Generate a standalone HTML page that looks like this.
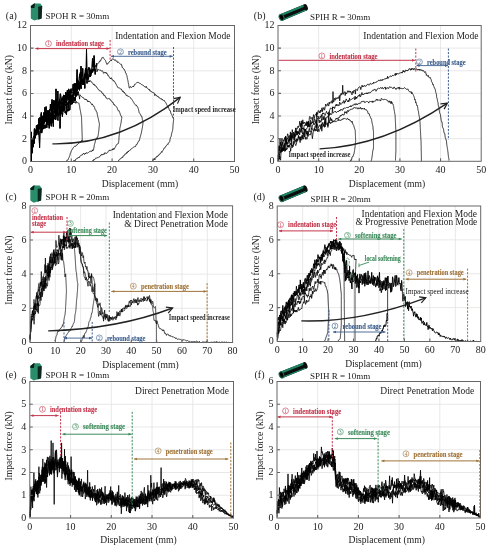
<!DOCTYPE html><html><head><meta charset="utf-8"><style>html,body{margin:0;padding:0;background:#fff;width:489px;height:550px;overflow:hidden}svg{display:block;filter:blur(0.3px)}</style></head><body><svg width="489" height="550" viewBox="0 0 489 550" font-family='"Liberation Serif", serif'>
<rect width="489" height="550" fill="#fff"/>
<path d="M71.3 25.5V161.5M112.1 25.5V161.5M152.9 25.5V161.5M193.7 25.5V161.5M30.5 138.83H234.5M30.5 116.17H234.5M30.5 93.5H234.5M30.5 70.83H234.5M30.5 48.17H234.5" stroke="#e2e2e2" stroke-width="0.8" fill="none"/>
<path d="M30.5 161.5 30.6 161.5 30.6 161.5 30.7 161.5 30.7 161.5 30.8 161.5 30.8 161.5 30.9 161.5 31.0 161.4 31.0 160.8 31.1 160.3 31.1 159.8 31.2 159.2 31.2 158.4 31.3 157.3 31.3 156.2 31.4 155.1 31.5 154.0 31.5 152.9 31.6 151.8 31.6 151.4 31.7 151.6 31.7 151.7 31.8 151.8 31.9 152.0 31.9 152.1 32.0 152.3 32.0 152.1 32.1 151.6 32.1 151.1 32.2 150.7 32.3 150.2 32.3 149.7 32.4 149.2 32.4 148.7 32.5 147.9 32.5 147.2 32.7 146.3 32.8 145.3 32.9 144.8 33.0 144.7 33.1 144.5 33.2 144.2 33.3 143.7 33.5 143.1 33.6 142.6 33.7 142.7 33.8 142.9 33.9 143.1 34.0 142.6 34.2 141.0 34.3 138.9 34.5 137.9 34.6 138.0 34.8 138.1 34.9 136.3 35.1 134.2 35.3 133.1 35.4 133.7 35.6 134.3 35.7 134.5 35.9 134.6 36.0 134.4 36.2 133.0 36.3 131.6 36.5 131.9 36.7 135.0 36.8 133.8 37.0 131.8 37.1 126.7 37.3 129.3 37.5 130.2 37.9 130.1 38.3 134.3 38.7 130.6 39.2 137.7 39.6 147.6 40.0 131.6 40.4 132.5 40.8 128.1 41.3 124.6 41.7 133.1 42.1 131.0 42.5 128.6 43.0 117.0 43.4 129.1 43.8 127.3 44.2 125.4 44.5 126.3 44.9 128.5 45.2 125.1 45.5 125.1 45.9 127.8 46.2 126.2 46.5 125.4 46.9 127.6 47.2 120.6 47.6 122.8 47.9 122.9 48.2 124.5 48.6 124.8 48.9 124.5 49.2 128.3 49.6 124.9 49.9 119.8 50.2 123.4 50.6 122.2 50.9 119.6 51.3 126.3 51.6 109.3 51.9 123.3 52.3 120.8 52.6 120.3 52.9 112.5 53.3 126.6 53.6 116.6 53.9 114.6 54.3 118.2 54.6 119.2 55.0 118.2 55.3 118.1 55.6 119.9 56.0 111.9 56.3 116.0 56.6 116.4 57.0 117.2 57.3 119.5 57.6 119.3 58.0 120.5 58.3 112.9 58.7 114.2 59.0 113.6 59.3 112.9 59.7 98.9 60.0 128.4 60.4 116.2 60.7 114.7 61.0 105.8 61.4 112.7 61.7 113.5 62.1 113.3 62.4 116.7 62.7 113.8 63.1 105.7 63.4 107.0 63.8 111.4 64.1 111.1 64.4 107.3 64.8 103.8 65.1 113.0 65.5 111.9 65.8 111.3 66.1 113.9 66.5 114.7 66.8 107.3 67.2 109.6 67.5 109.4 67.8 111.3 68.2 110.2 68.5 108.6 68.9 110.4 69.2 108.4 69.5 110.1 69.9 110.0 70.2 103.8 70.6 101.8 70.9 104.8 71.2 102.9 71.6 102.5 71.9 103.4 72.3 104.1 72.6 101.5 73.0 100.6 73.3 102.1 73.7 101.9 74.0 102.9 74.4 99.2 74.8 100.2 75.2 101.7 75.6 103.1 76.0 103.4 76.4 101.4 76.8 102.4 77.3 102.9 77.7 102.7 78.1 102.8 78.5 102.9 78.9 103.3 79.1 104.0 79.2 104.6 79.3 104.9 79.3 105.1 79.4 105.4 79.5 105.6 79.6 105.9 79.7 106.5 79.7 107.2 79.8 107.9 79.9 108.6 80.0 109.4 80.1 109.7 80.1 110.0 80.2 110.2 80.3 110.5 80.4 110.7 80.5 111.2 80.5 111.6 80.6 112.1 80.7 112.6 80.8 113.1 80.9 113.5 80.9 114.0 81.0 114.4 81.1 114.9 81.2 115.3 81.3 115.7 81.3 116.0 81.4 116.4 81.5 116.7 81.5 117.2 81.5 117.6 81.5 118.0 81.6 118.5 81.6 118.9 81.6 119.3 81.6 119.8 81.6 120.2 81.6 120.7 81.7 121.2 81.7 121.6 81.7 122.1 81.7 122.5 81.7 123.0 81.7 123.5 81.8 123.9 81.8 124.4 81.8 124.8 81.8 125.3 81.8 125.8 81.8 126.2 81.9 126.7 81.9 127.1 81.9 127.6 81.9 128.1 81.9 128.5 81.9 129.0 81.9 129.4 82.0 129.9 82.0 130.4 82.0 130.8 82.0 131.3 82.0 131.8 82.0 132.3 82.1 132.8 82.1 133.3 82.1 133.8 82.1 134.3 82.1 134.8 82.1 135.3 82.2 135.8 82.2 136.3 82.2 136.8 82.2 137.3 82.2 137.8 82.2 138.3 82.2 138.8 82.3 139.3 82.3 139.8 82.3 140.3 82.3 140.8 82.1 140.4 81.7 140.3 81.4 140.8 81.1 141.4 80.7 141.6 80.4 141.8 80.1 142.9 79.7 142.4 79.4 142.8 79.1 143.3 78.7 143.2 78.4 143.5 78.0 143.8 77.7 144.2 77.3 144.8 76.9 144.9 76.6 144.9 76.2 145.7 75.8 146.3 75.4 146.3 75.1 146.1 74.7 146.2 74.3 146.4 73.9 147.0 73.6 147.4 73.4 147.8 73.1 148.0 72.9 148.1 72.6 148.8 72.3 149.4 72.1 149.7 71.8 150.0 71.6 150.3 71.5 150.7 71.3 151.1 71.1 151.6 71.0 152.1 70.8 152.6 70.6 152.7 70.5 152.8 70.3 153.4 70.1 154.4 70.0 155.2 69.8 155.6 69.6 156.0 69.5 156.4 69.3 156.7 69.1 157.1 69.0 157.6 68.8 158.1 68.6 158.3 68.5 158.6 68.3 159.1 68.1 159.7 67.9 160.1 67.5 160.1 67.2 160.4 66.8 160.3 66.5 161.5 66.1 161.5 65.7 161.5 65.4 161.5" stroke="#000" stroke-width="0.8" fill="none" stroke-linejoin="round" opacity="1"/>
<path d="M30.5 161.5 30.6 161.5 30.6 161.5 30.7 161.5 30.7 161.5 30.8 161.5 30.8 161.5 30.9 161.5 31.0 161.4 31.0 160.8 31.1 160.3 31.1 159.8 31.2 159.2 31.2 158.4 31.3 157.3 31.3 156.2 31.4 155.1 31.5 154.0 31.5 152.9 31.6 151.8 31.6 151.4 31.7 151.6 31.7 151.7 31.8 151.8 31.9 152.0 31.9 152.1 32.0 152.3 32.0 152.1 32.1 151.6 32.1 151.1 32.2 150.7 32.3 150.2 32.3 149.7 32.4 149.2 32.4 148.7 32.5 147.9 32.5 147.2 32.7 146.3 32.8 145.3 32.9 144.8 33.0 144.7 33.1 144.5 33.2 144.2 33.3 143.7 33.5 143.1 33.6 142.6 33.7 142.7 33.8 142.9 33.9 143.1 34.0 142.6 34.2 141.0 34.3 138.9 34.5 137.9 34.6 138.0 34.8 138.1 34.9 136.3 35.1 134.2 35.3 133.1 35.4 133.7 35.6 134.3 35.7 134.5 35.9 134.6 36.0 134.4 36.2 133.0 36.3 131.6 36.5 131.9 36.7 135.0 36.8 133.8 37.0 131.8 37.1 126.7 37.3 129.3 37.5 130.2 37.9 130.1 38.3 134.3 38.7 130.6 39.2 137.7 39.6 147.6 40.0 131.6 40.4 132.5 40.8 128.1 41.3 124.6 41.7 133.1 42.1 131.0 42.5 128.6 43.0 117.0 43.4 129.1 43.8 127.3 44.2 125.4 44.5 126.3 44.9 128.5 45.2 125.1 45.5 125.1 45.9 127.8 46.2 126.2 46.5 125.4 46.9 127.6 47.2 120.6 47.6 122.8 47.9 122.9 48.2 124.5 48.6 124.8 48.9 124.5 49.2 128.3 49.6 124.9 49.9 119.8 50.2 123.4 50.6 122.2 50.9 119.6 51.3 126.3 51.6 109.3 51.9 123.3 52.3 120.8 52.6 120.3 52.9 112.5 53.3 126.6 53.6 116.6 53.9 114.6 54.3 118.2 54.6 119.2 55.0 118.2 55.3 118.1 55.6 119.9 56.0 111.9 56.3 116.0 56.6 116.4 57.0 117.2 57.3 119.5 57.6 119.3 58.0 120.5 58.3 112.9 58.7 114.2 59.0 113.6 59.3 112.9 59.7 98.9 60.0 128.4 60.4 116.2 60.7 114.7 61.0 105.8 61.4 112.7 61.7 113.5 62.1 113.3 62.4 116.7 62.7 113.8 63.1 105.7 63.4 107.0 63.8 111.4 64.1 111.1 64.4 107.3 64.8 103.8 65.1 113.0 65.5 111.9 65.8 111.3 66.1 113.9 66.5 114.7 66.8 107.3 67.2 109.6 67.5 109.4 67.8 111.3 68.2 110.2 68.5 108.6 68.9 110.4 69.2 108.4 69.5 110.1 69.9 110.0 70.2 103.8 70.6 101.8 70.9 104.8 71.2 102.9 71.6 102.5 71.9 103.4 72.3 104.1 72.6 101.5 73.0 100.6 73.3 102.1 73.7 101.9 74.0 102.9" stroke="#000" stroke-width="1.0" fill="none" stroke-linejoin="round"/>
<path d="M30.5 160.8 30.6 160.7 30.6 160.7 30.7 160.7 30.7 160.6 30.8 160.6 30.8 160.1 30.9 159.2 30.9 158.3 31.0 157.3 31.1 161.5 31.1 155.5 31.2 154.6 31.2 153.9 31.3 153.8 31.3 153.7 31.4 153.6 31.4 152.9 31.5 153.4 31.5 153.3 31.6 153.2 31.7 152.3 31.7 151.4 31.8 150.5 31.8 149.6 31.9 148.7 31.9 147.8 32.0 146.9 32.0 146.7 32.1 146.7 32.2 146.8 32.2 146.8 32.3 146.9 32.3 146.9 32.4 147.0 32.4 146.8 32.5 146.4 32.5 146.0 32.7 145.8 32.8 145.5 32.9 145.7 33.0 146.2 33.1 146.7 33.2 147.2 33.3 146.1 33.4 145.0 33.5 144.0 33.6 142.5 33.8 140.6 33.9 138.6 34.0 136.6 34.1 134.3 34.2 131.8 34.4 128.8 34.5 130.4 34.6 128.7 34.8 138.4 34.9 137.9 35.1 137.2 35.2 136.1 35.4 133.9 35.5 132.9 35.7 130.3 35.8 130.0 36.0 129.7 36.1 130.3 36.3 131.3 36.4 132.2 36.5 130.9 36.7 129.6 36.8 129.2 37.0 130.9 37.1 132.6 37.3 132.6 37.4 131.1 37.8 127.5 38.2 124.2 38.6 125.8 39.0 129.2 39.4 128.1 39.8 125.5 40.2 124.7 40.5 127.1 40.9 128.6 41.3 112.5 41.7 124.5 42.1 128.9 42.5 128.4 42.9 124.1 43.3 123.7 43.7 122.9 44.1 125.6 44.4 127.5 44.7 126.3 45.0 127.0 45.4 127.3 45.7 126.3 46.0 124.7 46.4 123.5 46.7 125.4 47.0 121.2 47.3 123.2 47.7 120.9 48.0 121.8 48.3 111.5 48.7 117.7 49.0 120.4 49.3 120.6 49.7 118.6 50.0 120.6 50.3 122.6 50.6 118.4 51.0 116.0 51.3 116.2 51.6 113.6 52.0 99.5 52.3 115.2 52.6 116.3 52.9 118.7 53.3 120.1 53.6 114.9 53.9 116.9 54.3 114.9 54.6 114.8 54.9 116.7 55.2 116.1 55.6 119.7 55.9 114.4 56.2 110.7 56.6 111.8 56.9 114.5 57.2 111.7 57.6 108.4 57.9 116.4 58.2 115.3 58.6 114.8 58.9 113.1 59.2 106.3 59.6 109.5 59.9 107.8 60.3 115.4 60.6 113.6 60.9 108.6 61.3 105.7 61.6 109.7 62.0 110.0 62.3 107.7 62.6 110.9 63.0 110.5 63.3 106.2 63.7 105.2 64.0 96.3 64.3 108.2 64.7 105.1 65.0 104.7 65.4 105.4 65.7 105.1 66.0 103.3 66.4 103.4 66.7 107.6 67.1 107.8 67.4 105.4 67.7 103.0 68.1 101.7 68.4 101.3 68.8 108.1 69.1 102.4 69.4 101.2 69.8 102.8 70.1 103.3 70.5 101.0 70.8 99.6 71.1 95.7 71.5 102.2 71.8 100.8 72.2 98.9 72.5 100.7 72.9 99.5 73.2 94.4 73.6 95.0 73.9 100.7 74.2 100.2 74.6 97.3 74.9 98.3 75.3 100.6 75.6 93.3 76.0 95.6 76.3 95.3 76.7 94.1 77.0 91.5 77.4 92.1 77.7 95.2 78.1 95.0 78.4 91.5 78.8 95.6 79.2 96.0 79.6 99.1 79.9 94.7 80.3 95.5 80.7 95.7 81.1 96.0 81.5 96.4 81.8 97.0 82.2 97.4 82.6 97.4 83.0 97.5 83.4 97.6 83.7 97.9 84.1 99.0 84.5 99.3 84.9 99.4 85.3 99.1 85.7 100.0 86.1 99.4 86.5 99.5 86.9 100.3 87.2 100.2 87.6 101.6 88.0 101.0 88.4 101.7 88.8 101.0 89.2 101.3 89.5 101.9 89.8 101.9 90.1 101.9 90.5 102.4 90.8 103.1 91.1 103.5 91.4 104.1 91.7 104.6 92.0 104.4 92.4 103.9 92.7 105.0 93.0 105.5 93.3 105.7 93.6 106.3 93.9 106.2 94.1 106.4 94.3 106.9 94.5 107.3 94.7 107.9 94.8 108.5 95.0 109.2 95.2 109.8 95.4 109.9 95.6 110.0 95.8 110.1 96.0 110.3 96.2 111.0 96.4 111.7 96.6 111.8 96.8 112.0 97.0 112.6 97.1 113.1 97.2 113.7 97.3 114.3 97.4 114.9 97.5 115.5 97.6 116.2 97.7 116.5 97.8 116.7 97.9 116.9 98.0 117.1 98.0 117.4 98.1 117.9 98.2 118.3 98.3 118.7 98.4 119.2 98.5 119.7 98.6 120.3 98.7 120.8 98.8 121.3 98.9 121.7 99.0 122.1 99.1 122.6 99.2 123.0 99.3 123.4 99.4 123.7 99.4 124.1 99.4 124.6 99.3 125.1 99.3 125.6 99.2 126.1 99.2 126.6 99.1 127.0 99.1 127.5 99.1 127.9 99.0 128.4 99.0 128.8 98.9 129.3 98.9 129.8 98.8 130.2 98.8 130.6 98.7 131.0 98.7 131.4 98.6 131.9 98.6 132.3 98.5 132.7 98.5 133.1 98.4 133.5 98.4 133.9 98.3 134.4 98.3 134.8 98.2 135.3 98.0 135.7 97.8 136.6 97.6 137.4 97.3 137.3 97.1 137.3 96.9 137.5 96.7 138.0 96.4 138.7 96.2 138.8 96.0 138.9 95.8 139.7 95.5 140.4 95.3 141.1 95.3 141.7 95.2 142.2 95.1 142.5 95.0 142.7 94.9 143.0 94.8 143.3 94.7 143.7 94.6 144.1 94.5 144.4 94.4 144.8 94.3 145.2 94.2 145.7 94.1 146.1 94.1 146.5 94.0 147.0 93.9 147.6 93.8 148.2 93.7 148.9 93.6 149.4 93.5 149.8 93.4 150.1 93.2 150.2 92.8 150.9 92.4 149.8 92.0 151.1 91.6 151.6 91.1 151.3 90.7 151.3 90.3 151.1 89.9 151.3 89.5 151.9 89.1 151.8 88.6 152.3 88.2 152.8 87.8 153.1 87.4 153.1 87.0 152.9 86.5 152.7 86.1 152.8 85.7 153.9 85.2 153.2 84.8 154.3 84.4 154.2 84.0 154.2 83.5 153.3 83.1 153.9 82.8 154.1 82.4 154.9 82.0 155.1 81.7 155.1 81.3 155.1 81.0 155.2 80.6 155.6 80.3 155.9 79.9 156.2 79.6 157.4 79.2 157.3 78.8 157.6 78.5 157.1 78.1 157.8 77.8 158.3 77.4 158.1 77.1 158.1 76.7 158.8 76.4 159.2 76.0 159.5 75.6 159.4 75.2 160.7 74.8 160.2 74.5 160.6 74.1 161.2 73.7 160.8 73.3 160.8 72.9 161.4" stroke="#000" stroke-width="0.8" fill="none" stroke-linejoin="round" opacity="1"/>
<path d="M30.5 160.8 30.6 160.7 30.6 160.7 30.7 160.7 30.7 160.6 30.8 160.6 30.8 160.1 30.9 159.2 30.9 158.3 31.0 157.3 31.1 161.5 31.1 155.5 31.2 154.6 31.2 153.9 31.3 153.8 31.3 153.7 31.4 153.6 31.4 152.9 31.5 153.4 31.5 153.3 31.6 153.2 31.7 152.3 31.7 151.4 31.8 150.5 31.8 149.6 31.9 148.7 31.9 147.8 32.0 146.9 32.0 146.7 32.1 146.7 32.2 146.8 32.2 146.8 32.3 146.9 32.3 146.9 32.4 147.0 32.4 146.8 32.5 146.4 32.5 146.0 32.7 145.8 32.8 145.5 32.9 145.7 33.0 146.2 33.1 146.7 33.2 147.2 33.3 146.1 33.4 145.0 33.5 144.0 33.6 142.5 33.8 140.6 33.9 138.6 34.0 136.6 34.1 134.3 34.2 131.8 34.4 128.8 34.5 130.4 34.6 128.7 34.8 138.4 34.9 137.9 35.1 137.2 35.2 136.1 35.4 133.9 35.5 132.9 35.7 130.3 35.8 130.0 36.0 129.7 36.1 130.3 36.3 131.3 36.4 132.2 36.5 130.9 36.7 129.6 36.8 129.2 37.0 130.9 37.1 132.6 37.3 132.6 37.4 131.1 37.8 127.5 38.2 124.2 38.6 125.8 39.0 129.2 39.4 128.1 39.8 125.5 40.2 124.7 40.5 127.1 40.9 128.6 41.3 112.5 41.7 124.5 42.1 128.9 42.5 128.4 42.9 124.1 43.3 123.7 43.7 122.9 44.1 125.6 44.4 127.5 44.7 126.3 45.0 127.0 45.4 127.3 45.7 126.3 46.0 124.7 46.4 123.5 46.7 125.4 47.0 121.2 47.3 123.2 47.7 120.9 48.0 121.8 48.3 111.5 48.7 117.7 49.0 120.4 49.3 120.6 49.7 118.6 50.0 120.6 50.3 122.6 50.6 118.4 51.0 116.0 51.3 116.2 51.6 113.6 52.0 99.5 52.3 115.2 52.6 116.3 52.9 118.7 53.3 120.1 53.6 114.9 53.9 116.9 54.3 114.9 54.6 114.8 54.9 116.7 55.2 116.1 55.6 119.7 55.9 114.4 56.2 110.7 56.6 111.8 56.9 114.5 57.2 111.7 57.6 108.4 57.9 116.4 58.2 115.3 58.6 114.8 58.9 113.1 59.2 106.3 59.6 109.5 59.9 107.8 60.3 115.4 60.6 113.6 60.9 108.6 61.3 105.7 61.6 109.7 62.0 110.0 62.3 107.7 62.6 110.9 63.0 110.5 63.3 106.2 63.7 105.2 64.0 96.3 64.3 108.2 64.7 105.1 65.0 104.7 65.4 105.4 65.7 105.1 66.0 103.3 66.4 103.4 66.7 107.6 67.1 107.8 67.4 105.4 67.7 103.0 68.1 101.7 68.4 101.3 68.8 108.1 69.1 102.4 69.4 101.2 69.8 102.8 70.1 103.3 70.5 101.0 70.8 99.6 71.1 95.7 71.5 102.2 71.8 100.8 72.2 98.9 72.5 100.7 72.9 99.5 73.2 94.4 73.6 95.0 73.9 100.7 74.2 100.2 74.6 97.3 74.9 98.3 75.3 100.6 75.6 93.3 76.0 95.6 76.3 95.3 76.7 94.1 77.0 91.5 77.4 92.1 77.7 95.2 78.1 95.0" stroke="#000" stroke-width="1.0" fill="none" stroke-linejoin="round"/>
<path d="M30.5 160.9 30.6 160.7 30.6 160.6 30.7 160.4 30.7 160.2 30.8 160.1 30.8 159.5 30.9 158.4 30.9 157.4 31.0 156.3 31.0 155.2 31.1 154.1 31.1 153.0 31.2 151.9 31.3 151.6 31.3 151.3 31.4 151.1 31.4 150.8 31.5 150.6 31.5 150.3 31.6 150.1 31.6 150.2 31.7 150.6 31.7 151.1 31.8 151.5 31.8 152.0 31.9 152.4 32.0 152.9 32.0 153.3 32.1 152.6 32.1 151.9 32.2 151.3 32.2 150.6 32.3 149.9 32.3 149.2 32.4 148.6 32.4 147.9 32.5 147.3 32.5 146.6 32.6 145.8 32.8 145.0 32.9 144.2 33.0 143.5 33.1 142.7 33.2 141.9 33.3 141.9 33.4 142.1 33.5 142.3 33.6 142.4 33.7 142.9 33.8 143.3 33.9 143.8 34.0 143.9 34.1 142.0 34.2 139.9 34.4 137.6 34.5 137.6 34.7 137.9 34.8 138.2 34.9 136.7 35.1 135.0 35.2 133.4 35.3 133.8 35.5 134.3 35.6 134.5 35.8 133.2 35.9 133.6 36.0 130.9 36.2 130.6 36.3 130.2 36.4 129.7 36.6 128.9 36.7 128.1 36.9 128.1 37.0 129.2 37.1 130.3 37.3 130.1 37.4 128.3 37.7 126.6 38.1 128.4 38.4 131.7 38.8 129.1 39.1 128.2 39.5 125.5 39.8 124.6 40.2 127.2 40.6 127.2 40.9 123.3 41.3 124.4 41.6 125.9 42.0 116.0 42.3 124.0 42.7 126.0 43.0 122.6 43.4 119.1 43.8 120.3 44.1 122.3 44.4 117.6 44.7 118.2 45.1 121.9 45.4 119.2 45.7 115.7 46.0 120.7 46.4 119.2 46.7 124.8 47.0 121.7 47.3 117.0 47.6 120.2 48.0 117.0 48.3 121.7 48.6 118.1 48.9 112.5 49.2 111.1 49.6 109.0 49.9 121.1 50.2 118.5 50.5 112.7 50.9 115.1 51.2 124.5 51.5 117.4 51.8 102.0 52.1 109.8 52.5 107.3 52.8 114.7 53.1 111.8 53.4 112.0 53.8 111.8 54.1 111.0 54.4 113.5 54.7 109.4 55.0 107.9 55.4 111.3 55.7 114.1 56.0 88.9 56.3 112.0 56.7 112.4 57.0 109.3 57.3 106.9 57.6 109.5 57.9 105.1 58.3 105.3 58.6 104.8 59.0 106.5 59.3 109.0 59.6 109.2 60.0 102.9 60.3 101.7 60.7 101.9 61.0 103.1 61.3 102.7 61.7 102.2 62.0 104.0 62.4 108.6 62.7 104.1 63.0 102.2 63.4 101.1 63.7 101.8 64.1 105.7 64.4 95.4 64.7 101.4 65.1 102.8 65.4 103.1 65.8 100.7 66.1 98.5 66.4 108.7 66.8 93.2 67.1 99.1 67.5 96.8 67.8 96.0 68.1 94.9 68.5 92.4 68.8 99.3 69.2 98.6 69.5 94.6 69.8 97.4 70.2 100.4 70.5 99.5 70.9 96.5 71.2 95.9 71.5 102.0 71.9 97.9 72.2 97.1 72.5 98.2 72.8 98.0 73.0 95.7 73.3 95.1 73.6 95.2 73.9 90.5 74.2 89.7 74.4 92.0 74.7 93.5 75.0 93.0 75.3 91.1 75.6 88.5 75.8 87.9 76.1 87.2 76.4 85.6 76.7 89.5 77.0 91.2 77.2 78.7 77.5 85.0 77.8 86.6 78.1 88.9 78.3 83.1 78.6 83.0 78.9 85.0 79.2 88.1 79.5 90.3 79.7 88.4 80.0 83.6 80.3 86.4 80.6 86.6 80.9 86.3 81.1 88.8 81.4 82.4 81.7 78.0 82.0 81.3 82.3 81.8 82.5 81.2 82.8 79.8 83.1 79.5 83.4 79.7 83.7 79.7 83.9 78.5 84.2 79.2 84.5 82.2 84.8 88.4 85.1 80.6 85.3 75.7 85.6 75.5 85.9 69.7 86.2 73.4 86.6 77.2 87.0 83.4 87.3 81.3 87.7 76.4 88.1 80.1 88.5 82.1 88.9 80.5 89.3 80.6 89.7 81.9 90.1 80.9 90.5 80.7 90.9 81.2 91.3 81.9 91.7 82.1 92.0 82.8 92.3 82.8 92.6 83.1 92.9 83.7 93.2 84.2 93.5 84.7 93.8 84.1 94.1 84.0 94.4 85.0 94.8 85.7 95.1 86.0 95.4 85.8 95.7 85.6 96.0 85.9 96.3 87.0 96.6 87.4 96.9 87.4 97.2 87.6 97.6 88.4 97.9 89.1 98.2 89.5 98.5 89.6 98.8 89.6 99.2 90.2 99.5 90.8 99.8 90.9 100.1 90.9 100.5 90.8 100.8 91.2 101.1 91.9 101.4 91.8 101.7 91.9 102.0 93.1 102.3 93.2 102.6 93.7 102.9 94.1 103.2 93.6 103.5 94.3 103.8 95.2 104.1 95.9 104.4 95.9 104.7 95.4 105.0 95.6 105.3 96.3 105.6 97.1 106.0 97.1 106.3 98.3 106.7 98.4 107.1 98.8 107.5 98.9 107.9 98.8 108.2 98.6 108.6 98.5 109.0 98.6 109.4 98.6 109.8 98.9 110.1 100.0 110.5 100.0 110.9 100.1 111.2 100.9 111.5 101.2 111.7 101.4 112.0 101.5 112.3 102.4 112.6 102.5 112.9 102.3 113.1 102.4 113.4 103.3 113.7 104.3 114.0 105.0 114.3 104.6 114.6 104.8 114.8 105.4 115.1 105.4 115.4 105.8 115.7 106.2 116.0 106.2 116.2 106.4 116.5 106.7 116.8 107.2 117.1 107.9 117.4 108.6 117.7 109.4 117.9 110.2 118.2 110.7 118.5 110.8 118.8 110.7 119.1 110.7 119.2 111.0 119.4 111.6 119.6 112.1 119.7 112.5 119.9 112.9 120.1 113.4 120.3 114.1 120.4 114.7 120.6 115.1 120.8 115.6 121.0 116.0 121.1 116.4 121.3 116.5 121.5 116.4 121.7 116.7 121.8 117.6 121.8 118.0 121.7 118.2 121.7 118.4 121.6 118.8 121.5 119.5 121.4 120.1 121.3 120.8 121.2 121.5 121.2 122.1 121.1 122.5 121.0 122.9 120.9 123.4 120.8 123.8 120.7 124.3 120.7 124.7 120.6 125.1 120.5 125.5 120.4 125.9 120.3 126.3 120.2 126.6 120.2 127.0 120.1 127.3 120.0 127.7 119.9 128.1 119.8 128.6 119.8 129.0 119.8 129.5 119.7 130.0 119.7 130.4 119.6 130.9 119.6 131.3 119.6 131.7 119.5 132.2 119.5 132.6 119.4 133.0 119.4 133.4 119.4 133.8 119.3 134.2 119.3 134.7 119.2 135.1 119.2 135.5 119.2 136.0 119.1 136.5 119.1 137.0 119.0 137.5 119.0 138.0 119.0 138.4 118.9 138.9 118.9 139.4 118.8 139.9 118.8 140.4 118.8 140.9 118.7 141.5 118.7 142.0 118.6 142.5 118.4 143.3 118.2 143.7 118.0 144.0 117.7 144.0 117.5 144.0 117.3 144.1 117.0 144.2 116.8 144.3 116.6 144.6 116.3 145.0 116.1 145.5 115.9 146.1 115.6 146.7 115.4 147.0 115.2 147.3 114.9 148.0 114.7 148.4 114.4 148.4 114.0 149.6 113.6 149.4 113.2 148.4 112.8 149.0 112.4 150.1 112.0 149.6 111.6 150.1 111.2 150.4 110.8 150.1 110.3 150.6 109.9 150.8 109.5 149.9 109.1 150.7 108.7 150.9 108.3 151.4 107.9 152.1 107.5 152.7 107.1 153.1 106.7 153.1 106.3 153.5 105.9 152.8 105.5 153.1 105.1 152.8 104.7 152.8 104.3 154.1 103.9 154.5 103.5 153.9 103.1 153.9 102.7 154.9 102.3 154.7 101.9 155.0 101.5 154.4 101.1 155.4 100.8 155.3 100.4 155.5 100.0 156.2 99.6 156.9 99.2 156.9 98.9 156.8 98.5 157.4 98.1 157.8 97.7 157.8 97.3 157.5 96.9 157.7 96.6 158.2 96.2 158.1 95.8 157.9 95.4 158.6 95.0 159.4 94.7 159.6 94.3 159.3 93.9 159.2 93.5 160.7 93.1 160.8 92.8 160.7 92.4 160.8 92.0 161.5 91.7 161.5" stroke="#000" stroke-width="0.8" fill="none" stroke-linejoin="round" opacity="1"/>
<path d="M30.5 160.9 30.6 160.7 30.6 160.6 30.7 160.4 30.7 160.2 30.8 160.1 30.8 159.5 30.9 158.4 30.9 157.4 31.0 156.3 31.0 155.2 31.1 154.1 31.1 153.0 31.2 151.9 31.3 151.6 31.3 151.3 31.4 151.1 31.4 150.8 31.5 150.6 31.5 150.3 31.6 150.1 31.6 150.2 31.7 150.6 31.7 151.1 31.8 151.5 31.8 152.0 31.9 152.4 32.0 152.9 32.0 153.3 32.1 152.6 32.1 151.9 32.2 151.3 32.2 150.6 32.3 149.9 32.3 149.2 32.4 148.6 32.4 147.9 32.5 147.3 32.5 146.6 32.6 145.8 32.8 145.0 32.9 144.2 33.0 143.5 33.1 142.7 33.2 141.9 33.3 141.9 33.4 142.1 33.5 142.3 33.6 142.4 33.7 142.9 33.8 143.3 33.9 143.8 34.0 143.9 34.1 142.0 34.2 139.9 34.4 137.6 34.5 137.6 34.7 137.9 34.8 138.2 34.9 136.7 35.1 135.0 35.2 133.4 35.3 133.8 35.5 134.3 35.6 134.5 35.8 133.2 35.9 133.6 36.0 130.9 36.2 130.6 36.3 130.2 36.4 129.7 36.6 128.9 36.7 128.1 36.9 128.1 37.0 129.2 37.1 130.3 37.3 130.1 37.4 128.3 37.7 126.6 38.1 128.4 38.4 131.7 38.8 129.1 39.1 128.2 39.5 125.5 39.8 124.6 40.2 127.2 40.6 127.2 40.9 123.3 41.3 124.4 41.6 125.9 42.0 116.0 42.3 124.0 42.7 126.0 43.0 122.6 43.4 119.1 43.8 120.3 44.1 122.3 44.4 117.6 44.7 118.2 45.1 121.9 45.4 119.2 45.7 115.7 46.0 120.7 46.4 119.2 46.7 124.8 47.0 121.7 47.3 117.0 47.6 120.2 48.0 117.0 48.3 121.7 48.6 118.1 48.9 112.5 49.2 111.1 49.6 109.0 49.9 121.1 50.2 118.5 50.5 112.7 50.9 115.1 51.2 124.5 51.5 117.4 51.8 102.0 52.1 109.8 52.5 107.3 52.8 114.7 53.1 111.8 53.4 112.0 53.8 111.8 54.1 111.0 54.4 113.5 54.7 109.4 55.0 107.9 55.4 111.3 55.7 114.1 56.0 88.9 56.3 112.0 56.7 112.4 57.0 109.3 57.3 106.9 57.6 109.5 57.9 105.1 58.3 105.3 58.6 104.8 59.0 106.5 59.3 109.0 59.6 109.2 60.0 102.9 60.3 101.7 60.7 101.9 61.0 103.1 61.3 102.7 61.7 102.2 62.0 104.0 62.4 108.6 62.7 104.1 63.0 102.2 63.4 101.1 63.7 101.8 64.1 105.7 64.4 95.4 64.7 101.4 65.1 102.8 65.4 103.1 65.8 100.7 66.1 98.5 66.4 108.7 66.8 93.2 67.1 99.1 67.5 96.8 67.8 96.0 68.1 94.9 68.5 92.4 68.8 99.3 69.2 98.6 69.5 94.6 69.8 97.4 70.2 100.4 70.5 99.5 70.9 96.5 71.2 95.9 71.5 102.0 71.9 97.9 72.2 97.1 72.5 98.2 72.8 98.0 73.0 95.7 73.3 95.1 73.6 95.2 73.9 90.5 74.2 89.7 74.4 92.0 74.7 93.5 75.0 93.0 75.3 91.1 75.6 88.5 75.8 87.9 76.1 87.2 76.4 85.6 76.7 89.5 77.0 91.2 77.2 78.7 77.5 85.0 77.8 86.6 78.1 88.9 78.3 83.1 78.6 83.0 78.9 85.0 79.2 88.1 79.5 90.3 79.7 88.4 80.0 83.6 80.3 86.4 80.6 86.6 80.9 86.3 81.1 88.8 81.4 82.4 81.7 78.0 82.0 81.3 82.3 81.8 82.5 81.2 82.8 79.8 83.1 79.5 83.4 79.7 83.7 79.7 83.9 78.5 84.2 79.2 84.5 82.2 84.8 88.4 85.1 80.6 85.3 75.7 85.6 75.5 85.9 69.7 86.2 73.4 86.6 77.2 87.0 83.4 87.3 81.3" stroke="#000" stroke-width="1.0" fill="none" stroke-linejoin="round"/>
<path d="M30.5 161.5 30.6 161.5 30.6 161.5 30.7 161.4 30.7 161.0 30.8 160.6 30.8 159.9 30.9 158.7 30.9 157.5 31.0 156.3 31.0 145.4 31.1 153.8 31.1 152.6 31.2 151.4 31.2 150.7 31.3 150.4 31.3 150.0 31.4 149.6 31.4 131.9 31.5 148.9 31.6 148.5 31.6 148.2 31.7 148.4 31.7 148.7 31.8 148.9 31.8 149.2 31.9 149.4 31.9 149.6 32.0 149.9 32.0 149.8 32.1 149.2 32.1 148.7 32.2 148.1 32.2 147.6 32.3 147.0 32.3 146.5 32.4 145.9 32.4 144.9 32.5 143.7 32.6 142.4 32.7 140.6 32.8 138.8 32.9 138.6 33.0 139.8 33.1 137.8 33.2 142.1 33.3 142.0 33.4 141.0 33.5 142.5 33.6 138.9 33.7 138.1 33.8 137.5 33.9 136.8 34.0 136.2 34.1 136.0 34.2 136.1 34.3 136.4 34.4 136.5 34.6 136.0 34.7 135.5 34.8 135.0 34.9 135.0 35.1 135.0 35.2 134.9 35.3 134.1 35.5 133.2 35.6 132.3 35.7 133.2 35.9 134.3 36.0 135.3 36.1 133.8 36.2 131.8 36.4 129.9 36.5 129.0 36.6 128.5 36.8 128.0 36.9 128.4 37.0 129.4 37.1 130.3 37.3 129.4 37.4 127.1 37.7 125.1 38.0 128.7 38.3 133.2 38.6 132.4 39.0 128.0 39.3 123.2 39.6 121.8 39.9 124.1 40.3 126.5 40.6 125.9 40.9 122.5 41.2 119.2 41.5 121.0 41.9 124.1 42.2 122.2 42.5 118.4 42.8 119.6 43.1 119.3 43.5 118.4 43.8 117.1 44.1 116.4 44.4 117.8 44.7 120.2 45.1 118.7 45.4 117.1 45.7 115.8 46.0 112.8 46.3 119.3 46.6 119.0 46.9 118.3 47.3 119.4 47.6 115.9 47.9 117.8 48.2 123.2 48.5 122.8 48.8 112.9 49.2 125.5 49.5 118.1 49.8 118.7 50.1 118.8 50.4 117.5 50.7 122.5 51.0 114.1 51.4 111.7 51.7 111.0 52.0 111.3 52.3 110.0 52.6 111.9 52.9 111.8 53.3 105.1 53.6 110.3 53.9 103.6 54.2 107.6 54.5 108.5 54.8 110.1 55.2 104.1 55.5 104.8 55.8 107.1 56.1 106.7 56.4 99.9 56.7 99.5 57.0 107.3 57.4 112.9 57.7 112.7 58.0 107.3 58.3 103.3 58.7 101.6 59.0 101.7 59.4 103.3 59.7 103.7 60.0 100.7 60.4 101.5 60.7 104.7 61.1 104.3 61.4 101.4 61.7 101.6 62.1 105.5 62.4 104.6 62.8 103.5 63.1 96.4 63.4 96.1 63.8 97.1 64.1 98.5 64.5 101.5 64.8 99.6 65.1 95.2 65.5 98.0 65.8 92.1 66.2 95.5 66.5 97.8 66.8 97.3 67.2 95.1 67.5 93.7 67.9 90.4 68.2 93.0 68.5 93.9 68.9 91.4 69.2 99.0 69.6 102.0 69.9 103.3 70.3 97.1 70.6 91.1 70.9 92.9 71.3 101.4 71.6 95.5 72.0 94.9 72.3 98.1 72.5 97.6 72.8 97.0 73.1 92.1 73.4 93.0 73.7 94.8 73.9 95.7 74.2 93.4 74.5 90.7 74.8 88.8 75.1 93.3 75.3 94.0 75.6 90.2 75.9 86.9 76.2 91.3 76.5 96.3 76.7 87.9 77.0 82.7 77.3 82.6 77.6 90.1 77.9 83.4 78.1 80.9 78.4 83.8 78.7 81.3 79.0 81.5 79.3 83.4 79.5 86.0 79.8 87.4 80.1 84.0 80.4 72.1 80.7 80.3 80.9 83.7 81.2 80.2 81.5 76.4 81.8 77.1 82.1 79.6 82.3 79.3 82.6 82.9 82.9 84.7 83.2 81.1 83.5 82.0 83.7 83.1 84.0 83.7 84.3 77.5 84.6 74.2 84.9 73.8 85.1 77.4 85.4 78.1 85.7 77.1 86.0 74.5 86.3 73.6 86.7 79.2 87.1 75.3 87.5 73.6 87.8 76.0 88.2 79.5 88.6 78.4 88.9 73.9 89.3 72.1 89.7 70.7 90.1 77.0 90.4 69.8 90.8 75.8 91.2 72.8 91.5 72.8 91.9 69.3 92.3 69.4 92.6 72.4 93.0 71.3 93.4 69.3 93.8 70.3 94.1 55.6 94.5 70.4 94.9 70.1 95.2 74.4 95.6 69.2 96.0 66.4 96.5 63.2 96.9 71.8 97.3 71.0 97.8 69.4 98.2 69.3 98.6 69.8 99.1 69.9 99.5 69.9 99.9 70.4 100.3 70.3 100.6 70.2 101.0 70.3 101.3 70.6 101.7 71.3 102.0 70.9 102.3 70.7 102.7 71.3 103.0 71.8 103.4 72.8 103.7 73.4 104.1 72.5 104.6 72.5 105.0 72.9 105.5 72.9 105.9 72.1 106.4 73.6 106.8 73.5 107.1 73.4 107.3 73.6 107.5 74.1 107.8 75.0 108.0 75.9 108.3 75.7 108.5 75.7 108.7 76.1 109.0 76.7 109.2 77.3 109.5 77.3 109.7 77.5 110.1 78.0 110.4 79.0 110.8 78.3 111.1 77.8 111.5 77.9 111.8 78.9 112.2 79.8 112.5 80.0 112.9 79.8 113.2 80.1 113.5 81.0 113.9 81.2 114.1 81.2 114.4 80.9 114.6 81.6 114.9 82.2 115.2 82.4 115.4 83.1 115.7 83.6 116.0 83.7 116.2 84.4 116.5 85.1 116.8 85.5 117.0 86.0 117.3 86.5 117.5 87.2 117.8 87.3 118.2 87.5 118.5 88.0 118.9 87.9 119.2 87.9 119.5 88.0 119.9 88.2 120.2 88.7 120.6 89.0 120.9 89.0 121.3 89.0 121.6 89.8 122.0 90.0 122.3 91.0 122.6 91.5 122.9 91.4 123.2 90.9 123.5 91.8 123.8 92.5 124.1 92.7 124.4 92.3 124.7 93.3 125.0 93.5 125.3 93.5 125.6 94.2 125.9 94.7 126.3 95.5 126.7 94.9 127.1 95.6 127.4 96.2 127.8 95.8 128.2 96.3 128.6 96.4 129.0 96.4 129.4 96.7 129.8 97.1 130.1 97.5 130.4 97.7 130.6 97.8 130.8 98.1 131.1 98.7 131.3 99.0 131.5 99.0 131.8 99.4 132.0 99.9 132.2 100.2 132.5 100.5 132.7 100.9 132.9 101.2 133.2 101.5 133.4 102.0 133.6 102.4 133.9 102.7 134.1 103.1 134.4 103.6 134.8 104.0 135.2 104.7 135.6 105.3 135.9 105.1 136.3 105.0 136.7 105.7 137.0 106.5 137.4 106.6 137.5 106.9 137.7 107.1 137.8 107.4 137.9 107.8 138.1 108.1 138.2 108.4 138.3 108.8 138.4 109.2 138.6 109.8 138.7 110.5 138.8 111.1 139.0 111.7 139.1 112.2 139.2 112.7 139.3 112.9 139.5 113.1 139.7 113.2 139.9 113.5 140.1 113.9 140.4 114.5 140.6 114.7 140.8 114.8 141.0 115.6 141.2 116.3 141.4 116.3 141.7 116.3 141.9 116.6 142.0 116.9 142.1 117.7 142.2 118.5 142.3 119.3 142.5 119.8 142.6 120.2 142.7 120.6 142.8 121.0 142.9 121.2 143.1 121.4 143.1 121.8 143.0 122.4 143.0 123.0 142.9 123.5 142.8 124.1 142.8 124.6 142.7 125.1 142.7 125.5 142.6 126.0 142.5 126.5 142.5 126.9 142.4 127.4 142.4 127.7 142.3 128.0 142.2 128.2 142.2 128.5 142.1 128.8 142.0 129.0 142.0 129.3 141.9 129.8 141.9 130.3 141.7 130.8 141.6 131.4 141.5 132.0 141.4 132.7 141.3 133.4 141.1 133.8 141.0 134.0 140.9 134.3 140.8 134.5 140.7 135.1 140.6 135.7 140.4 136.3 140.3 136.7 140.2 137.0 140.1 137.4 140.0 137.7 139.9 138.3 139.7 138.8 139.6 139.3 139.5 139.9 139.3 140.6 139.1 141.1 138.8 141.2 138.6 141.2 138.3 141.4 138.1 141.9 137.8 142.5 137.6 143.1 137.3 143.9 137.1 144.4 136.8 144.5 136.6 144.4 136.3 144.4 136.1 145.0 135.8 145.7 135.6 146.5 135.3 146.6 135.1 146.7 134.8 146.6 134.4 146.8 134.0 146.8 133.7 147.1 133.3 147.3 132.9 147.6 132.5 147.9 132.1 148.3 131.8 148.4 131.4 149.0 131.0 149.4 130.6 149.6 130.3 150.2 129.9 150.5 129.5 150.5 129.1 150.7 128.7 150.9 128.4 151.8 128.0 151.2 127.7 152.1 127.4 152.8 127.1 152.6 126.7 152.2 126.4 153.7 126.1 153.7 125.8 153.7 125.5 153.8 125.2 153.8 124.9 154.8 124.5 154.7 124.2 155.0 123.9 155.9 123.6 156.2 123.3 155.8 123.0 156.4 122.7 157.4 122.4 158.0 122.0 157.4 121.7 157.7 121.4 157.8 121.0 158.0 120.7 158.7 120.3 159.0 119.9 159.0 119.6 159.3 119.2 159.7 118.8 160.3 118.4 161.0 118.1 160.9 117.7 161.5 117.3 161.5 117.0 161.5 116.6 161.5" stroke="#000" stroke-width="0.8" fill="none" stroke-linejoin="round" opacity="1"/>
<path d="M30.5 161.5 30.6 161.5 30.6 161.5 30.7 161.4 30.7 161.0 30.8 160.6 30.8 159.9 30.9 158.7 30.9 157.5 31.0 156.3 31.0 145.4 31.1 153.8 31.1 152.6 31.2 151.4 31.2 150.7 31.3 150.4 31.3 150.0 31.4 149.6 31.4 131.9 31.5 148.9 31.6 148.5 31.6 148.2 31.7 148.4 31.7 148.7 31.8 148.9 31.8 149.2 31.9 149.4 31.9 149.6 32.0 149.9 32.0 149.8 32.1 149.2 32.1 148.7 32.2 148.1 32.2 147.6 32.3 147.0 32.3 146.5 32.4 145.9 32.4 144.9 32.5 143.7 32.6 142.4 32.7 140.6 32.8 138.8 32.9 138.6 33.0 139.8 33.1 137.8 33.2 142.1 33.3 142.0 33.4 141.0 33.5 142.5 33.6 138.9 33.7 138.1 33.8 137.5 33.9 136.8 34.0 136.2 34.1 136.0 34.2 136.1 34.3 136.4 34.4 136.5 34.6 136.0 34.7 135.5 34.8 135.0 34.9 135.0 35.1 135.0 35.2 134.9 35.3 134.1 35.5 133.2 35.6 132.3 35.7 133.2 35.9 134.3 36.0 135.3 36.1 133.8 36.2 131.8 36.4 129.9 36.5 129.0 36.6 128.5 36.8 128.0 36.9 128.4 37.0 129.4 37.1 130.3 37.3 129.4 37.4 127.1 37.7 125.1 38.0 128.7 38.3 133.2 38.6 132.4 39.0 128.0 39.3 123.2 39.6 121.8 39.9 124.1 40.3 126.5 40.6 125.9 40.9 122.5 41.2 119.2 41.5 121.0 41.9 124.1 42.2 122.2 42.5 118.4 42.8 119.6 43.1 119.3 43.5 118.4 43.8 117.1 44.1 116.4 44.4 117.8 44.7 120.2 45.1 118.7 45.4 117.1 45.7 115.8 46.0 112.8 46.3 119.3 46.6 119.0 46.9 118.3 47.3 119.4 47.6 115.9 47.9 117.8 48.2 123.2 48.5 122.8 48.8 112.9 49.2 125.5 49.5 118.1 49.8 118.7 50.1 118.8 50.4 117.5 50.7 122.5 51.0 114.1 51.4 111.7 51.7 111.0 52.0 111.3 52.3 110.0 52.6 111.9 52.9 111.8 53.3 105.1 53.6 110.3 53.9 103.6 54.2 107.6 54.5 108.5 54.8 110.1 55.2 104.1 55.5 104.8 55.8 107.1 56.1 106.7 56.4 99.9 56.7 99.5 57.0 107.3 57.4 112.9 57.7 112.7 58.0 107.3 58.3 103.3 58.7 101.6 59.0 101.7 59.4 103.3 59.7 103.7 60.0 100.7 60.4 101.5 60.7 104.7 61.1 104.3 61.4 101.4 61.7 101.6 62.1 105.5 62.4 104.6 62.8 103.5 63.1 96.4 63.4 96.1 63.8 97.1 64.1 98.5 64.5 101.5 64.8 99.6 65.1 95.2 65.5 98.0 65.8 92.1 66.2 95.5 66.5 97.8 66.8 97.3 67.2 95.1 67.5 93.7 67.9 90.4 68.2 93.0 68.5 93.9 68.9 91.4 69.2 99.0 69.6 102.0 69.9 103.3 70.3 97.1 70.6 91.1 70.9 92.9 71.3 101.4 71.6 95.5 72.0 94.9 72.3 98.1 72.5 97.6 72.8 97.0 73.1 92.1 73.4 93.0 73.7 94.8 73.9 95.7 74.2 93.4 74.5 90.7 74.8 88.8 75.1 93.3 75.3 94.0 75.6 90.2 75.9 86.9 76.2 91.3 76.5 96.3 76.7 87.9 77.0 82.7 77.3 82.6 77.6 90.1 77.9 83.4 78.1 80.9 78.4 83.8 78.7 81.3 79.0 81.5 79.3 83.4 79.5 86.0 79.8 87.4 80.1 84.0 80.4 72.1 80.7 80.3 80.9 83.7 81.2 80.2 81.5 76.4 81.8 77.1 82.1 79.6 82.3 79.3 82.6 82.9 82.9 84.7 83.2 81.1 83.5 82.0 83.7 83.1 84.0 83.7 84.3 77.5 84.6 74.2 84.9 73.8 85.1 77.4 85.4 78.1 85.7 77.1 86.0 74.5 86.3 73.6 86.7 79.2 87.1 75.3 87.5 73.6 87.8 76.0 88.2 79.5 88.6 78.4 88.9 73.9 89.3 72.1 89.7 70.7 90.1 77.0 90.4 69.8 90.8 75.8 91.2 72.8 91.5 72.8 91.9 69.3 92.3 69.4 92.6 72.4 93.0 71.3 93.4 69.3 93.8 70.3 94.1 55.6 94.5 70.4 94.9 70.1 95.2 74.4 95.6 69.2" stroke="#000" stroke-width="1.0" fill="none" stroke-linejoin="round"/>
<path d="M30.5 158.6 30.6 158.7 30.6 148.9 30.7 158.8 30.7 158.8 30.8 158.9 30.8 158.8 30.9 157.8 30.9 156.8 31.0 155.8 31.0 154.8 31.1 153.8 31.1 152.8 31.2 151.8 31.2 151.0 31.3 150.5 31.3 150.1 31.4 149.7 31.4 149.3 31.5 148.9 31.5 148.4 31.6 148.0 31.6 147.8 31.7 147.7 31.7 147.6 31.8 147.5 31.8 147.4 31.9 147.3 31.9 147.2 32.0 147.1 32.0 146.4 32.1 145.3 32.1 144.2 32.2 143.1 32.2 142.0 32.3 140.9 32.3 139.8 32.4 138.7 32.4 138.8 32.5 139.1 32.6 139.6 32.7 140.6 32.7 141.6 32.8 142.1 32.9 141.9 33.0 141.6 33.1 141.4 33.2 141.0 33.3 140.2 33.4 139.4 33.5 138.6 33.6 137.9 33.7 137.6 33.8 137.4 33.9 137.2 34.0 137.0 34.1 136.7 34.2 136.5 34.3 136.3 34.4 136.0 34.6 135.7 34.7 135.4 34.8 135.2 34.9 135.6 35.0 136.0 35.2 136.5 35.3 134.9 35.4 132.8 35.5 130.6 35.7 130.2 35.8 131.6 35.9 133.0 36.0 133.4 36.2 130.7 36.3 128.1 36.4 125.3 36.5 125.4 36.6 125.5 36.8 125.6 36.9 126.0 37.0 126.6 37.1 127.2 37.3 127.4 37.4 126.9 37.6 126.3 37.9 126.7 38.2 126.0 38.5 123.7 38.7 118.5 39.0 119.9 39.3 122.1 39.6 122.8 39.9 117.3 40.2 118.1 40.5 121.3 40.8 121.0 41.1 115.7 41.3 114.2 41.6 116.9 41.9 115.6 42.2 116.4 42.5 117.4 42.8 117.4 43.1 117.4 43.4 117.1 43.7 116.0 43.9 112.4 44.2 117.8 44.6 123.3 44.9 107.3 45.2 118.9 45.5 120.5 45.8 118.5 46.1 106.6 46.4 119.1 46.7 121.0 47.0 111.8 47.3 111.4 47.6 110.5 47.9 115.5 48.3 111.3 48.6 110.7 48.9 112.9 49.2 110.4 49.5 109.9 49.8 111.7 50.1 111.0 50.4 104.1 50.7 110.1 51.0 107.2 51.3 104.7 51.6 106.7 52.0 110.7 52.3 109.3 52.6 106.5 52.9 104.7 53.2 107.7 53.5 100.3 53.8 103.7 54.1 106.6 54.4 100.7 54.7 107.9 55.0 105.6 55.3 100.9 55.7 99.3 56.0 101.4 56.3 103.3 56.6 102.5 56.9 105.1 57.2 105.7 57.5 104.8 57.8 91.0 58.2 103.3 58.5 103.4 58.8 104.0 59.2 104.9 59.5 109.6 59.9 101.0 60.2 93.8 60.5 93.8 60.9 97.2 61.2 98.8 61.6 101.2 61.9 98.7 62.2 97.7 62.6 99.4 62.9 101.0 63.2 98.6 63.6 94.9 63.9 96.5 64.3 98.3 64.6 98.1 64.9 98.5 65.3 99.8 65.6 96.6 66.0 95.2 66.3 97.0 66.6 95.5 67.0 92.6 67.3 90.3 67.7 91.2 68.0 100.7 68.3 99.3 68.7 88.9 69.0 89.8 69.4 90.7 69.7 92.3 70.0 96.7 70.4 91.7 70.7 89.2 71.1 88.7 71.4 91.2 71.7 93.2 72.1 91.4 72.4 88.8 72.6 88.7 72.9 87.3 73.2 84.1 73.5 93.1 73.8 94.2 74.0 89.3 74.3 83.4 74.6 86.2 74.9 90.4 75.2 87.1 75.4 83.4 75.7 83.8 76.0 90.4 76.3 85.9 76.6 81.1 76.8 77.8 77.1 69.6 77.4 90.7 77.7 89.7 78.0 82.1 78.2 82.8 78.5 83.3 78.8 80.9 79.1 79.9 79.3 77.2 79.6 73.9 79.9 78.0 80.2 77.0 80.5 74.2 80.7 74.4 81.0 66.1 81.3 75.5 81.6 72.1 81.9 74.7 82.1 76.6 82.4 76.6 82.7 68.4 83.0 74.4 83.3 84.9 83.5 82.3 83.8 81.1 84.1 79.6 84.4 77.1 84.7 75.2 84.9 75.0 85.2 71.7 85.5 68.5 85.8 70.3 86.1 76.5 86.5 49.3 86.9 72.5 87.3 73.8 87.7 72.6 88.1 68.9 88.5 69.5 88.9 67.3 89.3 72.4 89.7 68.4 90.1 76.3 90.5 71.7 90.9 73.9 91.3 70.0 91.7 72.4 92.1 66.3 92.5 58.5 92.9 66.6 93.3 61.1 93.7 66.2 94.0 65.4 94.4 58.5 94.8 67.0 95.1 66.5 95.4 66.8 95.7 66.6 96.0 65.1 96.3 66.7 96.6 66.1 96.9 65.2 97.2 64.0 97.5 63.8 97.8 63.3 98.1 63.0 98.4 63.2 98.7 63.0 99.0 62.4 99.2 61.6 99.5 61.4 99.7 61.5 100.0 61.7 100.3 60.5 100.5 60.1 100.8 60.4 101.1 59.5 101.3 58.9 101.6 58.8 101.8 58.3 102.1 57.7 102.4 57.2 102.6 57.3 102.9 57.6 103.2 57.4 103.5 58.0 103.8 58.5 104.1 58.9 104.4 59.2 104.7 59.7 105.0 60.0 105.2 60.2 105.5 60.6 105.7 61.1 105.9 61.8 106.0 62.3 106.2 62.5 106.3 62.6 106.5 63.0 106.6 63.6 106.8 64.2 107.1 64.5 107.4 63.8 107.8 63.2 108.2 63.2 108.5 63.2 108.9 62.3 109.2 62.1 109.6 61.5 109.9 61.3 110.2 60.9 110.6 60.5 110.9 60.5 111.2 61.0 111.6 59.8 111.9 59.3 112.3 59.1 112.7 59.0 113.1 59.4 113.6 59.1 114.0 59.4 114.4 60.1 114.9 60.3 115.3 59.7 115.7 60.5 116.2 61.3 116.5 61.2 116.9 60.8 117.2 61.6 117.6 62.6 117.9 62.2 118.2 62.0 118.6 62.2 118.9 62.6 119.3 63.0 119.6 63.4 120.0 63.8 120.3 64.1 120.6 64.3 120.8 64.4 121.1 64.1 121.4 64.2 121.6 64.8 121.9 66.0 122.2 67.0 122.4 67.8 122.7 67.7 122.9 67.8 123.2 68.2 123.5 68.5 123.7 69.0 124.0 69.7 124.3 69.6 124.5 69.7 124.6 70.2 124.8 70.7 125.0 71.0 125.2 71.3 125.4 72.0 125.5 72.7 125.7 73.0 125.9 73.0 126.1 73.3 126.3 74.1 126.4 74.7 126.6 75.1 126.8 75.4 126.9 75.8 127.0 76.2 127.1 76.6 127.2 77.0 127.2 77.5 127.3 77.9 127.4 78.4 127.5 78.8 127.6 79.3 127.7 79.7 127.8 80.2 127.9 80.6 128.0 81.1 128.1 81.5 128.2 82.0 128.2 82.5 128.3 82.9 128.4 83.4 128.5 83.8 128.6 84.3 128.7 84.8 128.7 85.2 128.8 85.7 128.9 86.1 129.0 86.6 129.1 87.0 129.1 87.5 129.2 87.9 129.6 87.9 130.0 87.6 130.4 86.5 130.9 87.0 131.3 87.6 131.7 87.2 132.2 86.5 132.6 86.6 133.0 86.1 133.3 86.1 133.6 86.7 134.0 86.0 134.3 85.3 134.6 84.6 134.9 84.1 135.2 84.3 135.5 83.9 135.9 83.6 136.2 83.2 136.5 82.9 136.8 82.5 137.1 82.5 137.5 82.4 137.9 82.6 138.3 82.5 138.7 82.4 139.1 82.9 139.5 83.4 139.9 83.3 140.3 83.5 140.7 83.7 141.1 84.2 141.5 84.6 141.9 84.5 142.2 84.7 142.6 84.8 143.0 85.3 143.4 85.8 143.7 85.7 144.1 86.2 144.5 86.7 144.8 86.6 145.2 87.2 145.6 87.1 146.0 87.2 146.3 86.4 146.7 87.8 147.1 88.0 147.4 88.3 147.8 88.5 148.2 88.8 148.5 89.4 148.9 89.6 149.2 89.1 149.6 89.6 149.9 91.0 150.3 90.9 150.6 90.9 151.0 91.5 151.3 92.0 151.7 91.8 152.0 91.8 152.4 92.3 152.7 92.4 153.1 92.2 153.4 92.8 153.8 93.2 154.1 92.9 154.5 93.4 154.8 95.6 155.2 94.7 155.5 94.5 155.9 95.0 156.3 95.7 156.6 95.6 157.0 95.6 157.3 96.4 157.7 97.0 158.1 96.5 158.4 97.1 158.8 97.3 159.2 98.1 159.5 97.7 159.9 98.0 160.3 98.6 160.6 98.9 161.0 98.7 161.4 98.6 161.7 99.2 162.1 100.1 162.5 99.5 162.8 100.1 163.2 100.4 163.6 100.3 163.9 100.0 164.3 100.5 164.7 101.3 164.9 101.8 165.1 101.9 165.4 102.2 165.6 102.5 165.8 102.7 166.0 103.0 166.3 103.8 166.5 104.3 166.7 104.6 167.0 105.0 167.2 105.4 167.4 105.8 167.6 106.2 167.9 107.3 168.1 107.7 168.3 107.3 168.6 107.6 168.8 108.4 169.0 108.9 169.2 109.4 169.5 110.2 169.7 110.6 169.9 110.7 170.1 110.7 170.3 110.7 170.5 111.0 170.6 111.9 170.8 112.8 171.0 113.4 171.1 113.9 171.3 114.1 171.5 114.1 171.6 114.2 171.8 114.7 172.0 115.2 172.1 115.6 172.3 116.0 172.5 116.5 172.7 117.3 172.8 117.9 173.0 117.8 173.2 117.8 173.3 118.0 173.5 118.4 173.7 119.1 173.7 119.6 173.6 119.7 173.6 120.1 173.5 120.5 173.5 121.0 173.4 121.5 173.4 122.0 173.3 122.4 173.3 122.9 173.2 123.4 173.2 123.9 173.1 124.5 173.1 125.0 173.0 125.6 173.0 126.2 172.9 126.8 172.9 127.4 172.8 127.9 172.8 128.5 172.8 128.9 172.7 129.3 172.7 129.6 172.6 130.0 172.6 130.3 172.5 130.7 172.4 131.0 172.3 131.4 172.2 131.9 172.0 132.3 171.9 132.7 171.8 133.1 171.7 133.5 171.5 134.0 171.4 134.8 171.3 135.5 171.2 136.2 171.1 136.5 170.9 136.8 170.8 137.2 170.7 137.3 170.6 137.4 170.4 137.5 170.3 138.0 170.2 138.8 170.1 139.5 169.9 140.1 169.8 140.8 169.7 141.4 169.6 141.9 169.4 142.1 169.3 142.3 169.1 142.5 168.9 142.8 168.6 142.8 168.3 143.2 168.0 144.5 167.8 144.3 167.5 144.2 167.2 144.6 166.9 145.0 166.7 145.4 166.4 145.8 166.1 145.8 165.8 146.0 165.6 146.6 165.3 147.0 165.0 147.6 164.7 148.2 164.5 148.0 164.2 148.1 163.9 148.3 163.7 149.1 163.4 149.8 163.1 150.3 162.8 150.6 162.6 150.8 162.3 151.3 162.0 152.3 161.6 151.6 161.3 151.8 161.0 152.6 160.7 153.3 160.4 153.7 160.0 153.7 159.7 153.8 159.4 154.5 159.1 155.0 158.7 154.9 158.4 155.4 158.1 155.3 157.8 156.2 157.5 156.7 157.1 156.2 156.8 156.3 156.5 157.3 156.2 157.6 155.8 157.5 155.5 157.6 155.2 158.4 154.9 159.8 154.6 159.1 154.3 158.4 154.0 159.0 153.6 160.0 153.3 159.7 153.0 160.0 152.7 160.8 152.4 161.3 152.1 161.4" stroke="#000" stroke-width="0.8" fill="none" stroke-linejoin="round" opacity="1"/>
<path d="M30.5 158.6 30.6 158.7 30.6 148.9 30.7 158.8 30.7 158.8 30.8 158.9 30.8 158.8 30.9 157.8 30.9 156.8 31.0 155.8 31.0 154.8 31.1 153.8 31.1 152.8 31.2 151.8 31.2 151.0 31.3 150.5 31.3 150.1 31.4 149.7 31.4 149.3 31.5 148.9 31.5 148.4 31.6 148.0 31.6 147.8 31.7 147.7 31.7 147.6 31.8 147.5 31.8 147.4 31.9 147.3 31.9 147.2 32.0 147.1 32.0 146.4 32.1 145.3 32.1 144.2 32.2 143.1 32.2 142.0 32.3 140.9 32.3 139.8 32.4 138.7 32.4 138.8 32.5 139.1 32.6 139.6 32.7 140.6 32.7 141.6 32.8 142.1 32.9 141.9 33.0 141.6 33.1 141.4 33.2 141.0 33.3 140.2 33.4 139.4 33.5 138.6 33.6 137.9 33.7 137.6 33.8 137.4 33.9 137.2 34.0 137.0 34.1 136.7 34.2 136.5 34.3 136.3 34.4 136.0 34.6 135.7 34.7 135.4 34.8 135.2 34.9 135.6 35.0 136.0 35.2 136.5 35.3 134.9 35.4 132.8 35.5 130.6 35.7 130.2 35.8 131.6 35.9 133.0 36.0 133.4 36.2 130.7 36.3 128.1 36.4 125.3 36.5 125.4 36.6 125.5 36.8 125.6 36.9 126.0 37.0 126.6 37.1 127.2 37.3 127.4 37.4 126.9 37.6 126.3 37.9 126.7 38.2 126.0 38.5 123.7 38.7 118.5 39.0 119.9 39.3 122.1 39.6 122.8 39.9 117.3 40.2 118.1 40.5 121.3 40.8 121.0 41.1 115.7 41.3 114.2 41.6 116.9 41.9 115.6 42.2 116.4 42.5 117.4 42.8 117.4 43.1 117.4 43.4 117.1 43.7 116.0 43.9 112.4 44.2 117.8 44.6 123.3 44.9 107.3 45.2 118.9 45.5 120.5 45.8 118.5 46.1 106.6 46.4 119.1 46.7 121.0 47.0 111.8 47.3 111.4 47.6 110.5 47.9 115.5 48.3 111.3 48.6 110.7 48.9 112.9 49.2 110.4 49.5 109.9 49.8 111.7 50.1 111.0 50.4 104.1 50.7 110.1 51.0 107.2 51.3 104.7 51.6 106.7 52.0 110.7 52.3 109.3 52.6 106.5 52.9 104.7 53.2 107.7 53.5 100.3 53.8 103.7 54.1 106.6 54.4 100.7 54.7 107.9 55.0 105.6 55.3 100.9 55.7 99.3 56.0 101.4 56.3 103.3 56.6 102.5 56.9 105.1 57.2 105.7 57.5 104.8 57.8 91.0 58.2 103.3 58.5 103.4 58.8 104.0 59.2 104.9 59.5 109.6 59.9 101.0 60.2 93.8 60.5 93.8 60.9 97.2 61.2 98.8 61.6 101.2 61.9 98.7 62.2 97.7 62.6 99.4 62.9 101.0 63.2 98.6 63.6 94.9 63.9 96.5 64.3 98.3 64.6 98.1 64.9 98.5 65.3 99.8 65.6 96.6 66.0 95.2 66.3 97.0 66.6 95.5 67.0 92.6 67.3 90.3 67.7 91.2 68.0 100.7 68.3 99.3 68.7 88.9 69.0 89.8 69.4 90.7 69.7 92.3 70.0 96.7 70.4 91.7 70.7 89.2 71.1 88.7 71.4 91.2 71.7 93.2 72.1 91.4 72.4 88.8 72.6 88.7 72.9 87.3 73.2 84.1 73.5 93.1 73.8 94.2 74.0 89.3 74.3 83.4 74.6 86.2 74.9 90.4 75.2 87.1 75.4 83.4 75.7 83.8 76.0 90.4 76.3 85.9 76.6 81.1 76.8 77.8 77.1 69.6 77.4 90.7 77.7 89.7 78.0 82.1 78.2 82.8 78.5 83.3 78.8 80.9 79.1 79.9 79.3 77.2 79.6 73.9 79.9 78.0 80.2 77.0 80.5 74.2 80.7 74.4 81.0 66.1 81.3 75.5 81.6 72.1 81.9 74.7 82.1 76.6 82.4 76.6 82.7 68.4 83.0 74.4 83.3 84.9 83.5 82.3 83.8 81.1 84.1 79.6 84.4 77.1 84.7 75.2 84.9 75.0 85.2 71.7 85.5 68.5 85.8 70.3 86.1 76.5 86.5 49.3 86.9 72.5 87.3 73.8 87.7 72.6 88.1 68.9 88.5 69.5 88.9 67.3 89.3 72.4 89.7 68.4 90.1 76.3 90.5 71.7 90.9 73.9 91.3 70.0 91.7 72.4 92.1 66.3 92.5 58.5 92.9 66.6 93.3 61.1 93.7 66.2 94.0 65.4 94.4 58.5" stroke="#000" stroke-width="1.0" fill="none" stroke-linejoin="round"/>
<path d="M30.5 138.83h3M30.5 116.17h3M30.5 93.5h3M30.5 70.83h3M30.5 48.17h3M71.3 161.5v-3M112.1 161.5v-3M152.9 161.5v-3M193.7 161.5v-3" stroke="#666666" stroke-width="1.1" fill="none"/>
<rect x="30.5" y="25.5" width="204" height="136" stroke="#666666" stroke-width="1.0" fill="none"/>
<text x="27" y="164.4" font-size="10" fill="#222" text-anchor="end" font-weight="normal" >0</text>
<text x="27" y="141.73" font-size="10" fill="#222" text-anchor="end" font-weight="normal" >2</text>
<text x="27" y="119.07" font-size="10" fill="#222" text-anchor="end" font-weight="normal" >4</text>
<text x="27" y="96.4" font-size="10" fill="#222" text-anchor="end" font-weight="normal" >6</text>
<text x="27" y="73.73" font-size="10" fill="#222" text-anchor="end" font-weight="normal" >8</text>
<text x="27" y="51.07" font-size="10" fill="#222" text-anchor="end" font-weight="normal" >10</text>
<text x="27" y="28.4" font-size="10" fill="#222" text-anchor="end" font-weight="normal" >12</text>
<text x="30.5" y="173.1" font-size="10" fill="#222" text-anchor="middle" font-weight="normal" >0</text>
<text x="71.3" y="173.1" font-size="10" fill="#222" text-anchor="middle" font-weight="normal" >10</text>
<text x="112.1" y="173.1" font-size="10" fill="#222" text-anchor="middle" font-weight="normal" >20</text>
<text x="152.9" y="173.1" font-size="10" fill="#222" text-anchor="middle" font-weight="normal" >30</text>
<text x="193.7" y="173.1" font-size="10" fill="#222" text-anchor="middle" font-weight="normal" >40</text>
<text x="234.5" y="173.1" font-size="10" fill="#222" text-anchor="middle" font-weight="normal" >50</text>
<text x="11.9" y="89.8" font-size="9.6" fill="#222" text-anchor="middle" font-weight="normal" transform="rotate(-90 11.9 89.8)">Impact force (kN)</text>
<text x="140" y="186.7" font-size="9.6" fill="#222" text-anchor="middle" font-weight="normal" >Displacement (mm)</text>
<text x="5.8" y="19.3" font-size="10" fill="#222" text-anchor="start" font-weight="normal" >(a)</text>
<g transform="translate(30.8 3.4) scale(1.0)"><path d="M0 2.7L3.4 0H9.5L11.4 2.7L10.8 15L3.4 17.2L0 15Z" fill="#2a8c6b"/><path d="M0 2.7L3.4 0H4.3L3.6 4.6H0.2Z" fill="#0b2118"/><path d="M7.4 3.2L11.4 2.7L10.8 15L7.4 16.3Z" fill="#0c271d"/></g>
<text x="45.5" y="18.7" font-size="9" fill="#222" text-anchor="start" font-weight="normal" >SPOH R = 30mm</text>
<text x="230.5" y="38.7" font-size="9.5" fill="#222" text-anchor="end" font-weight="normal" >Indentation and Flexion Mode</text>
<path d="M35.4 48.6H109.5" stroke="#c4364c" stroke-width="1.0"/>
<path d="M35.4 48.6l3 -1.35v2.7z" fill="#c4364c"/>
<path d="M109.5 48.6l-3 -1.35v2.7z" fill="#c4364c"/>
<path d="M110.1 40V61" stroke="#c4364c" stroke-width="1.0" stroke-dasharray="2.1 1.4"/>
<circle cx="48.45" cy="43.6" r="2.95" fill="none" stroke="#c4364c" stroke-width="0.6"/>
<text x="48.45" y="45.45" font-size="5.2" fill="#c4364c" text-anchor="middle">1</text>
<text x="56" y="46.3" font-size="7.3" fill="#c4364c" stroke="#c4364c" stroke-width="0.12" font-weight="bold" textLength="48" lengthAdjust="spacingAndGlyphs">indentation stage</text>
<path d="M111 56.3H172.7" stroke="#3d5f8e" stroke-width="0.9"/>
<path d="M111 56.3l3 -1.35v2.7z" fill="#3d5f8e"/>
<path d="M172.7 56.3l-3 -1.35v2.7z" fill="#3d5f8e"/>
<path d="M173.5 47V119" stroke="#3d5f8e" stroke-width="1.0" stroke-dasharray="2.1 1.4"/>
<circle cx="120.45" cy="51.8" r="2.95" fill="none" stroke="#3d5f8e" stroke-width="0.6"/>
<text x="120.45" y="53.65" font-size="5.2" fill="#3d5f8e" text-anchor="middle">2</text>
<text x="128" y="54.5" font-size="7.3" fill="#3d5f8e" stroke="#3d5f8e" stroke-width="0.12" font-weight="bold" textLength="38.5" lengthAdjust="spacingAndGlyphs">rebound stage</text>
<path d="M52.4 143.8Q120 145 180.2 97.4" stroke="#222" stroke-width="1.35" fill="none"/>
<path d="M177.48 103.63L180.2 97.4L173.51 98.61" stroke="#222" stroke-width="1.2" fill="none"/>
<text x="172.7" y="111.6" font-size="7.4" fill="#2a2a2a" text-anchor="start" font-weight="bold" textLength="63" lengthAdjust="spacingAndGlyphs">Impact speed increase</text>
<path d="M318.64 25.5V161.3M359.28 25.5V161.3M399.92 25.5V161.3M440.56 25.5V161.3M278 138.67H481.2M278 116.03H481.2M278 93.4H481.2M278 70.77H481.2M278 48.13H481.2" stroke="#e2e2e2" stroke-width="0.8" fill="none"/>
<path d="M278.0 161.3 278.2 160.9 278.4 157.2 278.5 154.6 278.7 152.3 278.9 153.4 279.1 157.2 279.3 159.2 279.4 157.4 279.6 155.7 279.8 156.1 280.0 156.5 280.2 158.3 280.3 160.3 280.6 160.0 281.0 152.8 281.3 150.0 281.7 151.6 282.1 148.8 282.4 150.6 282.8 148.9 283.2 148.0 283.6 150.1 283.9 148.3 284.3 147.3 284.7 149.4 285.0 149.5 285.4 150.3 285.8 148.5 286.2 147.5 286.5 149.9 286.9 148.5 287.3 148.8 287.7 147.6 288.0 145.2 288.4 147.3 288.8 145.0 289.1 146.7 289.5 144.8 289.9 147.5 290.3 148.2 290.6 151.1 291.0 148.6 291.4 143.3 291.7 135.7 292.1 147.8 292.5 146.9 292.9 145.6 293.2 146.6 293.6 141.8 294.0 140.9 294.3 143.1 294.7 143.3 295.1 143.8 295.5 145.1 295.8 145.6 296.2 144.5 296.6 142.7 297.0 140.0 297.4 139.2 297.8 140.4 298.1 137.5 298.5 135.3 298.9 136.1 299.3 137.5 299.7 139.3 300.1 142.6 300.5 139.5 300.9 138.4 301.3 138.2 301.7 136.4 302.1 135.8 302.5 137.2 302.9 139.2 303.3 138.9 303.7 139.0 304.1 135.9 304.5 136.7 304.9 135.3 305.3 137.6 305.6 139.3 306.0 137.1 306.4 138.9 306.8 139.3 307.2 138.7 307.6 133.2 308.0 135.1 308.4 136.3 308.8 135.2 309.2 134.3 309.6 134.5 310.0 134.6 310.4 134.9 310.8 132.7 311.2 131.4 311.6 130.9 312.0 135.4 312.4 138.7 312.8 135.2 313.2 132.1 313.5 131.8 313.9 130.8 314.3 130.1 314.7 128.2 315.1 131.2 315.5 129.3 315.9 130.2 316.3 131.0 316.7 120.1 317.1 127.7 317.5 131.7 317.9 130.0 318.3 128.9 318.7 131.3 319.0 131.7 319.4 130.4 319.8 129.7 320.2 128.4 320.6 127.2 321.0 128.9 321.4 124.5 321.8 131.2 322.1 128.1 322.5 126.5 322.9 125.9 323.3 124.6 323.7 124.6 324.1 125.5 324.5 127.3 324.9 119.0 325.2 126.8 325.6 123.1 326.0 124.1 326.4 124.5 326.8 124.1 327.2 124.2 327.6 124.9 327.9 125.9 328.3 122.9 328.7 122.7 329.1 122.6 329.5 123.2 329.9 122.3 330.3 123.0 330.7 123.7 331.1 122.1 331.5 122.1 331.9 122.9 332.4 122.4 332.8 120.7 333.2 121.4 333.7 121.8 334.1 121.9 334.5 121.6 335.0 121.6 335.4 121.7 335.8 121.1 336.3 121.5 336.7 121.1 337.1 121.1 337.6 120.5 338.0 119.3 338.4 119.2 338.9 120.9 339.3 120.1 339.7 119.7 340.1 120.3 340.6 120.4 341.0 120.0 341.5 120.1 341.9 119.2 342.4 119.2 342.8 119.6 343.3 118.2 343.7 118.7 344.2 118.3 344.6 118.6 345.1 118.7 345.5 118.7 346.0 119.2 346.4 119.4 346.9 118.9 347.3 118.1 347.7 118.4 348.1 119.4 348.5 119.9 348.9 119.0 349.4 120.1 349.8 120.6 350.2 120.4 350.6 120.6 351.0 121.5 351.4 122.3 351.8 121.6 352.1 121.1 352.2 121.7 352.4 122.2 352.6 123.0 352.7 123.9 352.9 124.3 353.1 124.4 353.2 124.6 353.4 124.8 353.6 125.0 353.7 125.6 353.9 126.2 354.1 126.8 354.2 127.3 354.4 127.7 354.6 128.5 354.8 129.2 354.9 129.5 355.1 129.7 355.2 129.9 355.2 130.3 355.2 130.7 355.3 131.1 355.3 131.6 355.3 132.0 355.3 132.4 355.3 132.8 355.3 133.2 355.4 133.6 355.4 134.0 355.4 134.5 355.4 134.9 355.4 135.3 355.4 135.7 355.4 136.1 355.5 136.5 355.5 136.9 355.5 137.4 355.5 137.8 355.5 138.2 355.5 138.6 355.5 139.0 355.6 139.4 355.6 139.8 355.6 140.3 355.6 140.7 355.6 141.2 355.6 141.7 355.5 142.3 355.4 142.9 355.4 143.5 355.3 144.1 355.3 144.7 355.2 145.3 355.1 145.8 355.1 146.4 355.0 146.9 355.0 147.5 354.9 148.0 354.8 148.6 354.8 149.1 354.7 149.4 354.7 149.7 354.6 150.1 354.5 150.4 354.5 150.7 354.4 151.1 354.4 151.5 354.3 151.9 354.2 152.3 354.2 152.8 354.1 153.2 354.1 153.7 354.0 154.1 353.8 154.3 353.6 154.3 353.4 155.0 353.2 155.7 353.0 156.4 352.7 157.0 352.5 156.8 352.3 156.8 352.1 157.1 351.9 157.9 351.7 159.2 351.4 160.0 351.2 160.5 351.0 160.2 350.8 159.8 350.6 160.2 350.4 160.7 350.1 161.1 349.9 161.3" stroke="#000" stroke-width="0.8" fill="none" stroke-linejoin="round" opacity="1"/>
<path d="M278.0 157.6 278.2 157.6 278.3 157.7 278.5 157.6 278.6 157.3 278.8 156.9 278.9 156.1 279.1 155.0 279.2 154.2 279.4 154.6 279.5 155.0 279.7 154.6 279.8 153.5 280.0 152.5 280.1 151.5 280.3 150.4 280.5 150.2 280.8 152.9 281.2 148.0 281.5 145.6 281.9 150.1 282.3 149.2 282.6 150.5 283.0 150.3 283.3 148.9 283.7 151.0 284.1 145.4 284.4 146.0 284.8 151.5 285.1 149.4 285.5 150.8 285.8 145.7 286.2 142.4 286.6 143.4 286.9 145.5 287.3 146.9 287.6 144.6 288.0 143.9 288.4 142.2 288.7 140.0 289.1 141.2 289.4 142.1 289.8 143.6 290.2 144.9 290.5 144.2 290.9 142.7 291.2 144.4 291.6 145.4 292.0 146.3 292.3 146.1 292.7 145.3 293.0 145.1 293.4 144.9 293.7 144.0 294.1 143.0 294.5 133.7 294.8 140.4 295.2 140.5 295.5 139.9 295.9 142.4 296.3 138.6 296.6 140.3 297.0 141.4 297.4 139.8 297.8 139.9 298.2 138.3 298.6 136.1 299.0 138.2 299.3 137.1 299.7 137.6 300.1 140.2 300.5 136.7 300.9 139.3 301.3 139.6 301.7 140.2 302.1 134.8 302.5 136.5 302.9 138.6 303.2 135.6 303.6 132.6 304.0 136.2 304.4 129.0 304.8 135.5 305.2 133.4 305.6 129.0 306.0 132.3 306.4 134.1 306.8 130.7 307.1 135.4 307.5 133.2 307.9 131.0 308.3 134.6 308.7 132.0 309.1 128.5 309.5 128.3 309.9 131.8 310.3 131.0 310.7 131.2 311.0 131.5 311.4 128.7 311.8 128.3 312.2 129.5 312.6 129.3 313.0 129.9 313.4 131.0 313.8 130.0 314.2 128.3 314.5 127.8 314.9 127.0 315.3 125.4 315.7 126.8 316.1 128.0 316.5 126.7 316.9 123.6 317.3 124.1 317.7 126.0 318.1 128.4 318.5 127.5 318.9 126.3 319.4 125.2 319.8 124.9 320.2 126.9 320.6 126.8 321.1 124.2 321.5 124.1 321.9 124.7 322.3 122.4 322.8 125.5 323.2 126.5 323.6 125.1 324.0 122.6 324.5 123.4 324.9 121.7 325.3 123.6 325.7 118.6 326.2 122.3 326.6 123.4 327.0 123.4 327.5 122.8 327.9 127.4 328.3 123.3 328.7 113.5 329.2 122.8 329.6 120.7 330.0 119.8 330.4 117.5 330.9 120.9 331.3 120.6 331.7 118.8 332.1 121.3 332.6 121.3 333.0 120.9 333.4 121.2 333.8 121.2 334.2 121.0 334.6 120.7 335.0 119.9 335.4 119.8 335.7 119.7 336.1 118.0 336.5 118.5 336.9 119.1 337.3 117.9 337.6 118.1 338.0 118.8 338.4 118.3 338.8 117.3 339.2 117.7 339.5 116.9 339.9 116.9 340.3 115.5 340.7 116.2 341.1 115.2 341.4 115.3 341.8 115.5 342.2 114.2 342.6 114.2 343.0 115.1 343.3 114.9 343.7 114.9 344.1 114.9 344.5 113.3 344.9 111.6 345.2 113.1 345.6 112.6 346.0 111.8 346.4 111.8 346.8 113.5 347.1 111.8 347.5 110.6 347.9 110.3 348.3 111.8 348.7 111.3 349.1 110.2 349.4 109.8 349.8 110.3 350.2 110.0 350.6 109.4 351.0 109.6 351.4 109.4 351.8 109.0 352.3 109.1 352.7 108.9 353.1 108.9 353.5 107.8 353.9 107.8 354.3 107.5 354.8 107.8 355.2 107.4 355.7 108.4 356.1 108.0 356.6 108.2 357.0 107.6 357.5 108.5 357.9 109.2 358.4 108.6 358.8 107.7 359.3 108.6 359.7 109.0 360.2 108.1 360.6 107.4 361.1 108.9 361.5 109.3 361.9 108.0 362.3 108.5 362.7 108.7 363.1 108.6 363.5 109.1 363.9 108.8 364.3 108.0 364.7 109.5 365.1 109.8 365.5 109.6 365.9 109.9 366.3 109.6 366.7 110.4 367.1 111.2 367.5 111.1 367.7 111.5 367.9 112.8 368.1 113.5 368.3 113.3 368.5 113.3 368.7 113.6 368.9 113.7 369.1 113.6 369.3 114.0 369.5 115.2 369.7 115.9 369.9 116.1 370.1 116.4 370.3 116.8 370.5 117.4 370.7 118.2 370.9 118.5 371.1 118.4 371.3 118.6 371.5 119.1 371.6 119.6 371.6 120.1 371.7 120.6 371.8 121.1 371.9 121.6 371.9 122.1 372.0 122.6 372.1 122.9 372.2 123.3 372.2 123.6 372.3 124.0 372.4 124.3 372.5 124.6 372.5 124.8 372.6 125.1 372.7 125.3 372.7 125.5 372.8 125.9 372.9 126.7 373.0 127.5 373.0 128.2 373.1 129.0 373.2 129.8 373.3 130.1 373.3 130.4 373.4 130.7 373.5 131.0 373.5 131.4 373.5 131.8 373.5 132.3 373.5 132.8 373.5 133.2 373.5 133.7 373.5 134.1 373.5 134.6 373.5 135.0 373.5 135.5 373.5 135.9 373.5 136.4 373.5 136.8 373.5 137.3 373.5 137.7 373.5 138.2 373.5 138.6 373.5 139.1 373.5 139.5 373.5 140.0 373.5 140.4 373.5 140.9 373.5 141.3 373.5 141.8 373.5 142.3 373.5 142.7 373.5 143.2 373.5 143.6 373.5 144.1 373.5 144.5 373.5 145.0 373.5 145.4 373.5 145.9 373.5 146.3 373.5 146.8 373.5 147.2 373.5 147.8 373.4 148.4 373.3 149.0 373.2 149.6 373.2 150.0 373.1 150.1 373.0 150.3 373.0 150.4 372.9 150.5 372.8 150.6 372.7 151.2 372.7 151.9 372.6 152.5 372.5 153.2 372.4 153.9 372.4 154.5 372.3 155.0 372.2 155.5 372.2 156.1 372.1 156.6 372.0 157.1 371.9 157.6 371.9 158.0 371.8 158.4 371.7 158.8 371.6 159.2 371.6 159.6 371.5 160.0 371.4 160.3 371.2 160.7 371.1 161.3" stroke="#000" stroke-width="0.8" fill="none" stroke-linejoin="round" opacity="1"/>
<path d="M278.0 156.6 278.1 155.9 278.3 155.2 278.4 154.4 278.5 155.4 278.7 160.2 278.8 157.3 278.9 156.2 279.1 155.0 279.2 153.8 279.3 151.8 279.5 146.2 279.6 147.9 279.7 148.7 279.9 149.6 280.0 150.5 280.1 149.7 280.3 148.8 280.4 147.9 280.7 146.7 281.0 149.2 281.4 150.0 281.7 148.3 282.0 151.9 282.4 147.4 282.7 150.4 283.1 147.1 283.4 147.9 283.8 148.9 284.1 146.9 284.5 144.7 284.8 147.2 285.2 146.2 285.5 136.1 285.9 138.0 286.2 144.0 286.5 144.1 286.9 142.3 287.2 142.2 287.6 143.9 287.9 142.5 288.3 141.7 288.6 141.4 289.0 140.5 289.3 139.1 289.7 138.8 290.0 141.7 290.4 137.7 290.7 138.7 291.1 140.2 291.4 140.4 291.7 139.0 292.1 137.5 292.4 137.1 292.8 135.2 293.1 138.4 293.5 138.7 293.8 139.5 294.2 139.9 294.5 138.9 294.9 137.4 295.2 134.6 295.6 136.5 295.9 134.2 296.2 134.6 296.6 135.1 297.0 133.5 297.4 131.8 297.7 132.8 298.1 132.8 298.5 131.6 298.9 134.3 299.3 132.9 299.7 134.8 300.0 130.3 300.4 131.0 300.8 132.4 301.2 132.4 301.6 129.5 302.0 131.3 302.3 133.0 302.7 134.3 303.1 129.2 303.5 127.9 303.9 128.3 304.3 128.6 304.7 129.5 305.0 130.1 305.4 130.9 305.8 129.8 306.2 128.8 306.6 128.6 307.0 127.9 307.3 128.2 307.7 127.6 308.1 126.5 308.5 125.9 308.9 122.6 309.3 125.0 309.7 127.4 310.0 126.8 310.4 124.5 310.8 122.5 311.2 128.9 311.6 128.9 312.0 129.1 312.3 125.5 312.7 125.5 313.1 124.8 313.5 122.5 313.9 124.4 314.3 124.8 314.6 123.4 315.0 123.5 315.4 123.7 315.8 123.9 316.2 124.9 316.6 124.0 317.0 121.0 317.3 119.0 317.7 118.0 318.1 117.3 318.5 119.7 318.9 121.6 319.3 122.9 319.7 120.2 320.1 121.2 320.4 121.0 320.8 122.3 321.2 121.5 321.6 118.4 322.0 120.3 322.4 119.4 322.8 118.3 323.2 117.2 323.6 119.8 324.0 115.9 324.3 117.6 324.7 118.7 325.1 117.7 325.5 119.8 325.9 118.9 326.3 117.3 326.7 117.1 327.1 117.6 327.5 116.6 327.8 115.9 328.2 116.1 328.6 116.2 329.0 115.6 329.4 115.3 329.8 114.1 330.2 113.2 330.6 114.4 331.0 115.0 331.4 114.6 331.7 114.3 332.1 112.7 332.5 107.4 332.9 113.2 333.3 112.8 333.7 112.5 334.1 112.2 334.5 111.7 334.9 112.0 335.4 111.1 335.8 111.8 336.2 112.7 336.6 112.5 337.0 112.2 337.4 111.6 337.9 111.1 338.3 111.9 338.7 111.3 339.1 111.0 339.5 110.0 339.9 111.1 340.4 110.3 340.8 109.2 341.2 109.6 341.6 109.5 342.0 110.5 342.5 110.2 342.9 110.0 343.3 108.2 343.7 108.7 344.1 108.5 344.5 108.0 345.0 107.8 345.4 108.2 345.8 108.2 346.2 107.7 346.6 107.2 347.0 107.8 347.5 107.4 347.9 107.9 348.3 107.7 348.7 106.9 349.1 106.8 349.5 106.5 350.0 106.4 350.4 106.8 350.8 105.5 351.3 106.9 351.7 106.4 352.1 105.7 352.6 105.0 353.0 105.2 353.4 105.3 353.9 104.4 354.3 103.8 354.7 104.7 355.2 105.2 355.6 104.3 356.0 103.4 356.5 104.7 356.9 104.3 357.3 104.8 357.8 104.0 358.2 103.4 358.6 103.8 359.1 103.7 359.5 103.5 359.9 102.9 360.4 103.4 360.8 102.9 361.2 101.7 361.7 101.5 362.1 101.8 362.5 101.4 363.0 101.6 363.4 100.9 363.9 101.8 364.3 101.5 364.8 102.8 365.2 102.4 365.6 102.0 366.1 101.8 366.5 101.4 367.0 101.4 367.4 101.5 367.9 101.9 368.3 102.1 368.8 103.1 369.2 101.7 369.7 101.3 370.1 101.5 370.6 101.5 371.0 101.8 371.5 101.7 371.9 101.9 372.3 100.9 372.8 102.6 373.2 102.0 373.7 101.1 374.1 100.9 374.6 101.3 375.0 101.0 375.5 101.1 375.9 100.3 376.4 99.1 376.8 100.0 377.3 100.5 377.7 99.3 378.2 99.8 378.6 100.3 379.0 100.3 379.5 100.1 379.9 99.8 380.4 100.8 380.8 100.9 381.3 98.3 381.7 98.6 382.2 98.9 382.6 99.4 383.1 99.3 383.5 99.8 384.0 99.7 384.4 99.2 384.9 99.5 385.3 100.0 385.8 99.5 386.2 99.5 386.7 100.3 387.1 100.0 387.6 100.5 388.0 101.6 388.3 101.4 388.7 102.2 389.1 102.2 389.4 101.0 389.8 100.9 390.1 102.4 390.5 103.4 390.9 102.1 391.2 101.2 391.6 103.5 392.0 102.3 392.3 103.5 392.7 103.8 393.0 103.9 393.1 104.3 393.2 104.7 393.3 105.0 393.3 105.3 393.4 105.6 393.5 105.8 393.6 106.1 393.7 106.6 393.7 107.3 393.8 107.9 393.9 108.6 394.0 109.2 394.1 109.7 394.1 110.1 394.2 110.4 394.3 110.8 394.4 111.2 394.5 111.7 394.5 112.2 394.6 112.8 394.7 113.3 394.8 113.8 394.9 114.1 394.9 114.3 395.0 114.5 395.1 114.7 395.1 115.1 395.1 115.5 395.1 115.9 395.1 116.2 395.2 116.6 395.2 117.0 395.2 117.4 395.2 117.9 395.3 118.4 395.3 118.8 395.3 119.3 395.3 119.8 395.3 120.3 395.4 120.7 395.4 121.2 395.4 121.7 395.4 122.2 395.5 122.6 395.5 123.1 395.5 123.6 395.5 124.1 395.6 124.6 395.6 125.0 395.6 125.5 395.6 126.0 395.6 126.6 395.7 127.1 395.7 127.6 395.7 128.1 395.7 128.7 395.8 129.2 395.8 129.7 395.8 130.3 395.8 130.8 395.8 131.3 395.9 131.8 395.9 132.3 395.9 132.7 395.9 133.2 395.9 133.6 395.9 134.1 395.9 134.5 395.9 135.0 395.9 135.4 395.9 135.9 395.9 136.3 395.9 136.8 395.9 137.2 395.9 137.7 395.9 138.1 395.9 138.6 395.9 139.0 395.9 139.5 395.9 139.9 395.9 140.4 395.9 140.8 395.9 141.3 395.9 141.7 395.9 142.2 395.9 142.6 395.9 143.1 395.9 143.5 395.9 144.0 395.9 144.4 395.9 144.9 395.9 145.3 395.9 145.8 395.9 146.3 395.9 146.7 395.9 147.2 395.9 147.6 395.9 148.1 395.9 148.5 395.9 149.0 395.9 149.4 395.9 149.9 395.9 150.3 395.9 150.8 395.9 151.2 395.9 151.7 395.9 152.1 395.8 152.5 395.8 152.9 395.8 153.3 395.8 153.7 395.8 154.0 395.7 154.4 395.7 154.8 395.7 155.2 395.7 155.6 395.7 156.0 395.6 156.3 395.6 156.7 395.6 157.1 395.6 157.5 395.6 158.0 395.5 158.4 395.5 158.8 395.5 159.2 395.5 159.7 395.5 160.1 395.4 160.5" stroke="#000" stroke-width="0.8" fill="none" stroke-linejoin="round" opacity="1"/>
<path d="M278.0 161.2 278.1 159.7 278.2 158.3 278.4 156.9 278.5 154.3 278.6 151.1 278.7 147.9 278.8 145.7 278.9 147.5 279.1 149.3 279.2 151.0 279.3 150.8 279.4 150.1 279.5 149.3 279.6 147.7 279.8 144.7 279.9 141.7 280.0 138.7 280.1 140.1 280.2 141.5 280.3 142.9 280.5 144.2 280.9 145.8 281.2 144.6 281.5 146.2 281.9 142.9 282.2 142.2 282.5 144.6 282.9 147.0 283.2 147.0 283.5 145.1 283.9 145.0 284.2 143.4 284.5 143.7 284.9 145.6 285.2 138.8 285.5 138.8 285.9 143.7 286.2 144.2 286.5 141.4 286.9 139.1 287.2 138.5 287.6 137.9 287.9 139.0 288.2 139.2 288.6 140.0 288.9 140.9 289.2 138.3 289.6 140.5 289.9 139.7 290.2 139.6 290.6 138.5 290.9 135.7 291.2 133.1 291.6 134.7 291.9 137.7 292.2 135.3 292.6 133.3 292.9 134.9 293.2 138.4 293.6 136.7 293.9 133.8 294.3 135.3 294.6 136.0 294.9 134.3 295.3 131.8 295.6 127.9 295.9 130.7 296.3 133.1 296.6 131.4 297.0 132.1 297.3 135.2 297.7 131.1 298.1 131.8 298.5 133.5 298.9 133.7 299.2 130.1 299.6 128.4 300.0 131.4 300.4 128.9 300.8 128.5 301.1 123.1 301.5 129.9 301.9 126.7 302.3 129.0 302.7 128.0 303.0 129.1 303.4 129.4 303.8 127.9 304.2 125.7 304.6 125.0 304.9 125.7 305.3 124.7 305.7 125.4 306.1 123.2 306.5 125.6 306.8 122.0 307.2 122.4 307.6 127.0 308.0 122.4 308.4 126.5 308.7 121.1 309.1 126.6 309.5 126.1 309.9 124.8 310.3 122.7 310.6 120.2 311.0 121.1 311.4 123.9 311.8 122.9 312.2 122.1 312.5 122.9 312.9 120.8 313.3 122.2 313.7 122.2 314.1 122.3 314.4 118.7 314.8 119.4 315.2 120.0 315.6 123.2 316.0 121.1 316.3 121.1 316.7 112.6 317.1 116.6 317.5 117.1 317.9 116.1 318.2 116.1 318.6 117.7 319.0 118.0 319.4 118.8 319.8 118.8 320.1 116.1 320.5 116.7 320.9 117.7 321.3 114.5 321.6 115.9 322.0 117.6 322.4 114.6 322.8 112.8 323.1 114.1 323.5 113.6 323.9 112.9 324.3 113.9 324.7 114.5 325.0 115.5 325.4 114.7 325.8 113.3 326.2 112.2 326.5 111.3 326.9 112.5 327.3 113.1 327.7 114.0 328.0 114.1 328.4 112.2 328.8 111.8 329.2 114.9 329.6 110.1 329.9 109.7 330.3 108.1 330.7 108.2 331.1 108.3 331.4 108.5 331.8 108.2 332.2 108.0 332.6 107.3 332.9 106.7 333.3 107.9 333.7 107.3 334.1 107.1 334.5 108.6 334.8 108.1 335.2 106.3 335.6 105.2 336.0 104.5 336.3 105.9 336.7 104.3 337.1 105.3 337.5 105.6 337.8 104.7 338.2 104.7 338.6 105.7 339.0 105.9 339.4 103.9 339.7 102.1 340.1 103.7 340.5 103.6 340.9 104.6 341.2 103.6 341.6 103.1 342.0 102.6 342.4 102.4 342.9 103.3 343.3 101.3 343.7 100.5 344.1 102.0 344.6 103.3 345.0 100.9 345.4 101.8 345.8 100.3 346.2 98.9 346.7 100.3 347.1 100.7 347.5 100.8 347.9 101.9 348.4 100.3 348.8 101.8 349.2 99.8 349.6 98.0 350.0 100.5 350.5 100.0 350.9 99.5 351.3 99.5 351.7 99.3 352.2 98.6 352.6 98.7 353.0 98.7 353.4 98.2 353.9 97.5 354.3 98.5 354.7 99.8 355.1 96.1 355.5 99.0 356.0 98.9 356.4 97.0 356.8 98.4 357.2 97.5 357.7 96.2 358.1 96.1 358.5 95.4 358.9 96.4 359.4 96.2 359.8 94.3 360.2 96.1 360.6 96.8 361.0 95.7 361.5 93.7 361.9 92.5 362.3 94.7 362.7 93.8 363.2 94.3 363.6 94.9 364.0 93.9 364.5 93.6 364.9 93.4 365.3 93.8 365.7 93.1 366.2 93.2 366.6 93.9 367.0 92.7 367.5 93.8 367.9 93.0 368.3 93.3 368.7 92.5 369.2 92.3 369.6 93.2 370.0 92.7 370.5 92.6 370.9 92.1 371.3 91.4 371.7 91.2 372.2 91.0 372.6 90.7 373.0 89.9 373.5 90.4 373.9 89.4 374.3 89.2 374.7 89.8 375.2 89.5 375.6 89.7 376.0 91.3 376.5 90.3 376.9 90.1 377.3 88.8 377.7 88.5 378.2 88.1 378.6 88.3 379.0 88.2 379.5 88.6 379.9 88.6 380.3 88.1 380.7 87.4 381.2 88.2 381.6 88.6 382.0 87.5 382.5 87.6 382.9 88.7 383.4 88.8 383.9 87.9 384.3 87.7 384.8 87.9 385.2 86.9 385.7 89.5 386.1 88.7 386.6 87.8 387.0 88.5 387.5 87.6 387.9 87.7 388.4 88.4 388.8 88.5 389.3 87.1 389.7 86.6 390.2 87.3 390.6 87.4 391.1 87.6 391.5 87.2 392.0 87.6 392.4 88.4 392.9 88.0 393.3 88.5 393.8 87.2 394.2 87.0 394.7 88.0 395.1 88.6 395.6 88.5 396.0 89.5 396.5 88.2 396.9 88.4 397.4 88.0 397.8 88.3 398.3 87.2 398.7 87.8 399.2 89.3 399.6 87.2 400.1 88.2 400.5 88.7 401.0 88.1 401.4 88.2 401.9 88.9 402.3 88.9 402.8 88.4 403.2 88.8 403.6 88.3 404.1 87.9 404.5 87.7 405.0 87.9 405.4 88.5 405.9 89.0 406.3 89.3 406.7 89.4 407.1 88.8 407.4 89.2 407.8 89.4 408.1 89.2 408.5 90.6 408.8 91.0 409.2 91.1 409.5 91.6 409.9 92.1 410.3 92.3 410.6 91.8 411.0 91.4 411.3 92.4 411.7 93.8 412.0 92.4 412.4 93.4 412.6 93.7 412.8 94.1 413.0 94.3 413.1 94.5 413.3 94.9 413.5 95.3 413.6 95.7 413.8 96.1 414.0 96.5 414.1 97.0 414.3 97.5 414.5 98.2 414.6 99.1 414.8 100.0 415.0 99.8 415.1 99.5 415.3 100.3 415.5 101.6 415.6 102.6 415.8 102.2 416.0 101.9 416.1 102.6 416.3 103.4 416.5 104.2 416.6 104.9 416.8 105.4 417.0 105.2 417.1 105.0 417.3 105.3 417.4 105.8 417.5 106.3 417.6 106.9 417.7 107.4 417.7 108.0 417.8 108.6 417.9 109.2 418.0 109.8 418.0 110.2 418.1 110.4 418.2 110.6 418.3 110.8 418.3 111.0 418.4 111.2 418.5 111.8 418.6 112.4 418.6 113.0 418.7 113.6 418.8 114.2 418.8 114.6 418.9 114.9 419.0 115.2 419.1 115.5 419.1 115.8 419.2 116.2 419.3 116.8 419.4 117.5 419.4 118.1 419.5 118.8 419.6 119.4 419.7 119.7 419.7 119.9 419.8 120.1 419.9 120.5 419.9 120.8 419.9 121.2 419.9 121.6 420.0 122.0 420.0 122.3 420.0 122.7 420.0 123.2 420.1 123.6 420.1 124.1 420.1 124.5 420.1 125.0 420.2 125.5 420.2 125.9 420.2 126.4 420.2 126.8 420.3 127.3 420.3 127.7 420.3 128.2 420.3 128.6 420.4 129.1 420.4 129.5 420.4 130.0 420.4 130.5 420.5 131.1 420.5 131.6 420.5 132.1 420.5 132.7 420.6 133.2 420.6 133.7 420.6 134.2 420.6 134.8 420.7 135.3 420.7 135.8 420.7 136.4 420.7 136.9 420.8 137.4 420.8 138.0 420.8 138.4 420.8 138.7 420.9 139.1 420.9 139.4 420.9 139.7 420.9 140.1 421.0 140.4 421.0 140.7 421.0 141.1 421.0 141.4 421.1 141.8 421.1 142.2 421.1 142.6 421.1 143.0 421.1 143.4 421.1 143.8 421.1 144.2 421.1 144.6 421.1 145.0 421.1 145.4 421.2 145.8 421.2 146.2 421.2 146.6 421.2 147.0 421.2 147.4 421.2 147.8 421.2 148.4 421.2 148.9 421.2 149.4 421.2 149.9 421.2 150.4 421.3 150.9 421.3 151.4 421.3 151.9 421.3 152.4 421.3 152.9 421.3 153.4 421.3 153.9 421.3 154.4 421.3 154.9 421.3 155.4 421.4 155.9 421.4 156.4 421.4 156.9 421.4 157.4 421.4 157.9 421.4 158.4 421.4 159.0 421.4 159.5 421.4 160.0 421.4 160.5 421.4 161.0 421.5 161.3" stroke="#000" stroke-width="0.8" fill="none" stroke-linejoin="round" opacity="1"/>
<path d="M278.0 158.8 278.1 158.3 278.2 157.8 278.3 157.3 278.4 156.4 278.5 154.0 278.6 151.7 278.7 149.3 278.8 147.9 278.9 147.8 279.0 147.8 279.2 147.8 279.3 147.6 279.4 147.3 279.5 147.1 279.6 146.8 279.7 146.8 279.8 146.9 279.9 147.0 280.0 147.1 280.1 145.9 280.2 144.6 280.3 143.3 280.4 142.3 280.7 145.0 281.0 144.0 281.3 142.0 281.7 141.1 282.0 138.2 282.3 141.6 282.6 144.6 282.9 144.5 283.3 141.6 283.6 139.8 283.9 141.1 284.2 139.9 284.6 138.0 284.9 137.3 285.2 139.5 285.5 136.7 285.9 136.5 286.2 138.3 286.5 139.6 286.8 142.8 287.1 137.0 287.5 133.9 287.8 133.8 288.1 135.3 288.4 135.7 288.8 138.5 289.1 137.1 289.4 135.5 289.7 136.3 290.0 139.5 290.4 131.9 290.7 137.8 291.0 136.6 291.3 134.9 291.7 134.5 292.0 132.6 292.3 129.6 292.6 132.3 293.0 133.5 293.3 133.3 293.6 132.0 293.9 135.2 294.2 134.1 294.6 133.6 294.9 133.6 295.2 130.9 295.5 131.0 295.9 133.3 296.2 134.6 296.5 132.9 296.8 127.9 297.2 128.5 297.6 128.3 298.0 126.1 298.3 127.5 298.7 127.2 299.1 125.7 299.4 124.7 299.8 121.1 300.2 124.7 300.5 126.8 300.9 123.6 301.3 125.2 301.7 120.8 302.0 126.7 302.4 124.3 302.8 119.8 303.1 124.1 303.5 122.4 303.9 122.4 304.2 123.2 304.6 122.1 305.0 122.5 305.4 124.5 305.7 124.6 306.1 123.7 306.5 122.4 306.8 121.4 307.2 122.3 307.6 122.0 307.9 124.2 308.3 121.7 308.7 122.1 309.1 120.6 309.4 117.6 309.8 116.3 310.2 117.1 310.5 118.4 310.9 119.4 311.3 119.0 311.6 118.8 312.0 117.2 312.4 118.0 312.8 120.8 313.1 117.8 313.5 114.6 313.9 116.2 314.2 118.4 314.6 117.3 315.0 115.3 315.3 114.6 315.7 114.0 316.1 114.1 316.5 115.9 316.8 112.4 317.2 113.3 317.6 114.3 317.9 111.5 318.3 110.5 318.6 111.1 319.0 112.5 319.3 112.6 319.7 111.5 320.0 113.0 320.4 110.1 320.7 111.6 321.1 111.1 321.4 111.3 321.8 108.2 322.1 107.7 322.5 111.6 322.9 109.1 323.2 108.7 323.6 109.1 323.9 107.4 324.3 109.9 324.6 110.2 325.0 108.3 325.3 106.3 325.7 104.0 326.0 104.9 326.4 105.7 326.7 106.2 327.1 105.6 327.4 103.8 327.8 103.4 328.1 104.8 328.5 105.8 328.8 106.0 329.2 102.1 329.5 103.7 329.9 103.7 330.2 102.5 330.6 101.8 330.9 102.3 331.3 102.7 331.6 101.4 332.0 100.6 332.3 103.3 332.7 102.2 333.0 91.6 333.4 101.8 333.8 102.0 334.1 100.4 334.5 98.3 334.8 99.2 335.2 100.3 335.5 98.5 335.9 97.6 336.2 98.2 336.6 99.1 336.9 99.0 337.3 97.8 337.6 98.1 338.0 97.4 338.3 98.5 338.7 97.4 339.0 96.4 339.4 95.5 339.7 100.9 340.1 97.0 340.4 94.6 340.8 95.3 341.1 93.3 341.5 94.6 341.8 93.5 342.3 93.8 342.7 85.2 343.1 94.4 343.5 93.2 344.0 92.8 344.4 92.3 344.8 91.6 345.2 95.6 345.6 92.5 346.1 93.0 346.5 94.0 346.9 93.0 347.3 91.7 347.8 90.7 348.2 92.3 348.6 91.2 349.0 91.4 349.4 91.1 349.9 92.4 350.3 91.1 350.7 92.2 351.1 92.2 351.6 93.5 352.0 94.9 352.4 91.3 352.8 91.8 353.2 93.2 353.7 90.8 354.1 90.0 354.5 90.6 354.9 90.5 355.4 94.1 355.8 89.1 356.2 89.4 356.6 90.2 357.0 90.6 357.5 90.4 357.9 88.3 358.3 88.0 358.7 88.0 359.2 87.0 359.6 86.6 360.0 86.9 360.4 87.2 360.8 89.6 361.3 87.0 361.7 86.8 362.1 85.1 362.5 86.7 363.0 87.0 363.4 85.9 363.8 86.5 364.2 85.7 364.7 85.2 365.1 86.2 365.5 86.4 365.9 86.0 366.4 85.8 366.8 84.9 367.2 84.5 367.6 84.3 368.1 84.2 368.5 85.2 368.9 84.5 369.3 84.8 369.8 84.6 370.2 83.2 370.6 83.5 371.0 83.9 371.5 84.3 371.9 83.9 372.3 83.3 372.7 83.9 373.2 83.8 373.6 82.0 374.0 82.5 374.4 83.0 374.9 82.7 375.3 82.6 375.7 82.5 376.1 81.7 376.6 82.0 377.0 81.7 377.4 81.1 377.8 81.2 378.3 81.0 378.7 80.2 379.1 80.5 379.5 80.3 380.0 81.1 380.4 80.7 380.8 79.5 381.2 80.2 381.7 80.1 382.1 80.8 382.5 79.5 382.9 79.2 383.4 79.6 383.8 80.0 384.2 79.1 384.6 78.7 385.0 79.0 385.5 79.0 385.9 78.3 386.3 78.8 386.7 78.3 387.1 78.5 387.6 76.3 388.0 78.5 388.4 77.5 388.8 77.5 389.2 77.3 389.7 76.7 390.1 76.1 390.5 75.7 390.9 76.7 391.3 76.6 391.8 76.3 392.2 76.0 392.6 75.2 393.0 75.4 393.5 75.6 393.9 75.7 394.3 75.4 394.7 74.9 395.1 73.6 395.6 75.5 396.0 73.1 396.4 74.7 396.8 73.9 397.2 73.3 397.7 74.0 398.1 74.1 398.5 74.1 398.9 73.6 399.3 73.0 399.8 73.0 400.2 73.2 400.6 72.8 401.0 72.4 401.4 72.0 401.8 73.1 402.3 73.0 402.7 71.4 403.1 70.5 403.5 71.8 403.9 70.6 404.3 71.0 404.7 72.3 405.2 71.5 405.6 70.2 406.0 69.8 406.4 70.5 406.8 70.5 407.2 71.1 407.6 70.1 408.0 70.6 408.5 69.3 408.9 69.1 409.3 68.6 409.8 68.7 410.2 70.0 410.7 70.2 411.1 68.6 411.6 69.8 412.0 68.3 412.5 69.2 412.9 68.5 413.4 69.7 413.8 68.9 414.3 68.3 414.7 69.6 415.2 69.3 415.6 69.4 416.1 68.6 416.5 69.2 417.0 68.9 417.4 70.1 417.9 69.8 418.3 69.8 418.8 69.1 419.2 70.2 419.6 69.4 420.0 70.4 420.5 69.6 420.9 70.2 421.3 70.4 421.7 69.7 422.1 70.8 422.5 70.8 423.0 71.0 423.4 70.5 423.8 70.9 424.2 72.2 424.6 72.4 424.9 71.8 425.2 71.5 425.5 71.8 425.8 72.8 426.1 74.0 426.4 75.3 426.7 74.7 427.0 75.1 427.3 76.0 427.6 76.3 427.8 75.9 428.1 75.6 428.4 75.5 428.7 77.0 429.0 77.6 429.3 77.8 429.6 77.6 429.9 77.3 430.2 77.3 430.5 77.8 430.7 78.8 430.9 79.2 431.1 79.5 431.3 80.0 431.4 80.8 431.6 81.5 431.8 81.9 431.9 82.3 432.1 82.5 432.3 82.6 432.4 82.9 432.6 83.8 432.8 84.7 432.9 84.5 433.1 84.2 433.3 84.4 433.4 85.1 433.6 85.8 433.8 86.3 433.9 86.7 434.1 87.2 434.3 87.7 434.4 88.1 434.6 88.1 434.8 88.2 434.9 88.6 435.1 89.2 435.3 89.8 435.5 90.7 435.6 91.5 435.7 91.9 435.8 92.3 435.9 92.7 436.0 93.1 436.1 93.3 436.2 93.6 436.2 93.8 436.3 94.1 436.4 94.3 436.5 95.0 436.6 95.8 436.6 96.5 436.7 97.2 436.8 97.8 436.9 98.0 437.0 98.2 437.1 98.4 437.1 98.6 437.2 98.9 437.3 99.5 437.4 100.0 437.5 100.6 437.6 101.1 437.6 101.5 437.7 101.7 437.8 102.0 437.9 102.2 438.0 102.4 438.1 103.1 438.1 103.9 438.2 104.6 438.3 105.4 438.4 106.2 438.5 106.2 438.6 106.2 438.6 106.2 438.7 106.2 438.8 106.3 438.9 107.1 439.0 107.8 439.1 108.6 439.1 109.3 439.2 110.0 439.3 110.7 439.4 111.3 439.5 112.0 439.6 112.6 439.7 112.9 439.8 113.2 439.9 113.5 440.0 113.7 440.1 114.0 440.2 114.2 440.3 114.4 440.4 114.6 440.4 115.0 440.5 115.7 440.6 116.3 440.7 116.9 440.8 117.5 440.9 118.2 441.0 118.9 441.1 119.6 441.2 120.2 441.3 120.6 441.4 121.1 441.5 121.5 441.6 121.9 441.7 122.0 441.8 121.9 441.9 121.9 442.0 121.9 442.1 122.6 442.2 123.6 442.3 124.6 442.3 125.7 442.4 126.4 442.5 126.8 442.6 127.2 442.7 127.6 442.8 127.9 442.9 128.0 443.0 128.0 443.1 128.0 443.2 128.1 443.3 128.7 443.5 129.3 443.6 129.9 443.7 130.5 443.8 131.1 443.9 131.8 444.0 132.4 444.1 132.7 444.2 133.1 444.3 133.4 444.4 133.6 444.5 133.6 444.7 133.6 444.8 133.6 444.9 134.3 445.0 135.4 445.1 136.5 445.2 137.6 445.3 137.7 445.4 137.8 445.5 137.9 445.6 138.2 445.8 138.9 445.9 139.5 446.0 140.1 446.1 140.3 446.2 140.3 446.3 140.3 446.4 140.4 446.5 141.6 446.6 142.8 446.7 143.8 446.8 144.6 446.8 145.3 446.9 145.5 446.9 145.8 447.0 146.1 447.0 146.3 447.1 146.6 447.2 146.8 447.2 147.1 447.3 147.4 447.3 147.8 447.4 148.1 447.4 148.5 447.5 148.8 447.6 149.2 447.6 149.6 447.7 150.0 447.7 150.4 447.8 150.8 447.8 151.3 447.9 151.7 448.0 152.1 448.0 152.6 448.1 153.1 448.1 153.7 448.2 154.3 448.2 154.8 448.3 155.4 448.4 156.0 448.4 156.5 448.5 156.8 448.5 157.1 448.6 157.4 448.6 157.7 448.7 158.0 448.8 158.3 448.8 158.6 448.9 159.0 448.9 159.4 449.0 159.8 449.0 160.2 449.1 160.6" stroke="#000" stroke-width="0.8" fill="none" stroke-linejoin="round" opacity="1"/>
<path d="M278 138.67h3M278 116.03h3M278 93.4h3M278 70.77h3M278 48.13h3M318.64 161.3v-3M359.28 161.3v-3M399.92 161.3v-3M440.56 161.3v-3" stroke="#666666" stroke-width="1.1" fill="none"/>
<rect x="278" y="25.5" width="203.2" height="135.8" stroke="#666666" stroke-width="1.0" fill="none"/>
<text x="274.5" y="164.2" font-size="10" fill="#222" text-anchor="end" font-weight="normal" >0</text>
<text x="274.5" y="141.57" font-size="10" fill="#222" text-anchor="end" font-weight="normal" >2</text>
<text x="274.5" y="118.93" font-size="10" fill="#222" text-anchor="end" font-weight="normal" >4</text>
<text x="274.5" y="96.3" font-size="10" fill="#222" text-anchor="end" font-weight="normal" >6</text>
<text x="274.5" y="73.67" font-size="10" fill="#222" text-anchor="end" font-weight="normal" >8</text>
<text x="274.5" y="51.03" font-size="10" fill="#222" text-anchor="end" font-weight="normal" >10</text>
<text x="274.5" y="28.4" font-size="10" fill="#222" text-anchor="end" font-weight="normal" >12</text>
<text x="278" y="172.9" font-size="10" fill="#222" text-anchor="middle" font-weight="normal" >0</text>
<text x="318.64" y="172.9" font-size="10" fill="#222" text-anchor="middle" font-weight="normal" >10</text>
<text x="359.28" y="172.9" font-size="10" fill="#222" text-anchor="middle" font-weight="normal" >20</text>
<text x="399.92" y="172.9" font-size="10" fill="#222" text-anchor="middle" font-weight="normal" >30</text>
<text x="440.56" y="172.9" font-size="10" fill="#222" text-anchor="middle" font-weight="normal" >40</text>
<text x="481.2" y="172.9" font-size="10" fill="#222" text-anchor="middle" font-weight="normal" >50</text>
<text x="258.6" y="89.7" font-size="9.6" fill="#222" text-anchor="middle" font-weight="normal" transform="rotate(-90 258.6 89.7)">Impact force (kN)</text>
<text x="387" y="186.5" font-size="9.6" fill="#222" text-anchor="middle" font-weight="normal" >Displacement (mm)</text>
<text x="253.8" y="19.3" font-size="10" fill="#222" text-anchor="start" font-weight="normal" >(b)</text>
<path d="M280.22 14.36 L304.52 4.16 L307.08 10.24 L282.78 20.44Z" fill="#0a0f0d"/>
<path d="M280.22 14.36 L304.52 4.16 L305.35 6.14 L281.05 16.34Z" fill="#1f8566"/>
<path d="M282.27 19.23 L306.57 9.03 L307.08 10.24 L282.78 20.44Z" fill="#1f8566"/>
<ellipse cx="305.8" cy="7.2" rx="1.81" ry="3.3" transform="rotate(-22.77 305.8 7.2)" fill="#0a0f0d"/>
<ellipse cx="281.5" cy="17.4" rx="2.31" ry="3.3" transform="rotate(-22.77 281.5 17.4)" fill="#111" stroke="#1d7c60" stroke-width="0.9"/>
<ellipse cx="281.8" cy="17.4" rx="1.15" ry="1.98" transform="rotate(-22.77 281.5 17.4)" fill="#000"/>
<text x="310" y="20.4" font-size="9" fill="#222" text-anchor="start" font-weight="normal" >SPIH R = 30mm</text>
<text x="478.6" y="38.9" font-size="9.5" fill="#222" text-anchor="end" font-weight="normal" >Indentation and Flexion Mode</text>
<path d="M278.6 60.3H415" stroke="#c4364c" stroke-width="1.0"/>
<path d="M415 60.3l-3 -1.35v2.7z" fill="#c4364c"/>
<path d="M415.8 48.5V71.6" stroke="#c4364c" stroke-width="1.0" stroke-dasharray="2.1 1.4"/>
<circle cx="321.85" cy="55.9" r="2.95" fill="none" stroke="#c4364c" stroke-width="0.6"/>
<text x="321.85" y="57.75" font-size="5.2" fill="#c4364c" text-anchor="middle">1</text>
<text x="329.4" y="58.6" font-size="7.3" fill="#c4364c" stroke="#c4364c" stroke-width="0.12" font-weight="bold" textLength="48" lengthAdjust="spacingAndGlyphs">indentation stage</text>
<path d="M416.5 65.6H448" stroke="#3d5f8e" stroke-width="0.9"/>
<path d="M416.5 65.6l3 -1.35v2.7z" fill="#3d5f8e"/>
<path d="M448 65.6l-3 -1.35v2.7z" fill="#3d5f8e"/>
<path d="M448.4 48.5V139.8" stroke="#3d5f8e" stroke-width="1.0" stroke-dasharray="2.1 1.4"/>
<circle cx="419.45" cy="61.9" r="2.95" fill="none" stroke="#3d5f8e" stroke-width="0.6"/>
<text x="419.45" y="63.75" font-size="5.2" fill="#3d5f8e" text-anchor="middle">2</text>
<text x="427" y="64.6" font-size="7.3" fill="#3d5f8e" stroke="#3d5f8e" stroke-width="0.12" font-weight="bold" textLength="38.5" lengthAdjust="spacingAndGlyphs">rebound stage</text>
<path d="M319.6 148.9Q385 145.6 447.3 103.1" stroke="#222" stroke-width="1.35" fill="none"/>
<path d="M444.15 109.12L447.3 103.1L440.54 103.84" stroke="#222" stroke-width="1.2" fill="none"/>
<text x="288.5" y="156.6" font-size="7.4" fill="#2a2a2a" text-anchor="start" font-weight="bold" textLength="62" lengthAdjust="spacingAndGlyphs">Impact speed increase</text>
<path d="M55.33 205.8V342.5M80.65 205.8V342.5M105.97 205.8V342.5M131.3 205.8V342.5M156.62 205.8V342.5M181.95 205.8V342.5M207.28 205.8V342.5M30 308.32H232.6M30 274.15H232.6M30 239.98H232.6" stroke="#e2e2e2" stroke-width="0.8" fill="none"/>
<path d="M30.0 334.9 30.0 338.5 30.0 338.3 30.1 338.0 30.1 337.7 30.1 337.5 30.1 337.2 30.2 336.9 30.2 336.7 30.2 336.4 30.2 336.1 30.3 335.8 30.3 335.6 30.3 335.3 30.3 335.1 30.4 334.8 30.4 334.5 30.4 334.3 30.4 334.0 30.5 333.7 30.5 333.5 30.5 333.2 30.5 333.0 30.6 332.8 30.6 332.5 30.6 332.3 30.6 332.1 30.7 331.8 30.7 331.6 30.7 331.4 30.7 331.1 30.8 330.9 30.8 330.7 30.8 330.4 30.8 330.2 30.9 330.0 30.9 329.7 30.9 329.5 30.9 329.3 31.0 329.1 31.0 328.8 31.0 328.4 31.0 327.8 31.1 327.3 31.1 326.8 31.1 326.3 31.1 325.7 31.2 325.2 31.2 324.7 31.2 324.2 31.2 323.6 31.3 323.1 31.5 322.0 31.7 319.2 31.9 316.3 32.1 316.0 32.4 317.0 32.6 317.1 32.8 315.7 33.0 314.2 33.2 313.6 33.4 313.1 33.7 316.8 33.9 322.3 34.1 324.3 34.3 321.5 34.5 318.6 34.7 315.6 34.9 312.5 35.1 311.2 35.3 312.6 35.4 313.9 35.6 312.8 35.8 310.6 36.0 308.3 36.2 309.0 36.4 309.9 36.5 310.4 36.7 309.7 36.9 309.1 37.1 308.8 37.3 312.1 37.5 309.1 37.6 308.2 37.8 296.3 38.0 305.7 38.2 305.0 38.4 304.3 38.6 304.1 38.7 305.0 38.9 305.9 39.1 306.2 39.2 306.0 39.4 305.8 39.6 305.5 39.7 305.1 39.9 304.8 40.1 303.5 40.2 300.6 40.4 297.7 40.6 296.0 40.7 296.3 40.9 296.7 41.0 296.9 41.2 296.7 41.4 296.6 41.5 296.3 41.7 295.6 41.9 294.9 42.0 294.4 42.2 294.6 42.4 294.9 42.5 294.3 42.7 289.6 42.9 284.9 43.0 281.2 43.2 284.0 43.4 286.9 43.5 289.5 43.7 290.0 43.8 290.5 44.0 290.8 44.2 288.1 44.3 285.4 44.5 282.8 44.7 283.1 44.8 283.5 45.0 283.6 45.2 280.9 45.4 278.2 45.5 276.4 45.7 280.7 45.9 285.1 46.0 288.4 46.2 286.5 46.4 284.6 46.5 283.3 46.7 284.3 46.9 285.2 47.0 285.9 47.2 286.0 47.4 286.2 47.6 285.1 47.7 281.3 47.9 277.4 48.1 274.4 48.2 273.0 48.4 271.6 48.6 272.2 48.7 275.9 48.9 279.6 49.1 280.5 49.2 277.7 49.4 274.9 49.6 274.2 49.8 275.7 49.9 277.3 50.1 275.9 50.3 272.0 50.4 268.2 50.6 267.5 50.8 268.3 51.0 269.1 51.1 269.3 51.3 269.5 51.5 269.6 51.7 269.3 51.8 269.1 52.0 268.8 52.2 268.4 52.4 268.1 52.5 267.8 52.7 267.7 52.9 267.7 53.1 266.9 53.2 264.7 53.4 262.4 53.6 261.5 53.7 262.5 53.9 263.5 54.1 262.7 54.3 260.2 54.5 257.2 54.8 260.3 55.1 263.2 55.3 265.1 55.6 265.8 55.9 264.3 56.1 263.7 56.4 263.9 56.7 264.1 57.0 264.3 57.2 259.9 57.5 255.1 57.8 257.1 58.1 259.3 58.3 262.4 58.6 264.0 58.9 262.7 59.1 260.3 59.4 256.7 59.7 255.8 60.0 256.0 60.2 255.4 60.5 254.7 60.8 255.4 61.0 256.1 61.1 256.2 61.2 256.0 61.3 255.7 61.5 255.5 61.6 256.3 61.7 257.4 61.8 258.6 62.0 259.7 62.1 258.8 62.2 257.0 62.3 255.2 62.5 253.4 62.6 254.1 62.7 256.0 62.8 257.9 63.0 259.8 63.1 260.5 63.2 260.6 63.3 260.8 63.5 260.9 63.6 261.5 63.7 262.4 63.8 263.2 63.9 264.0 64.0 264.8 64.1 265.7 64.2 266.6 64.3 267.4 64.4 268.3 64.5 269.2 64.6 270.7 64.7 272.2 64.8 273.7 64.9 275.2 65.0 276.7 65.1 277.0 65.1 276.3 65.2 275.5 65.3 274.9 65.4 274.4 65.5 274.0 65.6 273.9 65.7 273.9 65.7 274.3 65.7 274.9 65.8 275.5 65.8 276.1 65.8 276.7 65.8 277.3 65.8 277.9 65.9 278.3 65.9 278.7 65.9 279.1 65.9 279.5 65.9 279.9 66.0 280.4 66.0 280.8 66.0 281.2 66.0 281.6 66.0 282.0 66.1 282.4 66.1 282.9 66.1 283.3 66.1 283.7 66.1 284.1 66.2 284.5 66.2 285.0 66.2 285.4 66.2 285.8 66.2 286.2 66.3 286.6 66.3 287.1 66.3 287.5 66.3 287.9 66.3 288.3 66.4 288.7 66.4 289.2 66.4 289.6 66.4 290.0 66.4 290.4 66.5 290.8 66.4 291.3 66.4 291.8 66.4 292.3 66.4 292.8 66.3 293.3 66.3 293.8 66.3 294.3 66.3 294.8 66.2 295.3 66.2 295.7 66.2 296.2 66.2 296.7 66.1 297.2 66.1 297.7 66.1 298.2 66.1 298.7 66.0 299.2 66.0 299.7 66.0 300.2 66.0 300.7 65.9 301.2 65.9 301.7 65.9 302.2 65.8 302.7 65.8 303.2 65.8 303.7 65.8 304.2 65.7 304.8 65.7 305.3 65.7 305.8 65.7 306.3 65.6 306.8 65.6 307.3 65.6 307.8 65.6 308.3 65.5 308.8 65.5 309.3 65.5 309.9 65.5 310.4 65.4 311.0 65.3 311.6 65.3 312.2 65.2 312.9 65.1 313.5 65.1 314.1 65.0 314.7 64.9 315.0 64.9 315.3 64.8 315.6 64.7 315.8 64.7 316.1 64.6 316.4 64.5 316.7 64.5 317.0 64.4 317.4 64.3 317.8 64.3 318.1 64.2 318.5 64.2 318.9 64.1 319.3 64.0 319.7 64.0 320.0 63.9 320.4 63.8 320.8 63.8 321.2 63.7 321.6 63.6 322.0 63.6 322.4 63.5 322.8 63.4 323.3 63.4 323.8 63.3 324.3 63.2 324.8 63.1 325.3 62.8 325.2 62.5 324.8 62.2 326.1 61.9 327.2 61.6 327.2 61.3 327.6 61.0 328.3 60.7 328.4 60.4 328.6 60.1 329.0 59.7 329.2 59.4 329.6 59.1 330.7 58.8 331.5 58.5 331.9 58.2 331.4 58.0 331.3 57.8 331.4 57.6 331.5 57.5 331.8 57.3 332.8 57.1 333.9 57.0 334.8 56.8 335.1 56.6 335.5 56.5 335.8 56.3 336.2 56.1 336.5 56.0 336.9 55.9 337.4 55.8 338.0 55.7 338.5 55.6 339.0 55.5 339.4 55.3 339.7 55.2 339.9 55.1 340.2 55.0 340.4 54.9 340.5 54.8 340.7 54.7 340.8 54.6 340.9" stroke="#000" stroke-width="0.72" fill="none" stroke-linejoin="round" opacity="1"/>
<path d="M30.0 339.6 30.0 339.3 30.0 339.0 30.1 338.7 30.1 338.3 30.1 338.0 30.1 337.7 30.2 337.4 30.2 337.0 30.2 336.7 30.2 336.4 30.3 336.1 30.3 335.7 30.3 335.4 30.3 335.1 30.4 334.8 30.4 334.5 30.4 334.1 30.4 333.8 30.5 333.5 30.5 333.2 30.5 332.9 30.5 332.7 30.6 332.5 30.6 332.3 30.6 332.1 30.6 331.9 30.7 331.7 30.7 331.4 30.7 331.2 30.7 331.0 30.8 330.8 30.8 330.6 30.8 330.4 30.8 330.2 30.8 330.0 30.9 329.8 30.9 329.6 30.9 329.4 30.9 329.2 31.0 329.0 31.0 328.8 31.0 328.4 31.0 327.8 31.1 327.3 31.1 326.8 31.1 326.3 31.1 325.8 31.2 325.3 31.2 324.8 31.2 324.3 31.2 323.8 31.3 323.2 31.4 322.4 31.6 321.2 31.8 319.8 32.0 318.3 32.1 318.5 32.3 319.0 32.5 319.4 32.7 318.7 32.9 318.0 33.1 317.1 33.2 315.7 33.4 314.4 33.6 313.7 33.8 313.6 34.0 313.5 34.2 314.2 34.3 315.0 34.5 315.3 34.7 312.2 34.8 309.1 35.0 306.1 35.2 306.9 35.3 307.8 35.5 308.7 35.6 308.1 35.8 309.8 35.9 306.1 36.1 305.8 36.3 305.7 36.4 305.6 36.6 305.2 36.7 304.4 36.9 303.6 37.1 303.4 37.2 304.2 37.4 305.0 37.5 305.6 37.7 305.0 37.8 304.5 38.0 304.0 38.2 303.5 38.3 313.5 38.5 302.6 38.6 302.2 38.8 301.9 38.9 301.5 39.1 301.3 39.3 301.1 39.4 300.9 39.6 300.3 39.7 299.4 39.9 298.4 40.1 297.2 40.2 295.7 40.4 294.3 40.5 293.7 40.7 296.2 40.9 298.7 41.0 300.6 41.2 296.6 41.3 292.6 41.5 288.5 41.6 290.7 41.8 293.3 42.0 296.0 42.1 296.6 42.3 296.8 42.4 296.9 42.6 294.3 42.8 290.1 42.9 286.0 43.1 284.6 43.2 286.0 43.4 287.4 43.6 288.6 43.7 289.7 43.9 290.7 44.0 291.0 44.2 288.7 44.4 286.4 44.5 284.4 44.7 286.0 44.9 287.7 45.0 288.6 45.2 285.3 45.4 282.0 45.5 279.3 45.7 279.4 45.9 279.4 46.0 279.5 46.2 279.6 46.4 279.8 46.5 280.0 46.7 280.1 46.9 280.3 47.1 279.5 47.2 276.4 47.4 273.2 47.6 271.9 47.7 273.9 47.9 275.8 48.1 276.1 48.2 273.8 48.4 271.5 48.6 270.9 48.7 272.5 48.9 274.1 49.1 274.2 49.3 272.7 49.4 271.2 49.6 270.9 49.8 271.7 49.9 272.6 50.1 272.9 50.3 272.7 50.5 272.6 50.6 271.4 50.8 269.7 51.0 268.0 51.1 267.7 51.3 267.6 51.5 267.5 51.7 267.3 51.8 267.1 52.0 266.7 52.2 264.3 52.4 269.8 52.5 260.3 52.7 262.0 52.9 263.6 53.1 264.8 53.2 265.1 53.4 265.4 53.6 264.6 53.7 262.2 53.9 259.9 54.1 259.1 54.3 259.7 54.5 260.5 54.8 260.6 55.1 261.0 55.3 262.8 55.6 261.7 55.9 256.1 56.1 254.5 56.4 256.1 56.7 254.9 57.0 252.5 57.2 253.5 57.5 254.9 57.8 255.0 58.1 255.1 58.3 255.6 58.6 255.8 58.9 255.4 59.1 254.5 59.4 253.0 59.7 253.7 60.0 255.5 60.2 254.4 60.5 252.8 60.8 257.7 61.1 259.8 61.4 249.3 61.7 251.4 62.0 260.5 62.3 251.7 62.6 247.0 63.0 247.8 63.3 247.7 63.6 248.0 63.9 232.0 64.2 249.9 64.5 249.6 64.8 245.4 65.2 244.3 65.5 246.2 65.8 245.5 66.1 245.4 66.4 248.5 66.7 247.4 67.0 246.8 67.4 248.2 67.9 248.3 68.3 247.1 68.7 245.2 69.2 244.6 69.6 246.7 70.0 248.5 70.5 246.1 70.8 244.0 71.2 243.5 71.5 244.9 71.8 243.0 72.2 244.1 72.5 248.7 72.8 246.0 73.2 245.0 73.5 245.5 73.8 246.1 74.2 246.5 74.3 246.9 74.4 247.6 74.4 248.2 74.4 248.8 74.5 249.4 74.5 250.0 74.6 250.6 74.6 250.9 74.6 251.3 74.7 251.6 74.7 252.0 74.7 252.4 74.8 252.7 74.8 253.1 74.8 253.4 74.9 253.8 74.9 254.1 74.9 254.5 75.0 254.9 75.0 255.4 75.1 256.0 75.1 256.6 75.1 257.2 75.2 257.9 75.2 258.5 75.2 259.1 75.3 259.8 75.3 260.4 75.3 261.0 75.4 261.6 75.4 262.3 75.5 262.9 75.5 263.5 75.5 264.1 75.6 264.6 75.6 265.1 75.6 265.5 75.7 266.0 75.7 266.5 75.7 267.0 75.8 267.5 75.8 268.0 75.8 268.5 75.9 269.0 75.9 269.5 76.0 270.0 76.0 270.4 76.0 270.8 76.1 271.2 76.1 271.5 76.2 271.7 76.2 272.0 76.3 272.3 76.3 272.5 76.4 272.8 76.4 273.0 76.5 273.3 76.6 274.0 76.6 274.6 76.7 275.3 76.7 275.9 76.8 276.6 76.9 277.2 76.9 277.9 77.0 278.5 77.0 279.1 77.1 279.5 77.1 280.0 77.2 280.4 77.3 280.8 77.3 281.3 77.4 281.7 77.4 282.2 77.5 282.6 77.6 282.8 77.6 282.9 77.7 283.1 77.7 283.2 77.8 283.4 77.8 283.5 77.8 284.0 77.8 284.6 77.8 285.2 77.7 285.9 77.7 286.5 77.7 287.1 77.6 287.8 77.6 288.4 77.6 289.0 77.5 289.6 77.5 290.2 77.5 290.7 77.4 291.1 77.4 291.6 77.3 292.0 77.3 292.5 77.3 293.0 77.2 293.4 77.2 293.9 77.2 294.3 77.1 294.8 77.1 295.2 77.1 295.7 77.0 296.1 77.0 296.6 77.0 296.9 76.9 297.2 76.9 297.5 76.9 297.9 76.8 298.2 76.8 298.5 76.7 298.9 76.7 299.2 76.7 299.5 76.6 299.8 76.6 300.2 76.6 300.5 76.5 300.8 76.5 301.1 76.5 301.7 76.4 302.3 76.4 302.8 76.4 303.4 76.3 304.0 76.3 304.5 76.3 305.1 76.2 305.6 76.2 306.2 76.1 306.8 76.1 307.3 76.1 307.9 76.0 308.5 76.0 309.0 75.9 309.4 75.9 309.8 75.8 310.2 75.8 310.6 75.7 311.0 75.7 311.4 75.6 311.8 75.6 312.1 75.5 312.5 75.5 312.8 75.4 313.0 75.4 313.2 75.3 313.4 75.3 313.6 75.2 313.8 75.2 314.0 75.1 314.2 75.1 314.4 75.0 314.6 75.0 315.1 74.9 315.6 74.9 316.2 74.8 316.8 74.8 317.4 74.7 318.0 74.7 318.5 74.6 319.1 74.6 319.7 74.5 320.3 74.5 320.7 74.4 321.2 74.4 321.7 74.2 322.1 74.0 322.6 73.8 323.0 73.6 323.3 73.4 323.7 73.2 324.1 73.0 324.5 72.8 325.4 72.6 326.3 72.4 326.5 72.2 326.3 72.0 326.2 71.8 327.0 71.5 327.7 71.3 328.1 71.1 328.3 70.9 328.7 70.7 329.5 70.4 330.3 70.1 331.0 69.7 331.1 69.4 331.0 69.1 331.0 68.8 331.4 68.5 332.0 68.2 332.6 67.9 333.1 67.6 333.5 67.3 333.7 67.1 333.9 66.9 334.2 66.8 334.7 66.6 335.1 66.4 335.3 66.2 335.4 66.0 335.6 65.8 336.1 65.6 336.6 65.4 336.8 65.2 336.9 65.0 337.0 64.9 337.8 64.8 338.5 64.7 339.3 64.6 340.0 64.5 340.6 64.4 341.0 64.2 341.4 64.1 341.8 64.0 342.2 63.9 342.5" stroke="#000" stroke-width="0.72" fill="none" stroke-linejoin="round" opacity="1"/>
<path d="M30.0 339.0 30.0 338.7 30.0 338.5 30.1 338.2 30.1 337.9 30.1 337.6 30.1 337.4 30.2 337.1 30.2 336.8 30.2 336.6 30.2 336.3 30.3 336.0 30.3 335.8 30.3 335.5 30.3 335.2 30.4 335.0 30.4 334.7 30.4 334.4 30.4 334.2 30.5 333.9 30.5 333.6 30.5 333.4 30.5 332.7 30.5 332.1 30.6 331.5 30.6 330.8 30.6 330.2 30.6 329.5 30.7 328.9 30.7 328.2 30.7 327.6 30.7 327.0 30.8 326.3 30.8 325.7 30.8 325.0 30.8 324.4 30.9 323.7 30.9 323.1 30.9 322.4 30.9 321.8 31.0 321.1 31.0 320.5 31.0 319.8 31.0 319.5 31.0 319.2 31.1 318.9 31.1 318.6 31.1 318.2 31.1 317.9 31.2 317.6 31.2 317.3 31.2 316.9 31.2 316.6 31.3 316.3 31.4 316.7 31.6 316.9 31.7 317.0 31.9 317.0 32.1 316.4 32.2 314.3 32.4 312.2 32.5 311.1 32.7 312.6 32.9 314.2 33.0 315.1 33.2 313.1 33.4 311.0 33.5 309.1 33.7 308.1 33.8 307.0 34.0 306.0 34.2 307.0 34.3 308.0 34.5 309.1 34.6 309.2 34.8 309.3 34.9 309.3 35.1 309.0 35.2 308.2 35.4 307.4 35.5 306.6 35.6 305.5 35.8 304.5 35.9 303.5 36.1 301.9 36.2 299.6 36.3 297.2 36.5 294.9 36.6 295.8 36.8 297.1 36.9 298.4 37.1 299.3 37.2 299.3 37.3 299.3 37.5 299.3 37.6 299.2 37.8 299.2 37.9 299.2 38.0 298.8 38.2 297.7 38.3 296.6 38.5 295.5 38.6 296.0 38.8 297.0 38.9 298.1 39.1 298.6 39.2 298.1 39.4 297.5 39.5 297.0 39.7 297.2 39.8 297.3 40.0 297.5 40.1 295.8 40.3 293.9 40.5 292.0 40.6 292.1 40.8 293.0 40.9 293.9 41.1 293.6 41.2 291.9 41.4 290.1 41.5 288.5 41.7 287.5 41.8 286.4 42.0 285.4 42.2 286.5 42.3 287.6 42.5 288.7 42.6 289.1 42.8 289.3 42.9 289.4 43.1 289.1 43.2 288.5 43.4 287.9 43.6 286.6 43.7 284.4 43.9 282.2 44.0 280.5 44.2 282.6 44.3 284.7 44.5 286.9 44.7 286.8 44.8 278.2 45.0 286.6 45.2 286.7 45.3 286.8 45.5 286.9 45.7 285.2 45.8 283.4 46.0 281.7 46.2 280.9 46.3 280.2 46.5 279.3 46.7 277.4 46.9 275.4 47.0 273.3 47.2 270.4 47.4 267.5 47.5 265.6 47.7 267.8 47.9 270.0 48.0 271.9 48.2 272.7 48.4 273.5 48.5 274.3 48.7 275.1 48.9 266.0 49.1 276.1 49.2 275.2 49.4 274.2 49.6 273.6 49.7 273.7 49.9 256.5 50.1 272.9 50.2 270.5 50.4 268.0 50.6 267.0 50.8 267.1 50.9 267.1 51.1 267.4 51.3 267.7 51.5 268.0 51.6 264.9 51.8 260.9 52.0 256.9 52.2 258.4 52.3 260.4 52.5 262.3 52.7 259.3 52.9 256.4 53.0 254.1 53.2 255.7 53.4 257.4 53.5 258.4 53.7 257.5 53.9 256.7 54.1 257.1 54.2 259.7 54.5 263.4 54.7 259.1 55.0 254.1 55.3 255.2 55.6 256.1 55.8 256.6 56.1 256.1 56.4 254.0 56.6 252.8 56.9 252.4 57.2 252.6 57.5 253.1 57.7 256.6 58.0 260.3 58.3 255.1 58.5 250.7 58.8 249.8 59.1 249.1 59.4 248.6 59.6 247.2 59.9 244.8 60.2 248.4 60.5 255.0 60.7 251.7 61.0 246.2 61.3 239.8 61.6 239.6 62.0 245.9 62.3 246.9 62.6 246.4 62.9 247.9 63.2 245.0 63.5 240.6 63.8 240.3 64.2 242.1 64.5 245.9 64.8 244.4 65.1 242.8 65.4 241.7 65.7 238.9 66.0 237.4 66.4 246.1 66.7 243.3 67.0 232.0 67.3 237.6 67.8 241.7 68.2 241.2 68.6 238.6 69.1 239.6 69.5 247.1 70.0 247.2 70.4 239.3 70.8 244.6 71.2 246.1 71.6 244.5 72.0 248.7 72.5 245.6 72.9 242.9 73.3 242.8 73.7 245.4 74.1 248.0 74.5 246.4 75.0 247.4 75.4 245.1 75.9 244.8 76.3 243.3 76.8 243.0 77.2 243.5 77.7 243.9 78.1 244.6 78.6 245.6 79.0 245.4 79.5 245.6 79.7 245.4 79.7 245.7 79.7 246.1 79.7 246.5 79.8 246.8 79.8 247.2 79.8 247.5 79.9 247.9 79.9 248.2 79.9 248.6 80.0 248.9 80.0 249.3 80.0 249.7 80.0 250.1 80.1 250.6 80.1 251.0 80.1 251.5 80.2 251.9 80.2 252.4 80.2 252.8 80.2 253.3 80.3 253.7 80.3 254.2 80.3 254.6 80.4 255.1 80.4 255.5 80.4 256.0 80.5 256.4 80.5 256.9 80.5 257.4 80.5 257.9 80.6 258.4 80.6 259.0 80.6 259.5 80.7 260.2 80.8 261.0 81.0 261.9 81.1 262.4 81.2 262.7 81.3 263.1 81.5 263.4 81.6 263.7 81.7 264.0 81.8 264.2 82.0 264.5 82.1 264.5 82.2 264.5 82.3 264.5 82.5 264.5 82.6 265.0 82.7 265.8 82.8 266.5 83.0 267.3 83.1 267.4 83.2 267.5 83.3 267.5 83.5 267.5 83.6 269.0 83.8 270.7 83.9 272.3 84.0 273.3 84.2 272.8 84.3 272.3 84.5 271.8 84.6 272.0 84.8 272.2 84.9 272.5 85.0 272.9 85.2 273.7 85.3 274.6 85.5 275.4 85.6 276.0 85.8 276.5 85.9 277.0 86.0 277.5 86.2 277.8 86.3 278.2 86.5 278.5 86.6 278.9 86.7 279.3 86.9 279.7 87.0 280.1 87.2 280.4 87.4 280.1 87.7 280.1 88.0 280.1 88.4 279.1 88.7 278.0 89.0 276.9 89.3 277.2 89.6 277.6 90.0 278.0 90.3 277.3 90.6 276.7 90.9 277.3 91.2 276.1 91.5 274.5 91.8 275.7 92.1 276.8 92.4 277.2 92.7 277.0 93.0 276.8 93.3 277.0 93.4 277.4 93.6 277.8 93.7 278.2 93.8 278.7 93.9 279.1 94.0 279.5 94.1 280.1 94.2 280.6 94.3 281.2 94.5 281.7 94.6 282.2 94.7 282.7 94.8 283.2 94.9 283.6 95.0 284.1 95.1 284.6 95.0 285.0 95.0 285.4 95.0 285.9 95.0 286.3 95.0 286.8 94.9 287.2 94.9 287.6 94.9 288.1 94.9 288.5 94.8 289.0 94.8 289.4 94.8 289.9 94.8 290.3 94.7 290.8 94.7 291.2 94.7 291.6 94.7 292.1 94.6 292.5 94.6 293.0 94.6 293.4 94.6 293.9 94.5 294.3 94.5 294.8 94.5 295.2 94.5 295.6 94.4 296.0 94.4 296.5 94.4 296.9 94.4 297.3 94.3 297.7 94.3 298.1 94.2 298.5 94.2 298.9 94.1 299.3 94.0 299.6 93.9 300.1 93.9 300.5 93.8 301.0 93.7 301.4 93.6 301.9 93.6 302.3 93.5 302.8 93.4 303.3 93.4 303.7 93.3 304.2 93.2 304.7 93.1 305.2 93.1 305.6 93.0 306.1 92.9 306.7 92.9 307.3 92.8 307.9 92.7 308.5 92.6 309.1 92.6 309.7 92.5 310.3 92.4 310.7 92.3 311.2 92.3 311.6 92.2 312.0 92.1 312.4 92.1 312.9 92.0 313.2 91.9 313.3 91.8 313.4 91.7 313.4 91.6 313.3 91.5 313.3 91.4 314.4 91.2 315.4 91.1 316.5 91.0 317.5 90.9 317.5 90.7 317.6 90.6 317.7 90.5 317.9 90.3 318.6 90.2 319.3 90.1 320.0 90.0 320.5 89.8 320.7 89.7 320.8 89.6 320.9 89.5 321.0 89.3 321.2 89.2 321.4 89.1 321.6 89.0 322.0 88.8 322.7 88.7 323.5 88.6 324.2 88.5 325.0 88.3 325.7 88.2 326.4 88.0 327.3 87.8 327.4 87.7 327.5 87.5 327.6 87.3 328.2 87.1 328.9 87.0 329.4 86.8 329.9 86.6 330.3 86.5 330.8 86.3 331.3 86.1 331.8 85.9 332.3 85.8 332.6 85.6 332.9 85.4 333.0 85.2 332.9 85.1 332.9 84.9 333.2 84.7 333.9 84.5 334.5 84.3 336.2 84.1 338.0 83.9 337.7 83.6 336.2 83.4 335.5 83.2 336.6 83.0 337.6 82.8 337.5 82.6 337.4 82.3 338.2 82.1 339.3 81.9 340.3 81.7 341.0 81.5 341.7 81.3 342.2 81.0 342.5 80.8 342.5 80.6 342.4 80.4 342.4" stroke="#000" stroke-width="0.72" fill="none" stroke-linejoin="round" opacity="1"/>
<path d="M30.0 340.2 30.0 339.9 30.0 339.5 30.1 339.2 30.1 338.8 30.1 338.5 30.1 338.1 30.2 337.8 30.2 337.4 30.2 337.1 30.2 336.7 30.3 336.4 30.3 336.1 30.3 335.7 30.3 335.4 30.4 335.0 30.4 334.7 30.4 334.3 30.4 334.0 30.4 333.7 30.5 333.3 30.5 333.0 30.5 332.6 30.5 332.2 30.6 331.8 30.6 331.3 30.6 330.9 30.6 330.5 30.7 330.1 30.7 329.7 30.7 329.3 30.7 328.8 30.7 328.4 30.8 328.0 30.8 327.6 30.8 327.2 30.8 326.8 30.9 326.4 30.9 325.9 30.9 325.5 30.9 325.1 31.0 324.7 31.0 324.3 31.0 323.9 31.0 323.6 31.1 323.4 31.1 323.1 31.1 322.8 31.1 322.6 31.1 322.3 31.2 322.0 31.2 321.8 31.2 321.5 31.2 321.3 31.3 321.0 31.4 321.7 31.5 321.9 31.7 321.0 31.8 320.1 32.0 319.2 32.1 319.3 32.3 319.6 32.4 319.9 32.6 320.1 32.7 320.1 32.9 320.1 33.0 320.1 33.1 318.6 33.3 317.0 33.4 315.3 33.6 314.4 33.7 313.9 33.9 313.4 34.0 312.7 34.2 310.4 34.3 308.0 34.5 305.7 34.6 305.4 34.7 306.0 34.9 306.7 35.0 307.3 35.1 306.7 35.2 305.8 35.4 304.9 35.5 303.9 35.6 303.8 35.8 303.6 35.9 303.5 36.0 303.5 36.1 304.8 36.3 306.1 36.4 307.4 36.5 308.3 36.7 307.6 36.8 306.8 36.9 306.1 37.0 305.0 37.2 303.5 37.3 301.9 37.4 300.3 37.6 298.8 37.7 297.5 37.8 296.2 37.9 295.0 38.1 293.7 38.2 292.3 38.3 291.0 38.5 289.7 38.6 289.5 38.7 289.8 38.8 290.1 39.0 290.6 39.1 289.5 39.3 288.4 39.4 287.3 39.6 287.1 39.8 287.4 39.9 287.8 40.1 287.6 40.2 286.5 40.4 285.5 40.5 284.5 40.7 285.1 40.8 285.7 41.0 286.4 41.1 285.3 41.3 283.6 41.4 281.9 41.6 281.6 41.7 283.2 41.9 284.9 42.0 286.3 42.2 285.9 42.3 285.6 42.5 285.3 42.6 282.8 42.8 279.8 42.9 276.9 43.1 276.5 43.2 278.6 43.4 280.7 43.5 282.2 43.7 281.5 43.8 280.8 44.0 280.2 44.1 279.2 44.3 278.3 44.4 277.3 44.6 277.4 44.8 278.0 44.9 278.6 45.1 279.4 45.3 280.3 45.5 281.2 45.6 279.9 45.8 277.8 46.0 275.8 46.1 274.0 46.3 272.4 46.5 270.8 46.6 270.6 46.8 270.8 47.0 270.9 47.1 270.9 47.3 270.8 47.5 270.8 47.7 269.9 47.8 268.8 48.0 267.8 48.2 267.7 48.3 277.9 48.5 267.6 48.7 266.3 48.8 265.1 49.0 263.9 49.2 268.2 49.3 272.6 49.5 276.4 49.7 270.8 49.9 265.1 50.0 260.1 50.2 260.1 50.4 260.1 50.5 260.3 50.7 260.9 50.9 261.6 51.1 262.3 51.2 262.8 51.4 263.4 51.6 262.8 51.8 261.0 51.9 259.1 52.1 258.7 52.3 259.2 52.5 259.7 52.6 260.2 52.8 260.8 53.0 261.3 53.1 258.1 53.3 254.2 53.5 250.2 53.7 251.9 53.8 253.8 54.0 255.5 54.2 254.5 54.4 253.5 54.7 252.7 54.9 252.3 55.2 254.1 55.5 256.5 55.7 260.4 56.0 263.7 56.3 256.9 56.6 251.2 56.8 249.6 57.1 249.3 57.4 251.3 57.6 251.5 57.9 250.1 58.2 251.8 58.5 254.9 58.7 252.4 59.0 249.1 59.3 245.6 59.5 243.0 59.8 243.8 60.1 245.5 60.4 248.7 60.6 247.5 60.9 241.8 61.2 240.0 61.5 240.4 61.9 243.9 62.2 244.7 62.5 243.2 62.8 241.9 63.1 240.6 63.4 235.6 63.7 240.6 64.1 241.5 64.4 237.9 64.7 237.4 65.0 239.1 65.3 239.1 65.6 238.9 65.9 238.6 66.3 234.8 66.6 232.0 66.9 235.1 67.2 237.5 67.6 240.5 68.1 242.1 68.5 236.5 68.9 238.1 69.4 241.9 69.8 238.9 70.2 231.4 70.7 228.5 71.0 233.3 71.4 238.0 71.8 241.7 72.2 243.1 72.5 244.1 72.9 245.6 73.3 247.5 73.7 247.6 74.0 245.9 74.4 244.4 74.8 237.5 75.1 236.7 75.5 247.0 75.9 236.7 76.3 237.0 76.6 242.0 77.0 247.4 77.4 244.2 77.8 241.3 78.1 240.1 78.3 241.0 78.4 241.8 78.6 242.4 78.7 242.8 78.9 243.1 79.0 243.4 79.2 244.0 79.3 244.5 79.5 245.1 79.6 246.1 79.7 247.3 79.9 248.6 80.0 249.4 80.0 250.0 80.1 250.3 80.2 250.6 80.2 250.9 80.3 251.2 80.4 251.5 80.4 251.8 80.5 252.1 80.6 252.8 80.6 253.6 80.7 254.4 80.8 255.2 80.8 256.0 80.9 256.8 80.9 257.6 81.0 258.3 81.1 258.9 81.1 259.5 81.2 260.0 81.3 260.6 81.3 261.2 81.4 261.8 81.5 262.4 81.6 262.5 81.7 262.6 81.8 262.6 81.8 262.7 81.9 262.8 82.0 262.9 82.1 263.5 82.2 264.0 82.3 264.6 82.3 265.2 82.4 265.7 82.5 266.2 82.6 266.1 82.7 266.1 82.8 266.1 82.9 266.1 82.9 266.1 83.0 266.3 83.1 267.0 83.2 267.7 83.3 268.4 83.4 269.1 83.5 269.7 83.5 270.6 83.6 271.6 83.7 272.6 83.8 273.6 83.9 274.6 84.0 275.6 84.1 276.1 84.1 276.3 84.2 276.6 84.3 276.8 84.4 277.0 84.5 277.3 84.6 277.5 84.7 277.8 84.8 278.0 85.0 278.1 85.3 279.1 85.5 280.1 85.7 278.7 85.9 277.2 86.2 277.4 86.4 278.0 86.6 279.0 86.9 280.3 87.1 281.3 87.3 282.0 87.6 283.0 87.8 284.8 88.0 286.3 88.2 283.7 88.5 281.0 88.7 280.9 88.9 281.1 89.2 281.4 89.4 281.6 89.6 282.9 89.9 285.1 90.1 286.1 90.3 285.0 90.5 284.3 90.8 284.8 90.9 285.3 91.1 285.9 91.2 286.4 91.3 286.9 91.5 287.4 91.6 288.4 91.7 289.5 91.9 290.7 92.0 291.7 92.1 290.6 92.3 289.5 92.4 288.3 92.6 288.2 92.7 289.7 92.8 291.3 93.0 292.8 93.1 293.3 93.2 293.4 93.4 293.6 93.5 293.7 93.6 293.5 93.8 293.3 93.9 293.1 94.1 293.3 94.2 294.3 94.3 295.2 94.5 296.1 94.6 296.3 94.8 296.3 94.9 296.2 95.1 296.6 95.3 297.2 95.4 297.8 95.6 298.1 95.8 298.2 95.9 298.3 96.1 299.3 96.3 301.0 96.4 302.7 96.6 303.5 96.8 303.6 96.9 303.6 97.1 304.1 97.3 305.1 97.4 306.1 97.6 306.5 97.8 306.4 97.9 306.2 98.1 307.8 98.2 311.2 98.4 314.6 98.6 316.4 98.8 316.3 99.1 315.2 99.4 312.5 99.6 311.1 99.9 311.2 100.2 312.8 100.5 315.1 100.7 312.7 101.0 309.2 101.3 312.4 101.5 315.3 101.8 315.6 102.1 316.0 102.4 316.7 102.6 317.0 102.9 317.0 103.2 317.8 103.4 318.9 103.7 318.5 104.0 317.6 104.3 313.1 104.6 310.1 105.0 316.8 105.4 315.1 105.8 313.9 106.1 315.0 106.5 318.0 106.9 314.2 107.3 314.8 107.7 317.4 108.1 320.0 108.5 319.7 109.0 321.5 109.4 316.3 109.9 318.4 110.3 318.1 110.8 317.0 111.2 318.0 111.7 318.9 112.1 317.9 112.6 319.7 113.0 320.3 113.5 319.8 113.9 318.7 114.2 317.4 114.6 316.8 115.0 317.6 115.4 318.9 115.8 319.8 116.2 319.3 116.5 316.9 116.9 311.6 117.3 312.9 117.7 315.1 118.0 315.8 118.3 315.5 118.6 314.7 118.9 313.4 119.3 314.3 119.6 315.7 119.9 316.1 120.2 314.8 120.5 312.7 120.8 312.5 121.2 311.4 121.5 309.1 121.8 311.0 122.1 312.1 122.4 310.8 122.7 310.8 123.1 311.2 123.4 311.0 123.8 310.7 124.1 310.4 124.5 310.5 124.8 309.7 125.2 308.1 125.5 306.0 125.9 307.0 126.2 308.0 126.6 308.6 126.9 308.3 127.3 307.0 127.6 306.3 128.0 306.8 128.3 306.4 128.7 305.9 129.0 305.3 129.4 306.3 129.7 306.7 130.1 306.8 130.4 306.2 130.8 303.8 131.1 302.6 131.5 304.8 131.9 302.2 132.3 302.0 132.7 301.9 133.1 301.0 133.5 299.1 133.9 298.6 134.4 301.3 134.8 300.6 135.2 300.1 135.6 302.7 136.0 301.9 136.4 299.9 136.8 300.4 137.2 302.9 137.6 305.2 138.0 303.1 138.4 304.5 138.8 303.6 139.2 302.5 139.6 301.5 140.1 299.9 140.5 301.4 141.0 300.8 141.4 301.7 141.8 299.6 142.3 298.9 142.7 299.8 143.1 299.9 143.6 298.4 144.0 296.4 144.4 301.0 144.9 299.8 145.3 298.3 145.8 299.4 146.2 300.9 146.6 300.8 147.1 301.1 147.5 299.1 147.9 299.0 148.4 298.9 148.8 298.2 149.2 299.2 149.5 301.5 149.9 298.8 150.2 300.8 150.6 302.8 151.0 299.7 151.3 301.4 151.7 303.1 152.0 303.8 152.2 302.5 152.4 301.3 152.6 301.1 152.8 301.7 153.0 302.4 153.1 303.9 153.3 305.6 153.5 307.2 153.7 307.4 153.9 307.6 154.1 307.7 154.3 307.8 154.4 307.8 154.6 307.7 154.8 307.4 155.0 307.2 155.2 306.8 155.4 306.4 155.4 306.7 155.4 307.0 155.5 307.3 155.5 307.6 155.5 308.4 155.6 309.2 155.6 310.0 155.6 310.8 155.7 311.5 155.7 312.3 155.7 313.1 155.8 313.9 155.8 314.7 155.9 315.5 155.9 316.3 155.9 317.1 156.0 317.9 156.0 318.7 156.0 319.1 156.1 319.6 156.1 320.0 156.1 320.5 156.2 320.9 156.2 321.4 156.2 321.8 156.3 322.3 156.3 322.7 156.4 323.2 156.4 323.6 156.4 324.0 156.4 324.5 156.4 324.9 156.4 325.3 156.4 325.7 156.4 326.1 156.4 326.6 156.4 327.0 156.4 327.4 156.4 327.8 156.4 328.2 156.4 328.7 156.4 329.1 156.4 329.5 156.4 329.9 156.4 330.3 156.4 330.8 156.4 331.2 156.4 331.6 156.4 332.0 156.4 332.4 156.4 332.8 156.4 333.3 156.4 333.7 156.4 334.1 156.4 334.5 156.4 334.9 156.4 335.4 156.4 335.8 156.4 336.2 156.4 336.6 156.4 337.0 156.4 337.5 156.4 337.9 156.4 338.3 156.4 338.8 156.4 339.2 156.4 339.7 156.4 340.1 156.4 340.6 156.4 341.1 156.4 341.5 156.4 342.0 156.4 342.4 156.4 342.5" stroke="#000" stroke-width="0.72" fill="none" stroke-linejoin="round" opacity="1"/>
<path d="M30.0 342.1 30.0 341.6 30.0 341.2 30.1 340.8 30.1 340.4 30.1 340.0 30.1 339.5 30.2 339.1 30.2 338.7 30.2 338.3 30.2 337.9 30.3 337.4 30.3 337.0 30.3 336.6 30.3 336.2 30.3 335.8 30.4 335.3 30.4 334.9 30.4 334.5 30.4 334.1 30.5 333.7 30.5 333.2 30.5 332.7 30.5 332.1 30.6 331.4 30.6 330.8 30.6 330.1 30.6 329.4 30.6 328.8 30.7 328.1 30.7 327.4 30.7 326.8 30.7 326.1 30.8 325.4 30.8 324.7 30.8 324.1 30.8 323.4 30.9 322.7 30.9 322.1 30.9 321.4 30.9 320.7 30.9 320.0 31.0 319.4 31.0 318.7 31.0 318.2 31.0 317.8 31.1 317.5 31.1 317.1 31.1 316.8 31.1 316.4 31.2 316.0 31.2 315.7 31.2 315.3 31.2 315.0 31.2 314.6 31.3 314.3 31.4 314.3 31.5 314.5 31.7 314.7 31.8 315.0 31.9 315.2 32.1 314.8 32.2 313.4 32.3 312.0 32.4 310.5 32.6 310.4 32.7 311.3 32.8 312.1 33.0 313.0 33.1 312.6 33.2 311.9 33.4 311.1 33.5 310.4 33.6 307.4 33.8 304.4 33.9 301.4 34.0 299.4 34.2 301.7 34.3 304.1 34.4 306.5 34.6 307.8 34.7 307.3 34.8 303.5 34.9 306.5 35.0 305.9 35.1 304.9 35.3 303.9 35.4 302.9 35.5 301.9 35.6 300.8 35.7 299.7 35.9 298.5 36.0 297.4 36.1 296.8 36.2 296.5 36.3 296.2 36.4 295.8 36.6 295.9 36.7 296.4 36.8 292.3 36.9 297.5 37.0 297.6 37.1 296.3 37.3 295.1 37.4 293.8 37.5 292.6 37.6 292.1 37.7 291.6 37.9 291.1 38.0 290.6 38.1 289.7 38.2 288.6 38.3 287.6 38.4 286.6 38.6 285.7 38.7 284.9 38.8 284.2 38.9 283.4 39.1 285.0 39.2 288.7 39.4 292.4 39.5 295.4 39.7 293.3 39.8 291.2 40.0 289.1 40.1 287.3 40.3 281.9 40.4 284.0 40.6 283.2 40.7 283.9 40.8 284.7 41.0 285.4 41.1 285.1 41.3 271.5 41.4 284.3 41.6 283.4 41.7 282.0 41.9 280.6 42.0 279.5 42.2 279.4 42.3 279.3 42.5 279.3 42.6 279.5 42.8 279.8 42.9 280.1 43.1 279.8 43.2 278.8 43.4 277.7 43.5 276.7 43.7 276.0 43.8 275.2 44.0 274.4 44.1 273.8 44.2 273.4 44.4 272.9 44.6 272.5 44.7 272.3 44.9 264.5 45.1 272.2 45.2 273.1 45.4 258.0 45.6 273.1 45.7 269.6 45.9 266.0 46.1 265.4 46.2 268.3 46.4 271.2 46.6 272.5 46.8 272.0 46.9 271.5 47.1 270.3 47.3 268.5 47.4 266.7 47.6 265.3 47.8 264.3 47.9 263.2 48.1 264.1 48.3 266.3 48.4 268.4 48.6 267.9 48.8 265.8 48.9 263.8 49.1 262.5 49.3 261.7 49.5 260.8 49.6 261.3 49.8 262.2 50.0 263.2 50.1 260.7 50.3 257.3 50.5 253.8 50.7 256.5 50.8 259.8 51.0 262.8 51.2 259.4 51.4 256.1 51.5 253.2 51.7 252.9 51.9 252.7 52.0 252.6 52.2 252.9 52.4 253.2 52.6 253.6 52.7 254.2 52.9 254.7 53.1 255.3 53.3 256.0 53.4 256.6 53.6 255.1 53.8 252.2 54.0 249.4 54.1 250.4 54.3 252.7 54.6 256.0 54.8 257.7 55.1 257.1 55.4 253.3 55.7 247.5 55.9 240.4 56.2 242.1 56.5 247.3 56.7 247.7 57.0 247.5 57.3 247.0 57.6 246.5 57.8 246.2 58.1 245.6 58.4 244.3 58.6 240.8 58.9 235.2 59.2 238.9 59.5 246.8 59.7 245.2 60.0 241.8 60.3 239.8 60.5 238.7 60.8 242.6 61.1 243.7 61.4 239.5 61.7 240.0 62.1 241.1 62.4 239.0 62.7 239.6 63.0 241.9 63.3 241.0 63.6 239.5 63.9 247.9 64.3 236.2 64.6 236.7 64.9 242.0 65.2 240.9 65.5 237.0 65.8 240.6 66.2 240.3 66.5 235.8 66.8 232.8 67.1 231.0 67.5 232.0 67.9 230.4 68.4 240.4 68.8 243.5 69.2 243.1 69.7 228.0 70.1 231.3 70.5 236.7 70.9 232.1 71.2 233.3 71.6 236.3 71.9 235.6 72.3 239.9 72.6 242.1 73.0 238.7 73.3 238.8 73.7 241.3 74.0 245.3 74.4 243.8 74.7 242.6 75.1 243.0 75.4 247.9 75.8 242.7 76.1 237.4 76.5 235.7 76.8 238.3 77.0 239.8 77.2 239.1 77.3 238.5 77.5 237.9 77.6 240.5 77.8 243.9 77.9 247.1 78.1 247.2 78.3 245.3 78.4 243.3 78.6 243.1 78.7 244.9 78.9 246.8 79.0 248.7 79.2 250.4 79.3 252.1 79.5 253.6 79.7 251.3 79.8 249.0 80.0 246.6 80.1 247.7 80.3 249.5 80.4 251.2 80.6 251.7 80.7 251.6 80.9 251.5 81.0 251.8 81.2 253.2 81.3 254.5 81.5 255.9 81.6 255.8 81.7 254.9 81.9 254.0 82.0 253.2 82.2 253.0 82.3 252.8 82.4 252.6 82.6 253.4 82.7 254.8 82.9 256.3 83.0 257.7 83.1 257.0 83.3 256.4 83.4 255.7 83.6 256.3 83.7 258.1 83.8 260.0 84.0 261.8 84.1 262.4 84.3 262.8 84.4 263.3 84.6 263.4 84.7 262.9 84.8 262.5 85.0 262.0 85.1 263.2 85.3 264.6 85.4 266.1 85.5 267.0 85.7 266.7 85.8 266.4 86.0 266.2 86.1 266.8 86.2 267.8 86.4 268.8 86.5 269.4 86.7 268.5 86.8 267.6 87.0 266.6 87.1 267.2 87.2 268.6 87.4 270.0 87.5 271.2 87.7 271.0 87.8 270.9 87.9 270.7 88.1 271.7 88.2 273.5 88.4 275.3 88.5 277.1 88.6 275.7 88.8 274.3 88.9 272.8 89.1 272.9 89.2 274.6 89.3 276.4 89.5 278.1 89.6 277.7 89.8 277.1 89.9 276.4 90.1 276.2 90.2 276.7 90.3 277.1 90.5 277.6 90.6 279.2 90.8 281.1 90.9 282.9 91.0 283.6 91.2 280.3 91.3 276.9 91.4 273.6 91.6 273.5 91.7 275.9 91.8 278.2 92.0 280.6 92.1 282.5 92.3 284.4 92.4 286.2 92.5 287.6 92.7 287.3 92.8 286.9 92.9 286.6 93.1 287.2 93.2 288.4 93.4 289.6 93.5 290.8 93.6 291.2 93.8 291.5 93.9 291.9 94.0 291.5 94.2 288.9 94.3 286.3 94.4 283.7 94.6 284.4 94.7 287.7 94.9 291.0 95.0 294.2 95.2 296.2 95.3 298.3 95.4 300.3 95.6 300.5 95.7 299.6 95.9 298.7 96.0 297.9 96.2 298.0 96.3 298.0 96.5 298.1 96.6 298.9 96.7 300.0 96.9 301.1 97.0 301.7 97.2 300.7 97.3 299.7 97.5 298.7 97.6 300.6 97.8 303.4 97.9 306.1 98.0 307.5 98.2 306.2 98.3 304.9 98.5 303.7 98.6 303.8 98.9 304.0 99.1 304.4 99.3 305.2 99.6 305.2 99.8 303.6 100.0 302.8 100.3 305.0 100.5 307.0 100.8 308.1 101.0 309.1 101.2 308.4 101.5 307.6 101.7 308.0 101.9 308.5 102.2 310.9 102.4 313.7 102.7 313.8 102.9 312.5 103.1 314.8 103.4 319.9 103.6 321.2 103.8 318.1 104.1 316.1 104.3 316.1 104.6 315.8 105.0 315.3 105.4 319.5 105.8 317.0 106.2 315.9 106.6 316.9 107.0 316.6 107.4 319.5 107.8 319.8 108.2 321.2 108.6 319.6 109.0 315.1 109.5 316.4 109.9 320.9 110.4 317.6 110.8 317.6 111.3 319.7 111.7 319.2 112.2 316.8 112.6 316.6 113.1 318.6 113.5 318.6 113.9 317.5 114.3 317.5 114.7 318.0 115.1 318.5 115.4 316.5 115.8 316.1 116.2 316.9 116.6 317.9 117.0 317.1 117.4 314.1 117.7 314.3 118.0 315.8 118.3 312.7 118.7 312.2 119.0 314.2 119.3 312.5 119.6 311.1 119.9 310.9 120.2 311.3 120.6 311.6 120.9 310.2 121.2 309.5 121.5 309.3 121.8 312.0 122.1 311.9 122.5 308.5 122.8 309.1 123.1 309.4 123.5 308.3 123.8 307.7 124.2 308.1 124.5 309.0 124.9 307.9 125.2 306.7 125.6 305.6 125.9 304.9 126.3 306.3 126.6 306.9 127.0 305.4 127.3 306.8 127.7 306.6 128.0 304.8 128.4 306.9 128.7 304.9 129.1 301.4 129.4 301.2 129.8 302.8 130.1 303.2 130.5 300.2 130.8 301.1 131.2 301.0 131.6 300.2 132.0 302.1 132.4 302.9 132.8 302.0 133.2 301.4 133.6 302.1 134.0 303.2 134.4 302.5 134.8 300.9 135.2 299.5 135.6 299.0 136.0 299.6 136.4 303.0 136.8 302.3 137.2 300.7 137.6 299.0 138.0 297.5 138.4 301.7 138.8 300.6 139.3 301.3 139.7 301.1 140.2 299.1 140.6 298.7 141.0 298.2 141.5 299.1 141.9 299.1 142.4 298.9 142.8 300.2 143.2 301.6 143.7 300.2 144.1 297.1 144.6 297.7 145.0 298.2 145.5 298.8 145.9 297.7 146.3 297.3 146.7 297.2 147.1 297.3 147.5 299.8 147.9 296.5 148.3 298.2 148.7 298.4 149.1 296.5 149.5 295.5 149.7 296.9 149.9 298.4 150.1 299.7 150.3 301.0 150.5 302.3 150.7 303.0 150.9 303.8 151.1 304.3 151.3 304.4 151.4 304.6 151.6 304.7 151.8 304.7 152.0 304.8 152.2 305.2 152.3 305.6 152.4 306.0 152.4 306.5 152.5 306.9 152.5 307.3 152.6 307.6 152.6 308.0 152.7 308.3 152.7 308.6 152.8 308.9 152.8 309.3 152.9 309.6 152.9 309.9 152.9 310.3 153.0 310.6 153.0 310.8 153.1 311.0 153.1 311.3 153.2 311.5 153.2 311.7 153.3 311.9 153.3 312.1 153.4 312.4 153.4 312.6 153.5 312.8 153.5 313.2 153.6 314.0 153.6 314.8 153.7 315.7 153.7 316.5 153.7 317.3 153.8 318.2 153.8 319.0 154.1 320.5 154.4 320.4 154.6 320.5 154.9 320.9 155.1 320.9 155.4 320.5 155.6 321.0 155.9 322.0 156.2 323.0 156.4 323.9 156.7 322.7 156.9 320.7 157.2 321.6 157.5 323.2 157.7 323.7 158.0 323.9 158.2 324.9 158.5 325.9 158.8 327.0 159.1 327.9 159.4 328.3 159.8 328.3 160.1 328.3 160.4 329.0 160.7 328.9 161.0 328.7 161.4 329.3 161.7 329.5 162.0 329.6 162.3 330.6 162.6 330.7 163.0 329.6 163.3 330.6 163.6 331.0 163.9 330.3 164.3 331.9 164.6 333.4 164.9 333.5 165.2 333.3 165.5 333.1 165.9 334.1 166.2 334.9 166.5 335.4 166.8 334.3 167.2 333.9 167.6 334.2 168.0 334.3 168.4 334.4 168.9 335.8 169.3 336.0 169.7 335.4 170.1 335.1 170.5 335.7 170.9 336.5 171.3 336.0 171.8 336.3 172.2 336.7 172.6 336.5 173.0 337.3 173.4 336.9 173.8 336.9 174.3 337.4 174.7 337.6 175.1 337.5 175.5 338.7 176.0 338.2 176.4 337.9 176.8 338.6 177.2 339.3 177.7 339.4 178.1 339.1 178.5 339.0 179.0 339.2 179.4 339.3 179.8 339.1 180.2 339.2 180.7 339.6 181.1 340.1 181.5 340.1 182.0 340.4 182.4 340.6 182.9 339.6 183.3 339.8 183.8 339.8 184.2 339.7 184.6 340.1 185.1 340.4 185.5 340.0 186.0 340.7 186.4 340.8 186.9 340.8 187.3 340.7 187.8 340.6 188.2 341.1 188.7 341.4 189.1 341.0 189.6 341.5 190.0 341.9 190.5 341.9 190.9 342.1 191.3 341.7 191.8 341.7 192.2 341.9 192.7 341.6 193.1 341.4 193.6 342.0 194.0 341.8 194.5 341.2 194.9 341.8 195.4 342.0 195.8 341.6 196.3 341.3 196.7 341.1 197.2 341.4 197.6 342.0 198.1 341.9 198.5 342.5 199.0 341.8 199.4 341.3 199.9 342.3 200.3 342.5 200.8 342.5 201.2 342.5 201.7 342.5 202.1 342.4 202.6 342.2 203.0 341.6 203.5 342.3 203.9 342.4 204.4 342.2 204.8 342.0 205.3 342.3 205.7 342.0 206.2 341.4 206.6 341.6 207.1 342.0 207.5 342.4 208.0 342.5 208.4 342.4 208.9 342.5 209.3 342.5 209.8 342.4 210.2 342.3 210.7 342.4 211.1 342.3 211.6 342.2 212.0 342.4 212.5 342.3 212.9 342.3 213.4 342.3 213.8 341.9 214.3 341.9 214.7 342.0 215.2 342.1 215.6 342.2 216.1 342.0 216.5 341.7 217.0 341.6 217.4 342.2 217.9 342.1 218.4 342.3 218.8 342.4 219.3 342.0 219.7 342.2 220.2 342.5 220.6 342.5 221.1 342.2 221.5 342.2 222.0 342.5 222.4 342.1 222.9 341.7 223.3 342.3 223.8 342.5 224.2 342.4 224.7 342.0 225.1 341.9 225.6 342.5 226.0 342.5 226.5 342.1 226.9 342.2 227.4 342.5 227.8 342.5 228.3 342.4 228.7 342.5 229.2 342.5 229.6 342.5 230.1 342.5" stroke="#000" stroke-width="0.72" fill="none" stroke-linejoin="round" opacity="1"/>
<path d="M30 308.32h3M30 274.15h3M30 239.98h3M55.33 342.5v-3M80.65 342.5v-3M105.97 342.5v-3M131.3 342.5v-3M156.62 342.5v-3M181.95 342.5v-3M207.28 342.5v-3" stroke="#666666" stroke-width="1.1" fill="none"/>
<rect x="30" y="205.8" width="202.6" height="136.7" stroke="#666666" stroke-width="1.0" fill="none"/>
<text x="26.5" y="345.4" font-size="10" fill="#222" text-anchor="end" font-weight="normal" >0</text>
<text x="26.5" y="311.22" font-size="10" fill="#222" text-anchor="end" font-weight="normal" >2</text>
<text x="26.5" y="277.05" font-size="10" fill="#222" text-anchor="end" font-weight="normal" >4</text>
<text x="26.5" y="242.88" font-size="10" fill="#222" text-anchor="end" font-weight="normal" >6</text>
<text x="26.5" y="208.7" font-size="10" fill="#222" text-anchor="end" font-weight="normal" >8</text>
<text x="30" y="354.1" font-size="10" fill="#222" text-anchor="middle" font-weight="normal" >0</text>
<text x="55.33" y="354.1" font-size="10" fill="#222" text-anchor="middle" font-weight="normal" >10</text>
<text x="80.65" y="354.1" font-size="10" fill="#222" text-anchor="middle" font-weight="normal" >20</text>
<text x="105.97" y="354.1" font-size="10" fill="#222" text-anchor="middle" font-weight="normal" >30</text>
<text x="131.3" y="354.1" font-size="10" fill="#222" text-anchor="middle" font-weight="normal" >40</text>
<text x="156.62" y="354.1" font-size="10" fill="#222" text-anchor="middle" font-weight="normal" >50</text>
<text x="181.95" y="354.1" font-size="10" fill="#222" text-anchor="middle" font-weight="normal" >60</text>
<text x="207.28" y="354.1" font-size="10" fill="#222" text-anchor="middle" font-weight="normal" >70</text>
<text x="232.6" y="354.1" font-size="10" fill="#222" text-anchor="middle" font-weight="normal" >80</text>
<text x="11.8" y="270.1" font-size="9.6" fill="#222" text-anchor="middle" font-weight="normal" transform="rotate(-90 11.8 270.1)">Impact force (kN)</text>
<text x="140.5" y="367.7" font-size="9.6" fill="#222" text-anchor="middle" font-weight="normal" >Displacement (mm)</text>
<text x="5.5" y="199.7" font-size="10" fill="#222" text-anchor="start" font-weight="normal" >(c)</text>
<g transform="translate(30.3 185.5) scale(1.0)"><path d="M0 2.7L3.4 0H9.5L11.4 2.7L10.8 15L3.4 17.2L0 15Z" fill="#2a8c6b"/><path d="M0 2.7L3.4 0H4.3L3.6 4.6H0.2Z" fill="#0b2118"/><path d="M7.4 3.2L11.4 2.7L10.8 15L7.4 16.3Z" fill="#0c271d"/></g>
<text x="45.5" y="199.8" font-size="9" fill="#222" text-anchor="start" font-weight="normal" >SPOH R = 20mm</text>
<text x="228" y="218" font-size="9.5" fill="#222" text-anchor="end" font-weight="normal" >Indentation and Flexion Mode</text>
<text x="228" y="227.2" font-size="9.5" fill="#222" text-anchor="end" font-weight="normal" >&amp; Direct Penetration Mode</text>
<circle cx="34.8" cy="210.6" r="2.9" fill="none" stroke="#c4364c" stroke-width="0.55"/>
<text x="34.8" y="212.6" font-size="5.3" fill="#c4364c" text-anchor="middle" font-weight="normal" >1</text>
<text x="32" y="220.3" font-size="7.3" fill="#c4364c" text-anchor="start" font-weight="bold" stroke="#c4364c" stroke-width="0.12" textLength="31" lengthAdjust="spacingAndGlyphs">indentation</text>
<text x="32" y="226.3" font-size="7.3" fill="#c4364c" text-anchor="start" font-weight="bold" stroke="#c4364c" stroke-width="0.12" textLength="14" lengthAdjust="spacingAndGlyphs">stage</text>
<path d="M30.6 232.2H66.3" stroke="#c4364c" stroke-width="1.0"/>
<path d="M30.6 232.2l3 -1.35v2.7z" fill="#c4364c"/>
<path d="M66.3 232.2l-3 -1.35v2.7z" fill="#c4364c"/>
<path d="M67 217V240" stroke="#c4364c" stroke-width="1.0" stroke-dasharray="2.1 1.4"/>
<circle cx="70.4" cy="223.4" r="2.9" fill="none" stroke="#3b8a5a" stroke-width="0.55"/>
<text x="70.4" y="225.4" font-size="5.3" fill="#3b8a5a" text-anchor="middle" font-weight="normal" >3</text>
<text x="67.8" y="232.8" font-size="7.3" fill="#3b8a5a" text-anchor="start" font-weight="bold" stroke="#3b8a5a" stroke-width="0.12" textLength="39" lengthAdjust="spacingAndGlyphs">softening stage</text>
<path d="M68.9 235.6H107.2" stroke="#3b8a5a" stroke-width="1.0"/>
<path d="M68.9 235.6l3 -1.35v2.7z" fill="#3b8a5a"/>
<path d="M107.2 235.6l-3 -1.35v2.7z" fill="#3b8a5a"/>
<path d="M109.3 222.4V313.5" stroke="#3b8a5a" stroke-width="1.0" stroke-dasharray="2.1 1.4"/>
<circle cx="133.35" cy="286.1" r="2.95" fill="none" stroke="#a0743a" stroke-width="0.6"/>
<text x="133.35" y="287.95" font-size="5.2" fill="#a0743a" text-anchor="middle">4</text>
<text x="140.9" y="288.8" font-size="7.3" fill="#a0743a" stroke="#a0743a" stroke-width="0.12" font-weight="bold" textLength="48" lengthAdjust="spacingAndGlyphs">penetration stage</text>
<path d="M111.3 291.4H206.6" stroke="#a0743a" stroke-width="1.0"/>
<path d="M111.3 291.4l3 -1.35v2.7z" fill="#a0743a"/>
<path d="M206.6 291.4l-3 -1.35v2.7z" fill="#a0743a"/>
<path d="M207.1 283.2V342" stroke="#a0743a" stroke-width="1.0" stroke-dasharray="2.1 1.4"/>
<path d="M64 321.9V342.5" stroke="#3d5f8e" stroke-width="1.0" stroke-dasharray="2.1 1.4"/>
<path d="M92.2 321.9V342.5" stroke="#3d5f8e" stroke-width="1.0" stroke-dasharray="2.1 1.4"/>
<path d="M64 338.1H92" stroke="#3d5f8e" stroke-width="0.9"/>
<path d="M64 338.1l3 -1.35v2.7z" fill="#3d5f8e"/>
<path d="M92 338.1l-3 -1.35v2.7z" fill="#3d5f8e"/>
<circle cx="99.35" cy="337.9" r="2.95" fill="none" stroke="#3d5f8e" stroke-width="0.6"/>
<text x="99.35" y="339.75" font-size="5.2" fill="#3d5f8e" text-anchor="middle">2</text>
<text x="106.9" y="340.6" font-size="7.3" fill="#3d5f8e" stroke="#3d5f8e" stroke-width="0.12" font-weight="bold" textLength="38.5" lengthAdjust="spacingAndGlyphs">rebound stage</text>
<path d="M48.2 330.9Q118 329 172.6 308" stroke="#222" stroke-width="1.35" fill="none"/>
<path d="M168.15 313.14L172.6 308L165.85 307.17" stroke="#222" stroke-width="1.2" fill="none"/>
<text x="168.8" y="319.5" font-size="7.4" fill="#2a2a2a" text-anchor="start" font-weight="bold" textLength="61" lengthAdjust="spacingAndGlyphs">Impact speed increase</text>
<path d="M302.64 206V341.5M328.07 206V341.5M353.51 206V341.5M378.95 206V341.5M404.39 206V341.5M429.82 206V341.5M455.26 206V341.5M277.2 307.62H480.7M277.2 273.75H480.7M277.2 239.88H480.7" stroke="#e2e2e2" stroke-width="0.8" fill="none"/>
<path d="M277.2 339.9 277.3 339.8 277.3 339.6 277.4 339.5 277.5 339.3 277.5 339.2 277.6 339.0 277.7 338.8 277.7 338.6 277.8 338.3 277.9 338.1 277.9 337.9 278.0 337.6 278.1 336.3 278.1 334.9 278.2 333.6 278.3 332.3 278.3 330.9 278.4 329.8 278.5 330.3 278.6 331.7 278.8 333.2 278.9 332.5 279.1 331.3 279.2 330.3 279.4 330.3 279.5 330.2 279.7 330.3 279.8 330.5 280.0 330.7 280.1 330.8 280.3 331.0 280.6 330.2 280.8 328.5 281.1 327.5 281.4 326.2 281.7 325.3 281.9 325.5 282.2 323.7 282.5 326.0 282.8 327.7 283.1 324.1 283.3 321.3 283.6 320.0 283.9 323.7 284.2 322.9 284.4 320.0 284.7 322.6 285.0 324.1 285.3 324.0 285.5 321.0 285.8 321.9 286.1 322.7 286.4 321.7 286.7 320.7 286.9 319.5 287.2 317.9 287.5 320.2 287.8 318.0 288.0 313.6 288.3 314.3 288.7 316.6 289.0 318.0 289.3 316.4 289.6 304.7 290.0 313.2 290.3 316.9 290.6 315.0 290.9 313.8 291.3 315.9 291.6 315.1 291.9 313.9 292.2 313.5 292.6 313.7 292.9 313.8 293.2 313.0 293.5 308.1 293.9 310.3 294.2 310.6 294.5 310.2 294.8 312.0 295.2 310.0 295.5 311.0 295.8 312.1 296.2 311.1 296.5 310.0 296.9 312.1 297.3 310.3 297.6 309.6 298.0 308.5 298.4 307.4 298.7 309.7 299.1 310.7 299.5 309.2 299.8 308.9 300.2 309.3 300.6 309.4 300.9 309.0 301.3 308.4 301.7 308.9 302.0 307.5 302.4 304.2 302.8 304.1 303.1 303.7 303.5 301.9 303.9 302.9 304.2 300.8 304.6 300.2 305.0 302.3 305.4 304.2 305.7 304.3 306.1 301.8 306.5 300.1 306.8 302.5 307.1 301.6 307.3 301.3 307.6 301.6 307.9 300.8 308.1 300.6 308.4 301.3 308.7 301.5 308.9 300.9 309.2 299.3 309.5 298.2 309.7 297.1 310.0 295.9 310.3 297.0 310.5 297.1 310.8 295.8 311.1 294.4 311.3 295.1 311.6 298.4 311.8 297.7 312.1 295.3 312.4 291.1 312.6 293.4 312.9 294.1 313.2 292.0 313.4 292.3 313.7 291.9 314.0 290.4 314.2 291.4 314.5 291.8 314.8 291.2 315.0 289.7 315.3 288.8 315.5 288.8 315.7 289.7 315.9 291.1 316.1 291.3 316.3 290.4 316.5 290.1 316.7 290.4 316.9 290.0 317.1 288.9 317.3 288.2 317.5 288.1 317.7 287.4 317.9 285.4 318.1 283.9 318.3 283.5 318.5 283.0 318.6 282.1 318.8 281.5 319.0 281.6 319.2 281.9 319.4 282.5 319.9 283.8 320.3 281.1 320.8 284.4 321.2 281.9 321.7 281.3 322.1 282.0 322.6 281.9 323.1 281.5 323.5 282.1 324.0 282.8 324.4 283.1 324.6 282.5 324.8 282.4 324.9 282.9 325.0 283.9 325.2 284.8 325.3 285.4 325.4 285.8 325.6 286.2 325.7 286.3 325.8 286.2 326.0 286.1 326.1 286.7 326.2 287.4 326.4 288.2 326.5 288.5 326.7 288.9 326.8 289.2 326.9 289.5 327.1 289.9 327.2 290.2 327.3 291.2 327.5 292.2 327.6 293.2 327.7 293.2 327.8 293.4 327.9 293.8 327.9 294.2 327.9 294.6 327.9 295.0 327.9 295.4 328.0 295.8 328.0 296.2 328.0 296.6 328.0 297.0 328.0 297.5 328.1 298.0 328.1 298.4 328.1 298.9 328.1 299.3 328.2 299.8 328.2 300.3 328.2 300.7 328.2 301.2 328.2 301.6 328.3 302.1 328.3 302.6 328.3 303.0 328.3 303.5 328.4 303.9 328.4 304.4 328.4 304.9 328.4 305.3 328.4 305.8 328.5 306.3 328.5 306.8 328.5 307.3 328.5 307.7 328.6 308.2 328.6 308.7 328.6 309.2 328.6 309.6 328.6 310.1 328.7 310.6 328.7 311.1 328.7 311.5 328.7 312.0 328.8 312.5 328.8 312.9 328.8 313.4 328.8 313.8 328.8 314.3 328.8 314.7 328.8 315.2 328.8 315.6 328.7 316.0 328.7 316.4 328.7 316.8 328.7 317.2 328.6 317.7 328.6 318.1 328.6 318.5 328.6 318.9 328.5 319.3 328.5 319.8 328.5 320.2 328.5 320.6 328.4 321.0 328.4 321.5 328.4 321.9 328.4 322.3 328.3 322.8 328.3 323.2 328.3 323.7 328.3 324.1 328.2 324.5 328.2 325.0 328.2 325.4 328.2 325.9 328.1 326.3 328.1 326.8 328.1 327.2 328.1 327.7 328.1 328.1 328.0 328.6 328.0 329.0 328.0 329.5 328.0 329.9 327.9 330.4 327.9 330.9 327.9 331.3 327.9 331.8 327.8 332.3 327.7 332.7 327.6 333.2 327.4 333.5 327.3 333.8 327.1 334.2 327.0 334.6 326.8 335.1 326.7 335.5 326.5 336.0 326.4 336.4 326.2 336.8 326.0 337.1 325.9 337.6 325.7 338.1 325.6 338.7 325.4 339.1 325.3 339.5 325.1 339.9 325.0 340.2 324.8 340.5 324.7 341.0 324.5 341.5" stroke="#000" stroke-width="0.8" fill="none" stroke-linejoin="round" opacity="1"/>
<path d="M277.2 340.4 277.3 339.9 277.3 339.5 277.4 339.0 277.4 338.5 277.5 338.1 277.5 337.6 277.6 337.1 277.6 336.5 277.7 335.9 277.8 335.3 277.8 334.6 277.9 334.0 277.9 333.3 278.0 332.7 278.0 332.7 278.1 332.9 278.2 333.1 278.2 333.3 278.3 333.5 278.3 333.7 278.4 333.9 278.4 333.6 278.5 332.9 278.7 332.1 278.8 331.4 279.0 331.5 279.1 331.6 279.3 330.1 279.4 327.0 279.6 324.0 279.7 323.8 279.9 324.2 280.0 324.5 280.2 323.5 280.4 322.2 280.6 321.9 280.9 322.6 281.2 324.9 281.4 324.7 281.7 323.8 282.0 322.4 282.2 323.0 282.5 323.3 282.7 321.8 283.0 319.2 283.3 320.5 283.5 321.4 283.8 321.5 284.1 321.0 284.3 318.9 284.6 319.7 284.8 320.6 285.1 317.0 285.4 316.2 285.6 317.0 285.9 318.8 286.2 316.2 286.4 312.3 286.7 318.2 287.0 319.9 287.2 318.8 287.5 319.3 287.7 317.1 288.0 312.8 288.3 311.6 288.6 311.6 288.9 312.2 289.2 311.6 289.5 311.4 289.7 311.8 290.0 312.3 290.3 311.5 290.6 311.3 290.9 310.5 291.2 308.5 291.5 309.2 291.8 310.2 292.1 310.7 292.4 309.1 292.7 305.9 293.0 305.4 293.3 307.8 293.5 312.8 293.8 309.5 294.1 305.6 294.4 303.6 294.7 305.9 295.0 306.9 295.3 306.0 295.6 302.4 295.9 304.4 296.2 304.5 296.5 303.9 296.9 304.4 297.2 302.7 297.5 301.2 297.8 302.6 298.2 302.6 298.5 300.9 298.8 302.0 299.1 301.7 299.5 304.0 299.8 302.6 300.1 301.1 300.5 303.3 300.8 302.2 301.1 298.6 301.4 299.8 301.8 299.8 302.1 297.5 302.4 297.0 302.7 296.7 303.1 296.8 303.4 296.0 303.7 295.8 304.1 297.6 304.4 300.2 304.7 294.6 305.0 292.7 305.4 293.2 305.7 294.1 306.0 293.8 306.4 295.7 306.7 295.1 307.0 295.3 307.2 296.3 307.5 297.3 307.8 296.1 308.1 294.8 308.3 295.9 308.6 294.7 308.9 292.2 309.2 288.4 309.4 290.3 309.7 290.9 310.0 288.6 310.3 287.8 310.5 288.6 310.8 290.5 311.1 290.5 311.4 290.5 311.7 290.0 311.9 287.2 312.2 287.0 312.5 287.1 312.8 286.0 313.0 286.7 313.3 287.9 313.6 289.4 313.9 288.9 314.1 287.8 314.4 286.1 314.7 284.3 315.0 282.6 315.2 281.4 315.5 283.5 315.8 283.5 316.1 282.6 316.3 282.1 316.6 282.0 316.9 281.9 317.2 281.8 317.5 279.1 317.7 279.6 318.0 282.9 318.3 281.3 318.6 280.2 318.9 278.3 319.2 275.0 319.5 275.2 319.8 274.6 320.0 274.1 320.3 277.1 320.6 276.3 320.9 276.1 321.2 278.5 321.5 276.0 321.8 274.5 322.1 273.6 322.4 272.3 322.6 273.4 322.9 274.8 323.2 275.4 323.5 270.1 323.8 271.4 324.1 273.6 324.4 270.1 324.7 271.8 324.9 273.4 325.2 273.8 325.5 270.5 325.8 270.7 326.2 270.1 326.5 268.9 326.8 270.0 327.2 268.7 327.5 268.9 327.8 268.1 328.1 266.6 328.5 265.9 328.8 267.5 329.1 266.9 329.5 267.9 329.8 267.2 330.1 265.6 330.4 266.1 330.8 265.6 331.1 263.8 331.6 265.9 332.0 264.6 332.4 267.1 332.8 268.7 333.2 264.4 333.6 264.9 334.0 267.0 334.5 269.1 334.9 267.3 335.3 269.9 335.7 267.4 336.1 268.5 336.3 269.3 336.5 269.4 336.6 269.2 336.8 269.1 337.0 270.0 337.1 270.7 337.3 271.3 337.4 271.8 337.6 272.3 337.7 272.4 337.9 272.6 338.0 272.8 338.2 273.2 338.4 273.7 338.5 274.1 338.7 274.4 338.8 274.9 339.0 275.7 339.1 276.5 339.3 276.9 339.3 277.1 339.4 277.4 339.4 277.7 339.5 278.0 339.6 278.2 339.6 278.5 339.7 279.0 339.7 279.4 339.8 279.8 339.8 280.2 339.9 280.6 339.9 281.0 340.0 281.5 340.0 281.9 340.1 282.4 340.1 282.8 340.2 283.3 340.3 283.7 340.3 284.1 340.4 284.6 340.4 285.1 340.5 285.7 340.5 286.3 340.6 286.9 340.6 287.5 340.7 288.1 340.7 288.6 340.8 289.2 340.9 289.8 340.9 290.3 341.0 290.8 341.0 291.3 341.1 291.8 341.1 292.3 341.2 292.9 341.2 293.2 341.3 293.5 341.3 294.0 341.3 294.4 341.3 294.9 341.3 295.3 341.3 295.8 341.3 296.2 341.3 296.7 341.3 297.1 341.3 297.6 341.3 298.0 341.3 298.5 341.3 298.9 341.3 299.4 341.3 299.9 341.3 300.3 341.3 300.7 341.3 301.2 341.3 301.6 341.3 302.1 341.3 302.5 341.3 303.0 341.3 303.4 341.3 303.8 341.3 304.3 341.3 304.7 341.3 305.2 341.3 305.6 341.3 306.1 341.3 306.5 341.3 306.9 341.3 307.4 341.3 307.8 341.3 308.3 341.3 308.7 341.3 309.2 341.3 309.6 341.3 310.0 341.3 310.5 341.3 310.9 341.3 311.4 341.3 311.8 341.3 312.3 341.3 312.7 341.3 313.1 341.3 313.6 341.3 314.0 341.3 314.5 341.3 314.9 341.3 315.4 341.3 315.8 341.3 316.2 341.3 316.7 341.3 317.1 341.3 317.6 341.3 318.0 341.3 318.5 341.3 318.9 341.3 319.3 341.3 319.8 341.3 320.2 341.3 320.7 341.3 321.1 341.3 321.6 341.3 322.0 341.3 322.4 341.3 322.9 341.3 323.3 341.3 323.8 341.3 324.2 341.3 324.7 341.3 325.2 341.2 325.6 341.2 326.1 341.2 326.5 341.1 326.9 341.1 327.4 341.1 327.8 341.0 328.2 341.0 328.6 341.0 329.1 340.9 329.5 340.9 329.9 340.9 330.4 340.8 330.8 340.8 331.2 340.8 331.7 340.7 332.1 340.7 332.5 340.7 332.9 340.7 333.4 340.6 333.8 340.6 334.2 340.6 334.7 340.5 335.1 340.5 335.6 340.5 336.0 340.4 336.4 340.4 336.9 340.4 337.3 340.3 337.8 340.3 338.2 340.2 338.6 339.9 338.9 339.5 339.3 339.2 339.8 338.9 340.0 338.5 340.3 338.2 340.6 337.9 340.9 337.6 341.4 337.2 341.5" stroke="#000" stroke-width="0.8" fill="none" stroke-linejoin="round" opacity="1"/>
<path d="M277.2 337.5 277.3 337.1 277.3 336.7 277.4 336.3 277.4 335.9 277.5 335.5 277.5 335.1 277.6 334.7 277.6 334.4 277.7 334.3 277.7 334.2 277.8 334.1 277.8 333.9 277.9 333.8 277.9 333.7 278.0 333.6 278.0 333.2 278.1 332.5 278.1 331.9 278.2 331.3 278.2 330.7 278.3 330.0 278.3 329.4 278.4 328.8 278.4 328.7 278.5 329.0 278.7 329.7 278.8 329.9 279.0 328.6 279.1 327.3 279.3 327.1 279.4 327.5 279.6 327.9 279.7 325.2 279.9 322.2 280.0 320.4 280.2 322.4 280.4 325.4 280.6 322.9 280.9 321.1 281.1 321.1 281.4 318.9 281.6 316.9 281.9 318.9 282.1 320.1 282.4 320.9 282.6 317.2 282.9 316.4 283.1 320.6 283.4 319.4 283.6 316.7 283.9 315.1 284.1 314.8 284.4 315.6 284.6 312.8 284.9 316.3 285.1 315.5 285.4 316.9 285.6 318.0 285.9 315.4 286.1 313.2 286.4 311.3 286.6 311.7 286.9 312.5 287.1 313.7 287.4 313.5 287.6 312.4 287.9 310.0 288.1 309.9 288.4 311.3 288.7 299.8 288.9 307.5 289.2 304.1 289.5 305.1 289.7 305.1 290.0 304.1 290.3 305.4 290.5 305.9 290.8 305.6 291.0 303.5 291.3 303.0 291.6 305.0 291.8 303.2 292.1 302.8 292.4 305.8 292.6 308.1 292.9 308.8 293.1 306.8 293.4 301.0 293.7 297.5 293.9 301.8 294.2 302.4 294.5 301.7 294.7 300.2 295.0 298.8 295.3 298.5 295.5 302.6 295.8 301.9 296.0 299.5 296.4 299.5 296.7 299.3 297.0 297.0 297.3 294.8 297.6 295.5 297.9 295.3 298.2 294.9 298.6 297.2 298.9 300.1 299.2 297.6 299.5 298.3 299.8 296.4 300.1 293.8 300.5 292.6 300.8 295.6 301.1 294.1 301.4 294.0 301.7 293.7 302.0 290.9 302.3 291.6 302.7 294.4 303.0 292.9 303.3 289.6 303.6 292.9 303.9 294.5 304.2 289.4 304.5 288.5 304.9 294.0 305.2 289.7 305.5 290.0 305.8 290.4 306.1 289.7 306.4 287.5 306.7 287.8 307.0 287.3 307.2 286.3 307.5 284.0 307.7 284.1 308.0 287.0 308.2 284.4 308.5 281.7 308.7 282.0 308.9 283.3 309.2 285.2 309.4 283.8 309.7 282.3 309.9 280.9 310.2 283.1 310.4 286.3 310.7 283.3 310.9 281.8 311.2 281.9 311.4 280.6 311.7 279.5 311.9 280.3 312.1 279.5 312.4 277.5 312.6 277.3 312.9 276.5 313.1 274.6 313.4 275.6 313.6 277.8 313.9 276.3 314.1 274.4 314.4 272.0 314.6 273.2 314.8 274.9 315.1 275.6 315.3 276.5 315.6 277.4 315.8 274.7 316.1 272.5 316.3 272.1 316.6 272.0 316.8 272.2 317.1 275.6 317.3 275.2 317.6 270.0 317.8 271.6 318.1 273.1 318.3 272.8 318.6 271.8 318.9 270.9 319.1 270.4 319.4 269.6 319.6 268.9 319.9 269.7 320.2 268.7 320.4 267.1 320.7 269.6 320.9 269.0 321.2 265.7 321.5 265.6 321.7 263.1 322.0 263.4 322.2 264.2 322.5 264.7 322.8 264.5 323.0 264.0 323.3 263.1 323.5 261.8 323.8 261.8 324.1 261.7 324.3 259.8 324.6 261.4 324.8 263.9 325.1 261.1 325.4 260.7 325.6 261.9 325.9 260.5 326.1 259.6 326.4 259.2 326.6 259.3 326.9 258.8 327.2 257.3 327.4 257.5 327.7 257.5 327.9 256.5 328.1 255.9 328.3 255.5 328.5 255.0 328.7 254.5 328.9 252.7 329.1 250.1 329.3 251.0 329.5 253.7 329.7 253.9 329.9 253.0 330.1 253.9 330.3 255.6 330.5 254.3 330.7 251.7 331.0 251.2 331.2 251.3 331.4 251.1 331.6 250.8 331.8 249.5 332.0 248.0 332.2 248.3 332.4 249.0 332.6 248.5 332.8 247.7 333.0 245.7 333.5 245.9 333.9 246.5 334.3 245.8 334.7 245.0 335.1 248.7 335.5 249.4 336.0 246.9 336.4 250.9 336.8 248.5 337.2 248.0 337.6 247.6 338.0 250.4 338.4 250.1 338.8 249.3 339.1 247.8 339.5 248.6 339.9 249.6 340.3 250.4 340.7 250.9 341.1 250.7 341.4 251.4 341.5 252.4 341.7 252.9 341.8 253.0 342.0 253.1 342.2 253.2 342.3 253.3 342.5 253.7 342.6 254.5 342.8 255.3 342.9 255.8 343.1 256.2 343.2 256.6 343.4 256.6 343.5 256.6 343.6 256.9 343.6 257.3 343.6 257.8 343.6 258.2 343.6 258.6 343.6 259.1 343.7 259.5 343.7 259.9 343.7 260.3 343.7 260.8 343.7 261.2 343.7 261.6 343.7 262.0 343.7 262.5 343.7 262.9 343.7 263.3 343.7 263.7 343.8 264.2 343.8 264.6 343.8 265.0 343.8 265.5 343.8 265.9 343.8 266.3 343.8 266.7 343.8 267.2 343.8 267.6 343.8 268.0 343.8 268.4 343.9 268.9 343.9 269.3 343.9 269.7 343.9 270.1 343.9 270.6 343.9 271.0 343.9 271.4 343.9 271.8 343.9 272.3 343.9 272.7 343.9 273.1 344.0 273.6 344.0 274.0 344.0 274.4 344.0 274.8 344.0 275.3 344.0 275.7 344.0 276.2 344.0 276.7 344.0 277.1 344.0 277.6 344.0 278.1 344.1 278.6 344.1 279.1 344.1 279.6 344.1 280.0 344.1 280.5 344.1 281.0 344.1 281.5 344.1 281.9 344.1 282.4 344.1 282.9 344.1 283.3 344.1 283.8 344.1 284.2 344.1 284.7 344.1 285.2 344.1 285.6 344.1 286.1 344.1 286.6 344.2 287.0 344.2 287.5 344.2 288.0 344.2 288.4 344.2 288.9 344.2 289.4 344.2 289.8 344.2 290.3 344.2 290.7 344.2 291.2 344.2 291.7 344.2 292.1 344.2 292.6 344.2 293.1 344.2 293.5 344.2 294.0 344.2 294.5 344.2 294.9 344.2 295.4 344.2 295.9 344.2 296.3 344.2 296.8 344.2 297.3 344.2 297.7 344.2 298.2 344.2 298.7 344.3 299.1 344.3 299.6 344.3 300.1 344.3 300.5 344.3 301.0 344.3 301.5 344.3 302.0 344.3 302.4 344.3 302.9 344.3 303.4 344.3 303.8 344.3 304.3 344.3 304.8 344.3 305.3 344.3 305.7 344.3 306.2 344.3 306.7 344.3 307.1 344.3 307.6 344.3 308.1 344.3 308.5 344.3 309.0 344.3 309.5 344.3 309.9 344.3 310.4 344.3 310.9 344.4 311.3 344.4 311.8 344.4 312.3 344.4 312.7 344.4 313.2 344.4 313.7 344.4 314.1 344.4 314.6 344.4 315.1 344.4 315.5 344.4 316.0 344.4 316.4 344.4 316.9 344.4 317.4 344.4 317.8 344.4 318.3 344.4 318.8 344.4 319.2 344.4 319.7 344.4 320.1 344.4 320.6 344.4 321.1 344.4 321.5 344.4 322.0 344.4 322.4 344.5 322.9 344.5 323.4 344.5 323.8 344.5 324.3 344.5 324.7 344.5 325.2 344.5 325.6 344.5 326.1 344.5 326.6 344.5 327.0 344.5 327.5 344.5 327.9 344.5 328.4 344.5 328.8 344.5 329.3 344.5 329.8 344.5 330.2 344.5 330.7 344.5 331.1 344.5 331.6 344.5 332.0 344.5 332.5 344.5 332.9 344.5 333.4 344.5 333.8 344.5 334.3 344.6 334.8 344.6 335.2 344.6 335.7 344.6 336.1 344.6 336.6 344.6 337.0 344.6 337.5 344.6 337.9 344.6 338.4 344.6 338.8 344.6 339.3 344.6 339.8 344.6 340.2 344.6 340.7 344.6 341.1 344.6 341.5" stroke="#000" stroke-width="0.8" fill="none" stroke-linejoin="round" opacity="1"/>
<path d="M277.2 334.4 277.2 333.6 277.3 332.9 277.3 332.1 277.4 331.4 277.4 330.6 277.5 329.9 277.5 329.2 277.6 328.4 277.6 328.2 277.7 328.3 277.7 328.4 277.8 328.5 277.8 328.6 277.9 328.7 277.9 328.8 278.0 328.9 278.0 328.9 278.1 328.7 278.1 328.4 278.2 328.2 278.2 328.0 278.3 327.7 278.3 327.5 278.4 327.3 278.4 327.0 278.5 326.3 278.6 325.2 278.7 323.9 278.9 323.2 279.0 323.3 279.2 323.5 279.3 323.0 279.5 322.2 279.6 321.4 279.8 321.7 279.9 321.9 280.1 321.8 280.2 321.0 280.4 320.0 280.6 319.4 280.9 317.9 281.1 314.7 281.4 314.5 281.6 315.9 281.8 318.1 282.1 319.1 282.3 317.2 282.5 316.8 282.8 317.2 283.0 316.4 283.3 315.3 283.5 314.1 283.7 312.9 284.0 311.7 284.2 312.3 284.5 312.8 284.7 312.5 284.9 312.0 285.2 311.1 285.4 312.2 285.6 312.9 285.9 309.8 286.1 309.4 286.4 311.7 286.6 310.3 286.8 308.1 287.1 306.4 287.3 306.4 287.5 308.5 287.8 306.3 288.0 303.5 288.3 304.8 288.5 305.3 288.8 304.8 289.0 303.6 289.3 303.1 289.5 304.9 289.8 304.7 290.0 303.5 290.3 302.5 290.5 302.2 290.8 303.0 291.0 300.6 291.3 297.8 291.5 294.7 291.8 296.5 292.0 300.6 292.3 303.0 292.5 303.3 292.8 301.2 293.0 300.3 293.3 299.3 293.5 297.3 293.8 296.7 294.0 296.7 294.3 295.5 294.5 295.1 294.8 295.7 295.0 292.3 295.3 295.6 295.5 295.2 295.8 294.3 296.0 293.4 296.3 295.1 296.7 292.4 297.0 291.1 297.3 292.5 297.6 294.7 298.0 291.7 298.3 291.0 298.6 289.2 299.0 288.5 299.3 290.6 299.6 295.1 299.9 289.0 300.3 287.4 300.6 288.6 300.9 289.1 301.2 287.0 301.6 290.3 301.9 291.9 302.2 288.8 302.6 287.0 302.9 288.6 303.2 288.8 303.5 289.0 303.9 291.0 304.2 289.7 304.5 287.0 304.8 287.4 305.2 290.5 305.5 288.6 305.8 287.6 306.1 286.8 306.5 287.0 306.8 291.0 307.0 287.0 307.2 281.9 307.4 283.6 307.6 285.3 307.8 284.9 308.0 283.7 308.3 279.5 308.5 277.5 308.7 279.6 308.9 280.2 309.1 279.1 309.3 278.8 309.5 279.1 309.8 280.0 310.0 281.1 310.2 279.7 310.4 277.7 310.6 279.0 310.8 280.3 311.0 280.3 311.2 279.8 311.5 277.9 311.7 276.7 311.9 277.0 312.1 275.3 312.3 270.9 312.5 270.7 312.7 273.6 312.9 274.6 313.2 274.7 313.4 274.4 313.6 273.9 313.8 272.1 314.0 270.3 314.2 270.5 314.4 270.8 314.7 271.3 314.9 271.1 315.1 269.1 315.3 268.0 315.5 268.0 315.7 267.3 315.9 266.2 316.1 266.9 316.4 268.6 316.6 267.7 316.8 266.0 317.0 265.1 317.2 264.4 317.5 265.2 317.7 264.8 318.0 263.4 318.3 265.1 318.5 265.0 318.8 262.6 319.0 263.7 319.3 264.5 319.6 264.3 319.8 266.5 320.1 266.7 320.3 260.5 320.6 257.7 320.8 257.3 321.1 261.5 321.4 260.6 321.6 257.2 321.9 257.9 322.1 259.0 322.4 260.6 322.7 257.4 322.9 256.1 323.2 257.0 323.4 255.5 323.7 255.2 324.0 257.0 324.2 256.4 324.5 255.6 324.7 255.5 325.0 254.8 325.3 254.0 325.5 253.6 325.8 253.5 326.0 253.2 326.3 250.3 326.5 250.5 326.8 253.0 327.1 254.7 327.3 255.6 327.6 255.7 327.8 251.5 328.1 250.0 328.4 252.8 328.7 252.0 329.0 250.8 329.2 249.5 329.5 250.3 329.8 250.4 330.1 249.9 330.3 248.9 330.6 249.2 330.9 249.1 331.2 247.6 331.5 248.9 331.7 248.3 332.0 245.6 332.3 245.7 332.6 245.3 332.8 245.3 333.1 249.0 333.4 245.1 333.7 241.4 334.0 246.5 334.2 249.8 334.5 245.1 334.9 244.7 335.2 247.6 335.6 246.0 336.0 244.5 336.3 244.7 336.7 242.2 337.0 245.4 337.4 244.8 337.8 244.3 338.1 243.2 338.5 246.4 338.8 242.3 339.2 242.4 339.5 243.7 339.9 242.0 340.3 241.8 340.6 245.1 341.0 245.3 341.3 243.3 341.5 247.2 341.8 249.8 342.1 250.1 342.4 246.8 342.7 247.9 342.9 249.5 343.2 250.9 343.5 248.7 343.8 248.5 344.0 250.2 344.3 254.3 344.6 253.2 344.9 250.7 345.2 249.6 345.4 251.6 345.7 252.7 346.0 251.6 346.3 253.7 346.5 254.5 346.8 252.2 347.1 252.7 347.4 253.2 347.7 254.4 348.1 254.9 348.5 254.2 349.0 254.9 349.4 255.2 349.9 255.1 350.3 255.2 350.8 255.4 351.2 256.2 351.7 257.3 352.1 255.8 352.6 255.3 353.0 255.4 353.4 255.5 353.8 255.0 354.0 255.3 354.2 257.2 354.4 259.1 354.5 259.5 354.7 259.3 354.9 259.3 355.1 259.2 355.3 259.3 355.4 259.7 355.6 260.0 355.8 259.5 356.0 259.0 356.0 259.6 356.0 259.9 356.0 260.3 356.0 260.8 356.0 261.4 355.9 261.9 355.9 262.5 355.9 263.0 355.9 263.6 355.8 264.2 355.8 264.7 355.8 265.3 355.8 265.8 355.8 266.4 355.7 267.0 355.7 267.5 355.7 268.1 355.7 268.6 355.6 269.2 355.6 269.8 355.6 270.3 355.6 270.8 355.6 271.2 355.5 271.7 355.5 272.2 355.5 272.6 355.5 273.1 355.4 273.5 355.4 274.0 355.4 274.4 355.4 274.9 355.4 275.3 355.3 275.8 355.3 276.3 355.3 276.7 355.3 277.2 355.3 277.6 355.2 278.1 355.2 278.5 355.2 279.0 355.2 279.5 355.1 280.0 355.1 280.6 355.1 281.1 355.1 281.6 355.1 282.1 355.0 282.6 355.0 283.0 355.0 283.5 355.0 283.9 355.0 284.4 355.0 284.8 355.0 285.3 355.0 285.7 355.0 286.2 355.0 286.6 355.0 287.1 355.0 287.5 355.0 288.0 355.0 288.4 355.0 288.9 355.0 289.3 355.0 289.8 355.0 290.2 355.0 290.7 355.0 291.1 355.0 291.6 355.0 292.0 355.0 292.5 355.0 292.9 355.0 293.4 355.0 293.8 355.0 294.3 355.0 294.7 355.0 295.2 355.0 295.6 355.0 296.1 355.0 296.5 355.0 297.0 355.0 297.4 355.0 297.9 355.0 298.4 355.0 298.8 355.0 299.3 355.0 299.7 355.0 300.2 355.0 300.6 355.0 301.1 355.0 301.5 355.0 302.0 355.0 302.4 355.0 302.8 355.0 303.3 355.0 303.7 355.0 304.2 355.0 304.6 355.0 305.1 355.0 305.5 355.0 306.0 355.0 306.4 355.0 306.9 355.0 307.3 355.0 307.8 355.0 308.2 355.0 308.7 355.0 309.1 355.0 309.6 355.0 310.0 355.0 310.5 355.0 310.9 355.0 311.4 355.0 311.8 355.0 312.3 355.0 312.7 355.0 313.2 355.0 313.6 355.0 314.1 355.0 314.5 355.0 315.0 355.0 315.4 355.0 315.9 355.0 316.3 355.0 316.8 355.0 317.2 355.0 317.7 355.0 318.1 355.0 318.6 355.0 319.0 355.0 319.5 355.0 319.9 355.0 320.4 355.0 320.8 355.0 321.3 355.0 321.7 355.0 322.2 355.0 322.6 355.0 323.1 355.0 323.5 355.0 324.0 355.0 324.4 355.0 324.9 355.0 325.3 355.0 325.8 355.0 326.2 355.0 326.7 355.0 327.1 355.0 327.6 355.0 328.0 355.0 328.5 355.0 328.9 355.0 329.4 355.0 329.8 355.0 330.3 355.0 330.7 355.0 331.2 355.0 331.6 355.0 332.1 355.0 332.5 355.0 333.0 355.0 333.4 355.0 333.9 355.0 334.3 355.0 334.8 355.0 335.2 355.0 335.7 355.0 336.1 355.0 336.6 355.0 337.0 355.0 337.5 355.0 337.9 355.0 338.4 355.0 338.8 355.0 339.3 355.0 339.7 355.0 340.2 355.0 340.6 355.0 341.1 355.0 341.5" stroke="#000" stroke-width="0.8" fill="none" stroke-linejoin="round" opacity="1"/>
<path d="M277.2 333.3 277.2 333.2 277.3 333.0 277.3 332.8 277.4 332.7 277.4 332.5 277.5 332.4 277.5 332.2 277.6 332.0 277.6 331.8 277.6 331.2 277.7 330.6 277.7 329.9 277.8 329.3 277.8 328.6 277.9 328.0 277.9 327.4 278.0 326.7 278.0 326.1 278.1 325.6 278.1 325.2 278.1 324.7 278.2 324.2 278.2 323.7 278.3 323.2 278.3 322.8 278.4 322.3 278.4 322.0 278.5 322.0 278.6 322.9 278.7 324.1 278.9 323.9 279.0 322.3 279.2 320.6 279.3 318.7 279.5 316.6 279.6 315.0 279.8 315.7 279.9 316.3 280.1 317.5 280.2 319.3 280.4 320.9 280.7 316.6 280.9 314.2 281.2 313.7 281.4 315.0 281.6 316.7 281.9 317.8 282.1 316.3 282.3 311.4 282.6 312.7 282.8 305.4 283.1 312.9 283.3 312.2 283.5 314.4 283.8 313.2 284.0 310.7 284.2 308.4 284.5 307.6 284.7 309.3 285.0 310.2 285.2 310.8 285.4 309.2 285.7 307.5 285.9 305.7 286.2 305.6 286.4 306.6 286.6 309.6 286.9 311.1 287.1 308.5 287.3 307.0 287.6 306.3 287.8 303.1 288.1 301.5 288.3 305.2 288.6 304.3 288.8 300.5 289.1 300.1 289.3 300.6 289.6 302.5 289.8 308.5 290.1 302.7 290.3 300.3 290.6 299.4 290.8 299.3 291.1 297.5 291.3 297.9 291.6 301.7 291.8 304.3 292.1 305.1 292.3 300.1 292.6 297.8 292.8 295.0 293.1 299.1 293.3 299.8 293.6 299.1 293.8 297.6 294.1 295.3 294.3 291.0 294.6 291.6 294.8 295.1 295.1 292.9 295.3 291.8 295.6 292.3 295.8 291.5 296.1 290.9 296.4 292.8 296.7 294.2 297.0 291.8 297.4 289.9 297.7 290.2 298.0 291.4 298.4 292.7 298.7 286.8 299.0 284.9 299.3 286.7 299.7 288.8 300.0 288.4 300.3 279.9 300.6 285.7 301.0 285.6 301.3 284.1 301.6 289.0 301.9 291.8 302.3 289.0 302.6 287.7 302.9 286.1 303.3 282.5 303.6 287.9 303.9 283.2 304.2 286.7 304.6 287.8 304.9 285.3 305.2 282.9 305.5 281.7 305.9 282.2 306.2 282.1 306.5 281.0 306.8 279.1 307.0 277.2 307.2 275.4 307.4 275.2 307.6 275.3 307.8 277.9 308.0 280.3 308.2 281.9 308.4 281.9 308.7 276.5 308.9 273.1 309.1 274.3 309.3 274.7 309.5 273.4 309.7 273.5 309.9 275.5 310.1 276.1 310.3 275.2 310.5 273.7 310.7 271.7 310.9 271.4 311.1 272.1 311.3 270.8 311.5 268.5 311.7 268.7 312.0 269.8 312.2 271.0 312.4 272.1 312.6 271.2 312.8 269.9 313.0 270.0 313.2 270.2 313.4 269.9 313.6 269.6 313.8 268.6 314.0 267.7 314.2 266.8 314.4 266.2 314.6 266.9 314.8 267.1 315.0 265.0 315.2 263.6 315.5 264.5 315.7 265.2 315.9 265.5 316.1 265.3 316.3 264.1 316.5 262.4 316.7 259.8 316.9 259.6 317.1 261.9 317.4 261.7 317.7 260.0 317.9 259.8 318.2 260.7 318.5 261.7 318.8 259.1 319.0 258.5 319.3 257.0 319.6 258.5 319.9 256.7 320.2 257.0 320.4 258.3 320.7 257.8 321.0 257.7 321.3 257.8 321.6 258.4 321.8 256.6 322.1 255.2 322.4 254.8 322.7 252.8 323.0 253.6 323.2 255.7 323.5 255.0 323.8 253.2 324.1 251.9 324.4 253.2 324.6 251.8 324.9 251.8 325.2 254.3 325.5 249.5 325.8 248.5 326.0 250.5 326.3 252.3 326.6 251.8 326.9 250.0 327.2 247.3 327.4 246.9 327.7 247.1 328.0 247.1 328.4 244.4 328.7 243.6 329.0 244.8 329.3 244.6 329.7 243.4 330.0 248.0 330.3 249.1 330.7 245.2 331.0 247.7 331.3 248.4 331.7 242.5 332.0 241.4 332.3 242.4 332.7 241.7 333.0 241.2 333.3 242.8 333.7 245.9 334.0 244.5 334.3 243.3 334.7 244.8 335.0 242.2 335.3 239.5 335.7 242.7 336.0 245.4 336.3 246.4 336.7 248.0 337.0 248.6 337.3 247.6 337.6 245.9 338.0 246.2 338.3 248.7 338.6 249.8 339.0 249.4 339.3 248.2 339.6 241.3 340.0 247.4 340.3 245.6 340.6 247.5 341.0 249.1 341.1 249.0 341.2 249.2 341.3 248.9 341.4 248.5 341.4 248.0 341.5 247.5 341.6 246.8 341.7 248.1 341.8 249.5 341.8 250.8 341.9 252.1 342.0 253.3 342.1 252.5 342.2 251.8 342.3 251.0 342.3 250.3 342.4 249.9 342.5 251.4 342.6 252.9 342.7 254.4 342.7 255.9 342.8 256.9 342.9 256.5 343.0 256.1 343.1 255.7 343.1 255.3 343.2 254.9 343.3 254.6 343.4 254.3 343.5 254.0 343.6 253.6 343.6 254.2 343.7 255.9 343.8 257.5 343.9 259.2 344.0 260.9 344.0 262.2 344.1 263.2 344.2 264.2 344.3 265.2 344.4 266.2 344.5 266.9 344.5 267.4 344.6 267.9 344.7 268.4 344.8 268.9 344.9 270.9 344.9 273.5 345.0 276.1 345.1 278.7 345.2 281.2 345.3 280.9 345.3 279.9 345.6 276.0 345.9 278.8 346.2 266.6 346.6 260.2 346.9 265.4 347.2 275.8 347.5 278.1 347.9 277.2 348.2 276.6 348.5 277.2 348.8 278.1 349.1 271.9 349.5 274.4 349.8 274.5 350.1 272.5 350.4 273.2 350.7 272.5 351.1 274.5 351.4 277.7 351.7 280.5 352.2 281.7 352.6 277.6 353.1 281.9 353.5 281.6 354.0 280.9 354.4 273.5 354.9 275.8 355.3 283.5 355.8 279.2 356.2 275.8 356.7 281.2 357.1 278.7 357.6 274.4 358.0 286.5 358.5 285.5 358.9 288.1 359.4 279.4 359.8 273.9 360.3 275.2 360.7 279.6 361.1 278.2 361.5 274.4 361.9 274.9 362.4 275.7 362.8 283.1 363.2 283.6 363.6 278.6 364.0 275.7 364.4 274.4 364.9 283.7 365.3 280.4 365.7 272.7 366.1 277.6 366.5 283.5 367.0 282.1 367.4 282.5 367.8 282.3 368.2 284.7 368.6 284.4 369.0 276.2 369.5 275.6 369.9 278.5 370.3 280.0 370.8 283.0 371.2 283.3 371.7 272.3 372.1 280.3 372.6 284.5 373.0 278.6 373.5 281.7 373.9 285.7 374.4 276.9 374.8 283.5 375.3 285.1 375.7 287.1 376.2 282.9 376.6 285.3 377.1 280.2 377.5 275.8 377.9 281.3 378.4 277.9 378.8 287.7 379.3 286.9 379.7 279.8 380.2 280.3 380.6 285.4 381.1 287.7 381.5 286.9 382.0 281.0 382.4 290.0 382.9 283.3 383.3 285.7 383.8 280.5 384.2 284.0 384.7 283.8 385.1 285.2 385.6 290.7 386.0 287.4 386.5 280.9 386.9 279.2 387.4 276.6 387.6 286.5 387.6 287.0 387.6 287.5 387.6 287.9 387.6 288.4 387.6 288.8 387.6 289.3 387.6 289.7 387.6 290.2 387.6 290.6 387.6 291.1 387.6 291.5 387.6 292.0 387.6 292.4 387.6 292.9 387.6 293.3 387.6 293.8 387.6 294.2 387.6 294.7 387.6 295.1 387.6 295.6 387.6 296.0 387.6 296.5 387.6 296.9 387.6 297.4 387.6 297.8 387.6 298.3 387.6 298.7 387.6 299.2 387.6 299.6 387.6 300.1 387.6 300.5 387.6 301.0 387.6 301.4 387.6 301.9 387.6 302.3 387.6 302.7 387.6 303.2 387.6 303.6 387.6 304.0 387.6 304.4 387.6 304.9 387.6 305.3 387.6 305.7 387.6 306.1 387.6 306.6 387.6 307.0 387.6 307.4 387.6 307.8 387.6 308.3 387.6 308.7 387.6 309.1 387.6 309.5 387.6 310.0 387.6 310.4 387.6 310.8 387.6 311.2 387.6 311.7 387.6 312.1 387.6 312.5 387.6 312.9 387.6 313.4 387.6 313.8 387.6 314.2 387.6 314.6 387.6 315.1 387.6 315.5 387.6 315.9 387.6 316.4 387.6 316.8 387.6 317.2 387.6 317.6 387.6 318.1 387.6 318.5 387.6 318.9 387.6 319.3 387.6 319.8 387.6 320.2 387.6 320.6 387.5 317.6 387.2 313.3 387.0 316.2 386.8 320.8 386.6 320.8 386.4 320.1 386.2 322.2 386.0 324.5 385.8 325.5 385.6 326.4 385.4 325.6 385.2 324.9 385.0 324.7 384.8 324.8 384.6 326.0 384.4 326.7 384.1 325.7 383.9 325.3 383.7 326.0 383.5 327.0 383.3 328.6 383.1 329.2 382.9 328.6 382.7 329.2 382.5 331.0 382.3 331.1 382.1 330.1 381.9 330.5 381.7 331.6 381.4 332.3 381.2 332.6 380.9 333.4 380.7 333.3 380.4 332.1 380.2 332.7 379.9 333.3 379.7 333.2 379.4 334.4 379.2 336.1 378.9 336.2 378.7 335.8 378.4 334.9 378.2 335.7 377.9 336.2 377.7 335.9 377.4 335.8 377.2 336.4 376.9 338.9 376.6 339.2 376.4 338.3 376.1 339.3 375.9 340.2 375.6 341.0 375.4 341.1 375.1 341.1 374.9 341.3 374.6 341.0" stroke="#000" stroke-width="0.95" fill="none" stroke-linejoin="round" opacity="1"/>
<path d="M277.2 336.5 277.2 335.8 277.3 335.2 277.3 334.5 277.4 333.9 277.4 333.3 277.5 332.6 277.5 332.0 277.6 331.4 277.6 330.6 277.6 329.2 277.7 327.7 277.7 326.2 277.8 324.7 277.8 323.2 277.9 321.8 277.9 320.3 278.0 318.8 278.0 317.7 278.1 317.9 278.1 318.2 278.1 318.4 278.2 318.7 278.2 318.9 278.3 319.2 278.3 319.5 278.4 319.7 278.4 319.7 278.5 319.1 278.6 318.3 278.7 317.3 278.9 316.9 279.0 316.9 279.2 317.0 279.3 317.4 279.5 317.9 279.6 318.6 279.8 320.5 279.9 322.5 280.1 322.0 280.2 318.6 280.4 314.2 280.7 312.1 280.9 311.0 281.1 311.1 281.4 311.0 281.6 311.0 281.9 313.7 282.1 313.9 282.3 310.6 282.6 309.2 282.8 308.8 283.0 311.9 283.3 313.8 283.5 313.9 283.8 314.6 284.0 315.5 284.2 312.2 284.5 309.6 284.7 308.5 285.0 307.5 285.2 306.4 285.4 308.9 285.7 309.5 285.9 305.1 286.1 302.8 286.4 301.9 286.6 304.4 286.9 306.4 287.1 305.8 287.3 304.7 287.6 303.2 287.8 303.2 288.0 303.5 288.3 304.1 288.5 304.2 288.8 303.8 289.0 302.0 289.3 300.3 289.5 298.7 289.8 298.2 290.0 298.3 290.3 299.7 290.5 300.0 290.8 299.5 291.0 297.1 291.3 295.7 291.5 296.4 291.8 296.3 292.0 296.2 292.3 296.3 292.5 296.8 292.8 297.5 293.0 294.8 293.3 293.0 293.5 292.9 293.8 294.1 294.0 295.4 294.3 295.2 294.5 294.5 294.8 293.6 295.0 294.8 295.3 295.8 295.5 295.8 295.8 295.1 296.0 293.5 296.4 286.2 296.7 288.7 297.0 289.8 297.3 289.7 297.7 289.7 298.0 290.2 298.3 289.7 298.7 290.7 299.0 289.6 299.3 287.4 299.6 287.7 300.0 286.7 300.3 284.2 300.6 285.6 300.9 287.7 301.3 287.9 301.6 287.9 301.9 286.3 302.2 287.4 302.6 286.3 302.9 284.5 303.2 286.7 303.6 282.7 303.9 282.9 304.2 283.2 304.5 281.7 304.9 278.8 305.2 278.3 305.5 278.3 305.8 282.7 306.2 283.9 306.5 281.2 306.8 279.4 307.0 280.0 307.2 280.9 307.4 280.8 307.6 280.7 307.8 278.0 308.0 275.4 308.2 275.0 308.4 274.8 308.6 275.2 308.8 275.8 309.0 277.1 309.3 277.7 309.5 276.1 309.7 275.0 309.9 274.9 310.1 274.0 310.3 271.7 310.5 270.3 310.7 270.2 310.9 270.9 311.1 272.4 311.3 272.4 311.5 271.1 311.7 271.3 311.9 272.6 312.1 272.9 312.3 272.8 312.5 271.2 312.8 269.0 313.0 268.2 313.2 267.9 313.4 266.0 313.6 263.7 313.8 263.8 314.0 264.2 314.2 266.1 314.4 268.2 314.6 263.8 314.8 259.8 315.0 262.3 315.2 264.4 315.4 263.7 315.6 263.0 315.8 262.3 316.0 261.3 316.3 259.6 316.5 259.7 316.7 264.4 316.9 266.1 317.1 261.9 317.3 259.3 317.6 258.8 317.9 254.6 318.2 255.1 318.5 257.7 318.7 257.1 319.0 258.3 319.3 259.2 319.6 258.3 319.8 257.9 320.1 259.3 320.4 262.7 320.7 259.5 321.0 256.7 321.2 254.9 321.5 256.1 321.8 254.4 322.1 253.8 322.4 258.4 322.6 257.1 322.9 254.2 323.2 250.5 323.5 252.7 323.8 252.4 324.0 250.3 324.3 248.9 324.6 246.1 324.9 244.6 325.2 248.4 325.4 247.6 325.7 246.8 326.0 247.7 326.3 249.9 326.6 249.6 326.8 247.8 327.1 251.9 327.4 249.7 327.7 246.0 328.0 247.2 328.3 247.4 328.6 245.8 328.9 244.2 329.2 244.9 329.5 245.7 329.9 244.9 330.2 242.8 330.5 241.1 330.8 243.0 331.1 241.2 331.4 243.5 331.7 246.5 332.1 247.0 332.4 242.0 332.7 243.6 333.0 244.9 333.3 243.6 333.6 239.6 333.9 241.2 334.3 240.7 334.6 240.4 334.9 241.0 335.2 240.7 335.5 241.2 335.8 243.4 336.2 242.2 336.5 238.7 336.8 241.3 337.1 241.7 337.4 243.1 337.7 245.4 338.0 247.6 338.4 244.5 338.7 245.7 339.0 247.0 339.3 248.2 339.6 249.0 339.9 243.6 340.3 245.8 340.6 248.5 340.9 248.5 341.1 246.9 341.2 246.4 341.3 246.7 341.4 247.0 341.5 247.4 341.6 247.8 341.7 249.0 341.8 250.5 341.9 252.1 342.0 253.6 342.1 253.1 342.2 251.5 342.3 249.9 342.4 248.2 342.4 249.1 342.5 252.6 342.6 256.0 342.7 259.5 342.8 261.3 342.9 260.0 343.0 258.7 343.1 257.4 343.2 256.7 343.3 258.2 343.4 259.7 343.5 261.2 343.6 262.5 343.7 261.6 343.8 260.7 343.9 259.8 344.0 258.9 344.1 257.0 344.2 255.1 344.3 253.1 344.4 251.2 344.5 255.5 344.6 261.3 344.7 267.1 344.8 273.0 344.9 272.7 345.0 269.4 345.1 266.2 345.2 262.9 345.3 261.6 345.3 262.1 345.4 262.5 345.5 262.9 345.6 264.9 345.7 269.2 345.8 273.5 346.0 280.2 346.2 278.5 346.4 276.2 346.7 272.9 346.9 272.5 347.1 276.0 347.3 275.6 347.6 272.8 347.8 271.2 348.0 270.0 348.2 270.7 348.5 271.9 348.7 274.1 348.9 277.1 349.1 280.7 349.4 274.9 349.6 265.9 349.8 273.5 350.0 280.7 350.3 282.9 350.5 282.9 350.7 279.6 350.9 278.0 351.2 277.5 351.4 281.5 351.6 286.0 352.0 289.0 352.4 274.6 352.8 270.6 353.3 269.5 353.7 277.4 354.2 272.8 354.6 273.7 355.0 276.5 355.5 272.6 355.9 278.6 356.4 276.7 356.8 287.6 357.3 283.3 357.7 281.0 358.1 278.4 358.6 283.0 359.0 293.1 359.5 279.6 359.9 281.7 360.4 283.0 360.8 280.4 361.2 279.1 361.7 279.3 362.1 284.7 362.6 284.2 363.0 278.3 363.5 278.5 363.9 275.0 364.4 273.2 364.8 286.3 365.3 280.4 365.7 275.3 366.2 278.8 366.6 281.1 367.1 285.0 367.5 279.9 368.0 270.9 368.4 276.9 368.8 281.9 369.3 283.1 369.7 280.5 370.2 283.7 370.6 282.5 371.1 277.7 371.5 279.2 372.0 279.5 372.4 280.7 372.9 279.7 373.3 275.5 373.7 278.2 374.2 282.5 374.6 278.1 375.1 280.5 375.5 277.6 376.0 277.2 376.4 281.0 376.9 285.6 377.3 285.5 377.8 280.7 378.2 281.4 378.6 278.3 379.1 276.9 379.5 272.3 380.0 290.8 380.4 288.6 380.9 288.8 381.3 292.7 381.8 290.6 382.2 284.4 382.7 283.4 383.1 282.1 383.5 283.3 384.0 289.3 384.4 281.9 384.9 281.0 385.3 277.6 385.8 283.6 386.2 290.0 386.7 278.0 387.1 280.2 387.6 279.5 388.0 276.1 388.5 283.4 388.9 288.3 389.4 284.8 389.8 282.8 390.3 284.1 390.7 292.3 391.2 283.0 391.6 291.7 392.1 289.2 392.5 276.8 393.0 278.5 393.4 286.7 393.9 285.2 394.3 282.8 394.8 277.9 395.2 275.4 395.7 286.5 396.1 285.8 396.6 275.3 397.0 278.0 397.5 284.5 397.9 285.2 398.4 282.0 398.9 277.6 399.3 282.3 399.8 284.1 400.2 283.2 400.7 289.6 401.1 290.9 401.6 281.1 401.6 280.4 401.7 280.9 401.7 281.4 401.8 282.0 401.9 282.5 401.9 283.0 402.0 283.5 402.0 284.2 402.1 285.3 402.1 286.5 402.2 287.7 402.2 288.8 402.3 290.0 402.3 291.1 402.4 292.3 402.4 293.4 402.5 294.5 402.5 295.7 402.6 296.8 402.7 297.9 402.7 299.1 402.8 300.2 402.8 301.1 402.9 301.3 403.0 301.2 403.2 301.1 403.4 298.1 403.5 295.2 403.7 294.2 403.9 294.7 404.0 295.1 404.2 296.1 404.3 297.0 404.5 298.6 404.7 299.9 404.8 300.6 405.0 298.5 405.2 296.4 405.3 299.4 405.5 303.8 405.6 306.6 405.8 305.6 406.0 304.6 406.1 303.7 406.3 302.7 406.5 302.5 406.6 303.4 406.8 304.3 407.0 302.3 407.3 301.6 407.6 308.8 407.9 302.3 408.2 309.2 408.6 310.7 408.9 304.7 409.2 301.7 409.5 306.9 409.8 306.4 410.2 306.4 410.5 308.2 410.8 307.3 411.1 306.0 411.4 308.2 411.7 310.4 412.1 310.4 412.4 308.7 412.7 310.9 413.0 312.0 413.3 313.7 413.6 316.2 414.0 312.7 414.3 313.0 414.6 311.8 414.9 311.7 415.2 315.0 415.6 315.0 415.9 317.2 416.2 315.4 416.5 313.7 416.8 316.5 417.1 314.1 417.5 317.6 417.8 318.3 418.1 316.7 418.4 316.8 418.8 319.6 419.1 319.1 419.4 319.7 419.7 320.1 420.0 318.4 420.4 317.3 420.7 320.5 421.0 319.2 421.3 317.9 421.6 320.9 422.0 323.4 422.3 322.3 422.6 322.4 422.9 322.2 423.3 320.9 423.6 322.4 423.9 325.1 424.2 323.2 424.5 322.5 424.9 325.0 425.2 324.7 425.5 325.0 425.8 325.6 426.2 325.8 426.5 325.0 426.8 322.4 427.1 325.3 427.4 325.9 427.8 327.5 428.1 329.6 428.4 328.2 428.8 325.1 429.2 325.4 429.5 328.2 429.9 328.6 430.2 327.3 430.6 327.7 431.0 328.8 431.3 328.8 431.7 328.8 432.0 328.1 432.4 330.7 432.7 329.9 433.1 328.7 433.5 329.7 433.8 330.6 434.2 331.3 434.5 332.1 434.9 332.4 435.3 333.1 435.6 332.9 436.0 332.6 436.3 332.6 436.7 331.8 437.0 332.3 437.4 332.5 437.8 332.6 438.1 333.9 438.5 334.9 438.9 332.8 439.3 333.8 439.8 335.2 440.2 336.5 440.6 335.2 441.0 335.4 441.5 336.3 441.9 336.1 442.3 336.3 442.7 336.2 443.1 337.1 443.6 336.3 444.0 336.6 444.4 336.1 444.8 337.4 445.3 337.3 445.7 338.5 446.1 337.4 446.5 337.3 447.0 337.6 447.4 338.4 447.8 337.9 448.2 337.8 448.7 337.9 449.1 338.2 449.5 338.3 450.0 339.7 450.4 338.1 450.9 338.9 451.3 339.6 451.7 340.1 452.2 339.8 452.6 339.6 453.1 338.4 453.5 338.7 454.0 339.6 454.4 340.0 454.9 338.3 455.3 338.9 455.7 340.5 456.2 340.6 456.6 340.0 457.1 339.3 457.5 339.1 458.0 341.1 458.4 339.7 458.9 340.0 459.3 340.7 459.7 340.7 460.2 340.5 460.6 340.0 461.1 341.1 461.5 341.5 462.0 339.5 462.4 341.3 462.9 341.5 463.3 340.5 463.7 341.5 464.2 341.5 464.6 341.3 465.1 340.8 465.5 340.7 466.0 341.4 466.4 341.5 466.9 341.5 467.3 340.5 467.8 340.9 468.2 341.2 468.7 341.4 469.1 341.5 469.6 341.4 470.0 341.4 470.5 340.8 470.9 341.0 471.4 341.5 471.8 341.5 472.3 341.2 472.7 341.1 473.2 341.5 473.6 340.2 474.1 341.4 474.5 341.5 475.0 341.3 475.5 341.5 475.9 341.5 476.4 341.5 476.8 341.3 477.3 341.5 477.7 341.5 478.2 341.5" stroke="#000" stroke-width="0.95" fill="none" stroke-linejoin="round" opacity="1"/>
<path d="M277.2 307.62h3M277.2 273.75h3M277.2 239.88h3M302.64 341.5v-3M328.07 341.5v-3M353.51 341.5v-3M378.95 341.5v-3M404.39 341.5v-3M429.82 341.5v-3M455.26 341.5v-3" stroke="#666666" stroke-width="1.1" fill="none"/>
<rect x="277.2" y="206" width="203.5" height="135.5" stroke="#666666" stroke-width="1.0" fill="none"/>
<text x="273.7" y="344.4" font-size="10" fill="#222" text-anchor="end" font-weight="normal" >0</text>
<text x="273.7" y="310.52" font-size="10" fill="#222" text-anchor="end" font-weight="normal" >2</text>
<text x="273.7" y="276.65" font-size="10" fill="#222" text-anchor="end" font-weight="normal" >4</text>
<text x="273.7" y="242.78" font-size="10" fill="#222" text-anchor="end" font-weight="normal" >6</text>
<text x="273.7" y="208.9" font-size="10" fill="#222" text-anchor="end" font-weight="normal" >8</text>
<text x="277.2" y="353.1" font-size="10" fill="#222" text-anchor="middle" font-weight="normal" >0</text>
<text x="302.64" y="353.1" font-size="10" fill="#222" text-anchor="middle" font-weight="normal" >10</text>
<text x="328.07" y="353.1" font-size="10" fill="#222" text-anchor="middle" font-weight="normal" >20</text>
<text x="353.51" y="353.1" font-size="10" fill="#222" text-anchor="middle" font-weight="normal" >30</text>
<text x="378.95" y="353.1" font-size="10" fill="#222" text-anchor="middle" font-weight="normal" >40</text>
<text x="404.39" y="353.1" font-size="10" fill="#222" text-anchor="middle" font-weight="normal" >50</text>
<text x="429.82" y="353.1" font-size="10" fill="#222" text-anchor="middle" font-weight="normal" >60</text>
<text x="455.26" y="353.1" font-size="10" fill="#222" text-anchor="middle" font-weight="normal" >70</text>
<text x="480.7" y="353.1" font-size="10" fill="#222" text-anchor="middle" font-weight="normal" >80</text>
<text x="259.2" y="269.8" font-size="9.6" fill="#222" text-anchor="middle" font-weight="normal" transform="rotate(-90 259.2 269.8)">Impact force (kN)</text>
<text x="383.5" y="366.7" font-size="9.6" fill="#222" text-anchor="middle" font-weight="normal" >Displacement (mm)</text>
<text x="253.5" y="199.7" font-size="10" fill="#222" text-anchor="start" font-weight="normal" >(d)</text>
<path d="M280.23 195.55 L304.23 185.55 L306.77 191.65 L282.77 201.65Z" fill="#0a0f0d"/>
<path d="M280.23 195.55 L304.23 185.55 L305.06 187.53 L281.06 197.53Z" fill="#1f8566"/>
<path d="M282.26 200.43 L306.26 190.43 L306.77 191.65 L282.77 201.65Z" fill="#1f8566"/>
<ellipse cx="305.5" cy="188.6" rx="1.81" ry="3.3" transform="rotate(-22.62 305.5 188.6)" fill="#0a0f0d"/>
<ellipse cx="281.5" cy="198.6" rx="2.31" ry="3.3" transform="rotate(-22.62 281.5 198.6)" fill="#111" stroke="#1d7c60" stroke-width="0.9"/>
<ellipse cx="281.8" cy="198.6" rx="1.15" ry="1.98" transform="rotate(-22.62 281.5 198.6)" fill="#000"/>
<text x="310.5" y="201.9" font-size="9" fill="#222" text-anchor="start" font-weight="normal" >SPIH R = 20mm</text>
<text x="476.9" y="216.5" font-size="9.5" fill="#222" text-anchor="end" font-weight="normal" >Indentation and Flexion Mode</text>
<text x="477.2" y="224.8" font-size="9.3" fill="#222" text-anchor="end" font-weight="normal" >&amp; Progressive Penetration Mode</text>
<circle cx="280.55" cy="224.7" r="2.95" fill="none" stroke="#c4364c" stroke-width="0.6"/>
<text x="280.55" y="226.55" font-size="5.2" fill="#c4364c" text-anchor="middle">1</text>
<text x="288.1" y="227.4" font-size="7.3" fill="#c4364c" stroke="#c4364c" stroke-width="0.12" font-weight="bold" textLength="48" lengthAdjust="spacingAndGlyphs">indentation stage</text>
<path d="M279 230.9H333" stroke="#c4364c" stroke-width="1.0"/>
<path d="M279 230.9l3 -1.35v2.7z" fill="#c4364c"/>
<path d="M333 230.9l-3 -1.35v2.7z" fill="#c4364c"/>
<path d="M336.5 217V241" stroke="#c4364c" stroke-width="1.0" stroke-dasharray="2.1 1.4"/>
<circle cx="347.45" cy="235.3" r="2.95" fill="none" stroke="#3b8a5a" stroke-width="0.6"/>
<text x="347.45" y="237.15" font-size="5.2" fill="#3b8a5a" text-anchor="middle">3</text>
<text x="355" y="238" font-size="7.3" fill="#3b8a5a" stroke="#3b8a5a" stroke-width="0.12" font-weight="bold" textLength="41.5" lengthAdjust="spacingAndGlyphs">softening stage</text>
<path d="M338.3 239H401.7" stroke="#3b8a5a" stroke-width="1.0"/>
<path d="M338.3 239l3 -1.35v2.7z" fill="#3b8a5a"/>
<path d="M401.7 239l-3 -1.35v2.7z" fill="#3b8a5a"/>
<path d="M403.8 229V339.8" stroke="#3b8a5a" stroke-width="1.0" stroke-dasharray="2.1 1.4"/>
<text x="364.8" y="260.8" font-size="7.3" fill="#3b8a5a" text-anchor="start" font-weight="bold" stroke="#3b8a5a" stroke-width="0.12" textLength="36" lengthAdjust="spacingAndGlyphs">local softening</text>
<path d="M359.3 265.4L369.1 262.1M359 263.5v3.8" stroke="#3b8a5a" stroke-width="0.9" fill="none"/>
<ellipse cx="347.5" cy="262" rx="1.8" ry="4" fill="none" stroke="#3b8a5a" stroke-width="0.8" stroke-dasharray="1.5 1"/>
<ellipse cx="352" cy="277" rx="2.2" ry="4" fill="none" stroke="#3b8a5a" stroke-width="0.8" stroke-dasharray="1.5 1"/>
<circle cx="409.15" cy="272.7" r="2.95" fill="none" stroke="#a0743a" stroke-width="0.6"/>
<text x="409.15" y="274.55" font-size="5.2" fill="#a0743a" text-anchor="middle">4</text>
<text x="416.7" y="275.4" font-size="7.3" fill="#a0743a" stroke="#a0743a" stroke-width="0.12" font-weight="bold" textLength="47" lengthAdjust="spacingAndGlyphs">penetration stage</text>
<path d="M405.6 279.2H466.3" stroke="#a0743a" stroke-width="1.0"/>
<path d="M405.6 279.2l3 -1.35v2.7z" fill="#a0743a"/>
<path d="M466.3 279.2l-3 -1.35v2.7z" fill="#a0743a"/>
<path d="M467.6 268.6V339.8" stroke="#a0743a" stroke-width="1.0" stroke-dasharray="2.1 1.4"/>
<path d="M328.9 310V341.5" stroke="#3d5f8e" stroke-width="1.0" stroke-dasharray="2.1 1.4"/>
<path d="M387.7 314.6V341.5" stroke="#3d5f8e" stroke-width="1.0" stroke-dasharray="2.1 1.4"/>
<path d="M333 332H385.5" stroke="#3d5f8e" stroke-width="0.9"/>
<path d="M333 332l3 -1.35v2.7z" fill="#3d5f8e"/>
<path d="M385.5 332l-3 -1.35v2.7z" fill="#3d5f8e"/>
<circle cx="334.95" cy="326" r="2.95" fill="none" stroke="#3d5f8e" stroke-width="0.6"/>
<text x="334.95" y="327.85" font-size="5.2" fill="#3d5f8e" text-anchor="middle">2</text>
<text x="342.5" y="328.7" font-size="7.3" fill="#3d5f8e" stroke="#3d5f8e" stroke-width="0.12" font-weight="bold" textLength="39" lengthAdjust="spacingAndGlyphs">rebound stage</text>
<path d="M301.3 320.9Q360 322.6 425.8 297.8" stroke="#222" stroke-width="1.35" fill="none"/>
<path d="M421.31 302.91L425.8 297.8L419.06 296.92" stroke="#222" stroke-width="1.2" fill="none"/>
<text x="405.6" y="293.7" font-size="7.8" fill="#1a1a1a" text-anchor="start" font-weight="normal" textLength="63" lengthAdjust="spacingAndGlyphs">Impact speed increase</text>
<path d="M70.54 381.5V518M111.28 381.5V518M152.02 381.5V518M192.76 381.5V518M29.8 495.25H233.5M29.8 472.5H233.5M29.8 449.75H233.5M29.8 427H233.5M29.8 404.25H233.5" stroke="#e2e2e2" stroke-width="0.8" fill="none"/>
<path d="M29.8 513.9 29.8 514.0 29.9 514.1 29.9 514.1 29.9 514.2 30.0 514.3 30.0 514.3 30.0 514.2 30.1 514.1 30.1 513.9 30.1 513.7 30.2 516.9 30.2 513.4 30.2 513.2 30.3 513.1 30.3 512.9 30.3 512.7 30.3 512.4 30.4 512.1 30.4 511.8 30.4 511.6 30.5 511.3 30.5 511.0 30.5 510.8 30.6 510.4 30.6 508.8 30.6 507.3 30.7 505.7 30.7 504.1 30.7 502.5 30.8 501.0 30.8 499.4 30.8 497.8 30.9 496.5 30.9 496.3 30.9 496.0 31.0 495.8 31.0 495.6 31.0 495.4 31.2 496.5 31.3 499.0 31.5 500.4 31.6 500.1 31.8 499.9 31.9 499.7 32.1 496.1 32.3 490.3 32.4 497.5 32.6 508.0 32.7 499.3 32.9 488.5 33.0 491.3 33.2 495.5 33.4 500.3 33.7 487.7 33.9 472.5 34.1 484.8 34.3 491.3 34.5 496.8 34.8 489.1 35.0 486.1 35.2 487.2 35.4 488.5 35.7 490.3 35.9 488.4 36.1 486.6 36.3 486.2 36.5 485.8 36.8 493.5 37.0 491.9 37.2 487.9 37.4 491.2 37.7 489.4 37.9 489.0 38.1 488.1 38.3 486.0 38.6 483.0 38.8 488.3 39.0 487.2 39.2 483.7 39.4 483.2 39.7 480.7 39.9 484.5 40.1 488.6 40.3 490.5 40.6 479.4 40.8 485.5 41.0 482.0 41.3 480.0 41.5 480.6 41.8 476.4 42.0 474.4 42.3 481.8 42.6 475.9 42.8 477.6 43.1 481.8 43.3 482.0 43.6 478.1 43.8 478.3 44.1 480.7 44.3 471.0 44.6 473.7 44.8 476.0 45.1 474.7 45.3 483.3 45.6 479.0 45.9 474.5 46.1 477.8 46.4 483.4 46.6 487.5 46.9 474.7 47.1 474.9 47.4 476.9 47.6 468.9 47.9 467.0 48.1 464.7 48.4 463.7 48.7 461.1 49.1 464.1 49.5 469.1 49.9 461.7 50.3 473.9 50.7 470.8 51.2 440.6 51.6 474.4 52.0 466.1 52.4 463.8 52.8 463.4 53.2 471.9 53.6 473.3 54.0 461.6 54.4 466.3 54.8 467.3 55.2 470.4 55.7 469.3 56.1 465.2 56.5 461.9 57.0 463.4 57.4 477.1 57.9 468.3 58.3 467.9 58.8 466.6 59.2 467.7 59.7 468.5 60.1 460.4 60.6 468.1 61.0 462.4 61.4 468.8 61.6 442.9 61.9 478.6 62.1 470.0 62.4 463.0 62.6 461.5 62.9 464.6 63.1 464.9 63.4 468.9 63.6 470.2 63.9 465.3 64.1 471.1 64.4 475.2 64.7 472.2 64.9 477.3 65.2 480.1 65.4 476.1 65.7 460.9 65.9 468.4 66.2 468.1 66.4 471.8 66.7 472.7 66.9 472.7 67.2 469.4 67.4 473.3 67.7 474.1 68.0 483.6 68.2 484.3 68.5 477.8 68.7 476.2 69.0 475.6 69.3 476.1 69.6 484.1 69.9 482.4 70.2 482.8 70.5 481.0 70.8 482.4 71.1 456.6 71.4 482.1 71.7 479.2 72.1 486.6 72.4 485.5 72.7 482.0 73.0 480.6 73.3 480.7 73.6 479.0 73.9 482.7 74.2 485.5 74.5 489.9 74.8 480.1 75.1 482.6 75.4 487.1 75.7 484.7 76.1 484.4 76.4 479.6 76.7 487.8 77.0 488.2 77.3 489.0 77.6 483.5 77.9 480.8 78.2 489.2 78.5 488.2 78.8 493.4 79.1 487.7 79.5 495.0 79.9 492.4 80.3 481.5 80.7 492.7 81.1 496.6 81.5 491.0 81.8 488.9 82.2 492.5 82.6 497.0 83.0 494.7 83.4 492.7 83.8 491.9 84.1 489.4 84.5 491.8 84.9 488.5 85.3 499.1 85.7 495.7 86.1 492.8 86.5 495.4 86.8 496.9 87.2 495.2 87.6 493.1 88.0 493.9 88.4 491.5 88.8 489.9 89.1 492.8 89.5 496.6 89.9 496.7 90.3 500.4 90.7 494.3 91.1 497.2 91.5 491.3 91.9 497.6 92.3 498.1 92.7 499.1 93.2 494.4 93.6 494.1 94.1 493.3 94.5 499.2 95.0 498.9 95.4 500.9 95.8 501.5 96.3 495.9 96.7 505.3 97.2 497.5 97.6 500.2 98.0 500.9 98.5 502.0 98.9 498.8 99.4 500.5 99.8 501.3 100.3 500.1 100.7 504.5 101.1 502.1 101.6 501.6 102.0 499.6 102.5 494.7 102.9 497.9 103.4 499.3 103.8 501.6 104.2 504.0 104.7 502.9 105.1 502.2 105.6 499.0 106.0 500.7 106.5 505.3 106.9 497.6 107.4 496.9 107.8 502.3 108.2 501.6 108.7 502.6 109.1 501.2 109.6 497.1 110.0 498.7 110.5 496.9 110.9 496.1 111.4 492.9 111.8 504.7 112.2 504.6 112.7 501.4 113.1 496.3 113.6 498.9 114.0 499.1 114.5 500.9 114.9 505.6 115.4 504.2 115.8 502.1 116.2 506.4 116.7 506.0 117.1 501.0 117.6 499.8 118.0 502.4 118.5 500.2 118.9 504.6 119.4 506.0 119.8 504.9 120.2 504.3 120.7 502.6 121.1 502.8 121.5 501.5 121.9 506.6 122.3 503.6 122.8 496.0 123.2 503.8 123.6 504.7 124.0 500.3 124.4 506.5 124.9 501.2 125.3 499.9 125.7 506.1 126.1 501.1 126.5 503.0 127.0 506.1 127.4 503.0 127.8 503.8 128.2 502.9 128.6 503.3 129.1 511.0 129.5 513.0 129.9 506.8 130.3 513.1 130.7 510.2 131.2 506.0 131.6 503.7 132.0 503.0 132.4 508.7 132.8 506.2 133.2 503.8 133.7 506.1 134.1 504.8 134.5 503.3 134.9 504.8 135.3 511.2 135.8 508.6 136.2 496.5 136.6 502.1 137.0 505.5 137.4 505.4 137.9 500.0 138.3 506.9 138.7 506.5 139.1 505.1 139.5 507.1 140.0 497.2 140.4 493.8 140.8 502.0 141.2 497.0 141.6 501.1 142.1 500.9 142.5 505.5 142.9 498.7 143.3 504.2 143.7 502.7 144.2 499.5 144.6 504.7 145.0 499.3 145.4 504.2 145.8 499.1 146.2 502.6 146.6 497.9 147.0 501.5 147.3 498.7 147.7 507.1 148.1 499.1 148.5 498.7 148.9 498.6 149.3 501.3 149.6 494.3 150.0 499.0 150.4 498.2 150.8 498.8 151.2 501.4 151.6 497.5 152.0 496.8 152.3 499.8 152.7 504.2 153.1 496.9 153.5 493.0 153.9 501.1 154.3 499.2 154.7 500.6 155.0 497.9 155.4 491.2 155.8 492.6 156.2 488.2 156.6 495.9 157.0 499.9 157.3 499.4 157.7 500.5 158.1 492.6 158.5 493.8 159.0 497.6 159.4 493.5 159.8 495.3 160.2 494.1 160.6 497.0 161.1 493.0 161.5 492.1 161.9 494.4 162.3 494.4 162.7 497.9 163.2 496.9 163.6 479.0 164.0 494.7 164.4 490.1 164.8 494.6 165.3 491.5 165.7 487.1 166.1 487.8 166.5 481.7 167.0 490.6 167.4 485.3 167.8 486.3 168.2 490.9 168.6 489.2 169.1 489.9 169.5 491.5 169.9 490.2 170.3 491.2 170.7 492.3 171.2 486.8 171.6 490.5 172.0 486.9 172.5 489.1 172.9 488.9 173.3 487.8 173.8 488.6 174.2 488.2 174.6 487.4 175.1 488.5 175.5 484.4 175.9 485.9 176.4 489.4 176.8 486.7 177.2 488.2 177.7 487.1 178.1 487.8 178.5 491.3 179.0 490.3 179.4 489.1 179.8 484.7 180.3 488.9 180.7 484.5 181.1 487.8 181.6 488.5 182.0 486.7 182.4 486.6 182.9 487.0 183.3 483.3 183.7 484.7 184.2 484.7 184.6 484.5 185.1 489.2 185.5 486.6 186.0 483.3 186.4 485.6 186.9 485.9 187.3 483.0 187.8 487.7 188.2 485.5 188.7 485.7 189.1 488.5 189.6 486.2 190.0 487.7 190.5 482.7 190.9 487.6 191.4 484.9 191.8 483.1 192.3 479.0 192.7 482.6 193.2 486.7 193.6 483.9 194.0 484.9 194.3 486.2 194.6 487.2 194.9 486.1 195.1 489.3 195.4 486.7 195.7 485.9 195.9 489.3 196.2 487.7 196.5 487.5 196.8 486.0 197.0 488.2 197.3 490.9 197.6 489.5 197.8 486.6 198.1 487.3 198.4 490.1 198.6 489.1 198.9 489.5 199.2 488.0 199.5 493.3 199.8 491.4 200.1 491.2 200.4 494.1 200.7 494.5 201.0 492.8 201.4 494.9 201.7 496.2 202.0 493.3 202.3 495.3 202.6 490.9 202.9 495.5 203.2 495.5 203.5 496.9 203.8 495.0 204.1 499.7 204.5 499.1 204.8 499.1 205.1 499.0 205.4 501.5 205.7 496.1 206.0 499.3 206.3 497.9 206.6 501.9 207.0 499.6 207.4 502.7 207.7 500.9 208.1 503.2 208.5 501.3 208.8 500.1 209.2 498.6 209.6 500.5 209.9 503.2 210.3 499.9 210.7 501.8 211.0 502.0 211.4 501.4 211.8 502.2 212.2 502.4 212.5 504.0 212.9 504.9 213.3 505.1 213.6 505.2 214.0 505.1 214.4 504.4 214.7 504.8 215.1 505.3 215.5 505.7 215.8 506.8 216.2 506.6 216.6 506.5 216.9 506.5 217.3 507.2 217.7 507.7 218.1 507.4 218.4 508.4 218.8 508.7 219.2 508.7 219.6 507.6 220.0 509.0 220.3 510.2 220.7 509.9 221.1 510.4 221.5 510.7 221.8 511.2 222.2 510.5 222.6 511.1 223.0 511.4 223.4 511.3 223.7 511.1 224.1 512.1 224.5 511.9 224.9 511.8 225.3 511.5 225.6 512.0 226.0 513.4 226.4 513.2 226.8 513.8 227.1 514.4 227.5 514.1 227.9 514.0 228.3 514.0 228.7 514.5 229.1 516.0 229.5 515.8 229.8 515.4 230.2 515.3 230.6 516.7 231.0 516.6 231.4 516.0 231.8 516.2 232.2 516.6 232.5 516.5 232.8 517.1 233.2 516.9 233.5 517.1" stroke="#000" stroke-width="0.8" fill="none" stroke-linejoin="round" opacity="1"/>
<path d="M29.8 517.5 29.8 517.0 29.9 516.5 29.9 516.0 29.9 515.5 29.9 515.0 30.0 514.5 30.0 514.0 30.0 513.6 30.0 513.3 30.1 513.0 30.1 512.7 30.1 512.4 30.1 512.0 30.2 511.7 30.2 511.4 30.2 511.1 30.3 510.8 30.3 510.4 30.3 509.0 30.3 507.4 30.4 505.9 30.4 504.3 30.4 502.8 30.4 501.2 30.5 499.6 30.5 498.1 30.5 496.5 30.6 495.0 30.6 493.7 30.6 493.0 30.6 492.3 30.7 491.6 30.7 490.8 30.7 490.1 30.7 489.4 30.8 488.7 30.8 488.0 30.8 487.3 30.8 486.6 30.9 487.1 30.9 488.1 30.9 489.1 31.0 490.2 31.0 491.2 31.0 492.2 31.1 497.0 31.3 495.1 31.4 489.7 31.6 493.8 31.7 499.4 31.9 498.8 32.0 498.1 32.2 497.1 32.3 497.1 32.5 500.4 32.6 501.9 32.8 500.2 32.9 495.4 33.1 486.8 33.3 486.0 33.5 490.8 33.8 495.5 34.0 489.9 34.2 484.8 34.4 483.8 34.6 485.2 34.9 486.6 35.1 486.7 35.3 481.9 35.5 482.1 35.8 486.7 36.0 483.7 36.2 484.5 36.4 489.5 36.7 490.3 36.9 481.0 37.1 488.3 37.3 482.5 37.5 480.4 37.8 483.9 38.0 483.0 38.2 480.8 38.4 482.9 38.7 479.9 38.9 466.7 39.1 478.6 39.3 478.0 39.5 477.1 39.8 478.1 40.0 477.3 40.2 479.0 40.4 480.6 40.7 481.6 40.9 481.4 41.1 479.9 41.4 483.1 41.7 478.7 41.9 474.7 42.2 477.4 42.4 475.1 42.7 467.8 42.9 469.4 43.2 480.5 43.4 480.3 43.7 474.2 43.9 470.9 44.2 469.5 44.4 478.5 44.7 483.7 45.0 475.2 45.2 464.5 45.5 466.1 45.7 463.4 46.0 481.4 46.2 471.5 46.5 459.9 46.7 466.6 47.0 473.3 47.2 470.8 47.5 471.1 47.7 471.0 48.0 473.3 48.3 466.4 48.5 466.5 48.9 466.1 49.3 465.9 49.7 465.8 50.1 466.8 50.5 462.7 50.9 467.9 51.3 467.9 51.8 470.6 52.2 460.4 52.6 466.7 53.0 442.9 53.4 468.4 53.8 460.1 54.2 504.4 54.6 461.5 55.0 466.7 55.4 450.5 55.8 455.4 56.3 469.4 56.7 468.7 57.2 471.2 57.6 474.8 58.1 463.0 58.6 465.1 59.0 463.8 59.5 472.2 59.9 457.5 60.4 466.0 60.8 460.4 61.2 466.5 61.5 464.1 61.7 459.5 62.0 461.4 62.2 461.4 62.5 460.9 62.7 463.3 63.0 468.1 63.2 466.2 63.5 461.3 63.8 464.5 64.0 464.8 64.3 472.2 64.5 449.2 64.8 467.2 65.0 468.5 65.3 463.9 65.5 465.2 65.8 470.5 66.0 464.6 66.3 473.7 66.5 471.8 66.8 467.5 67.1 469.0 67.3 476.3 67.6 477.5 67.8 476.7 68.1 473.7 68.3 473.8 68.6 481.4 68.8 467.3 69.1 480.2 69.4 471.8 69.7 469.6 70.0 485.8 70.4 484.7 70.7 478.3 71.0 478.2 71.3 475.3 71.6 473.2 71.9 476.4 72.2 479.3 72.5 481.2 72.8 484.5 73.1 481.3 73.4 471.8 73.7 472.1 74.0 473.8 74.4 477.1 74.7 477.8 75.0 480.8 75.3 480.0 75.6 486.2 75.9 492.0 76.2 484.6 76.5 484.4 76.8 484.5 77.1 485.0 77.4 482.6 77.7 486.5 78.0 486.9 78.4 481.8 78.7 486.5 79.0 477.8 79.3 483.8 79.7 488.5 80.1 483.7 80.5 484.4 80.9 491.4 81.2 486.0 81.6 491.3 82.0 488.0 82.4 491.6 82.8 486.2 83.2 483.9 83.6 486.9 83.9 483.3 84.3 488.2 84.7 489.2 85.1 487.7 85.5 491.1 85.9 493.3 86.2 493.3 86.6 485.0 87.0 495.4 87.4 489.6 87.8 493.3 88.2 487.5 88.6 491.3 88.9 493.1 89.3 491.8 89.7 482.4 90.1 489.4 90.5 492.0 90.9 497.5 91.3 490.1 91.6 496.8 92.1 494.1 92.5 500.9 92.9 493.3 93.4 495.4 93.8 495.7 94.3 493.6 94.7 495.0 95.2 501.0 95.6 493.2 96.0 493.5 96.5 499.3 96.9 490.1 97.4 493.2 97.8 496.5 98.3 494.9 98.7 491.6 99.1 502.7 99.6 494.9 100.0 496.9 100.5 493.6 100.9 496.6 101.4 491.1 101.8 492.1 102.2 500.0 102.7 497.6 103.1 493.3 103.6 496.1 104.0 497.0 104.5 501.0 104.9 498.4 105.3 497.6 105.8 502.6 106.2 499.8 106.7 497.2 107.1 494.9 107.6 495.5 108.0 497.8 108.5 498.4 108.9 495.4 109.3 492.8 109.8 495.1 110.2 495.8 110.7 486.6 111.1 500.9 111.6 493.6 112.0 503.7 112.5 491.3 112.9 497.3 113.3 500.1 113.8 502.5 114.2 498.8 114.7 498.5 115.1 502.0 115.6 500.0 116.0 504.8 116.5 498.5 116.9 500.5 117.3 491.8 117.8 501.4 118.2 499.6 118.7 485.4 119.1 500.6 119.6 497.9 120.0 499.6 120.4 500.4 120.9 498.5 121.3 513.8 121.7 507.7 122.1 498.5 122.5 501.6 123.0 501.0 123.4 503.1 123.8 501.3 124.2 498.6 124.6 504.6 125.1 500.4 125.5 501.9 125.9 501.3 126.3 501.3 126.7 500.3 127.2 507.3 127.6 495.2 128.0 502.3 128.4 504.7 128.8 497.3 129.3 498.8 129.7 506.2 130.1 507.6 130.5 501.8 130.9 510.5 131.4 504.0 131.8 508.3 132.2 504.9 132.6 500.0 133.0 501.9 133.5 502.6 133.9 505.8 134.3 499.0 134.7 504.3 135.1 500.4 135.5 503.2 136.0 507.0 136.4 498.6 136.8 501.5 137.2 507.1 137.6 499.4 138.1 498.3 138.5 502.4 138.9 501.2 139.3 499.6 139.7 496.5 140.2 496.5 140.6 503.4 141.0 501.2 141.4 502.3 141.8 498.5 142.3 492.5 142.7 498.8 143.1 493.8 143.5 501.5 143.9 490.9 144.4 487.3 144.8 497.2 145.2 495.1 145.6 495.1 146.0 496.5 146.4 497.6 146.8 500.1 147.1 498.8 147.5 496.6 147.9 485.1 148.3 496.2 148.7 499.2 149.1 496.0 149.5 495.0 149.8 500.6 150.2 493.4 150.6 497.7 151.0 493.1 151.4 494.4 151.8 499.8 152.1 496.5 152.5 495.0 152.9 489.3 153.3 494.5 153.7 493.0 154.1 491.5 154.5 490.9 154.8 490.7 155.2 489.4 155.6 490.0 156.0 498.7 156.4 486.8 156.8 491.0 157.1 482.3 157.5 490.2 157.9 487.0 158.3 491.8 158.7 490.1 159.2 486.6 159.6 489.5 160.0 490.2 160.4 489.2 160.8 490.3 161.3 490.8 161.7 491.5 162.1 488.9 162.5 487.7 162.9 492.6 163.4 491.2 163.8 490.7 164.2 491.3 164.6 491.5 165.1 491.1 165.5 490.9 165.9 489.5 166.3 487.9 166.7 487.6 167.2 490.8 167.6 483.6 168.0 489.2 168.4 487.5 168.8 481.8 169.3 482.3 169.7 484.8 170.1 487.6 170.5 482.5 171.0 485.5 171.4 484.6 171.8 483.6 172.3 485.1 172.7 486.7 173.2 485.0 173.6 485.3 174.1 484.2 174.5 486.5 174.9 483.9 175.4 489.8 175.8 483.2 176.3 486.5 176.7 485.6 177.2 484.5 177.6 485.1 178.1 485.6 178.5 484.7 179.0 489.8 179.4 485.4 179.8 484.2 180.3 480.9 180.7 484.5 181.2 485.6 181.6 482.4 182.1 483.9 182.5 483.5 183.0 484.4 183.4 481.9 183.9 482.6 184.3 482.0 184.8 484.1 185.2 484.7 185.7 484.5 186.1 483.1 186.5 482.4 187.0 484.0 187.4 483.4 187.9 483.2 188.3 487.7 188.8 481.8 189.2 484.4 189.7 487.5 190.1 483.6 190.6 482.8 191.0 483.5 191.5 484.0 191.9 484.4 192.4 484.3 192.8 486.4 193.3 483.2 193.7 480.7 194.2 482.0 194.6 484.5 195.1 486.1 195.5 483.6 196.0 485.5 196.3 482.6 196.5 483.4 196.8 479.6 197.1 484.0 197.4 483.8 197.6 486.7 197.9 485.5 198.2 485.8 198.5 488.9 198.7 488.5 199.0 489.7 199.3 489.0 199.6 485.8 199.8 485.1 200.1 485.2 200.4 487.3 200.7 490.4 200.9 489.1 201.2 489.2 201.5 491.9 201.8 491.4 202.0 490.8 202.3 489.4 202.6 488.0 202.9 491.2 203.2 490.2 203.5 490.9 203.8 488.4 204.1 489.9 204.4 491.5 204.7 492.2 205.0 493.7 205.3 494.8 205.6 495.5 205.9 496.0 206.2 496.3 206.5 496.7 206.8 497.1 207.1 496.0 207.4 497.1 207.7 498.2 208.0 496.9 208.2 498.8 208.5 500.3 208.8 498.9 209.2 498.8 209.5 498.5 209.9 497.8 210.3 499.3 210.6 496.3 211.0 500.3 211.3 501.3 211.7 503.0 212.1 502.3 212.4 503.0 212.8 501.0 213.2 502.1 213.5 501.1 213.9 501.1 214.3 499.4 214.6 502.5 215.0 503.8 215.4 504.7 215.7 504.3 216.1 504.2 216.5 504.7 216.8 504.6 217.2 506.1 217.5 505.8 217.9 505.4 218.3 506.0 218.6 505.3 219.0 507.1 219.3 506.6 219.7 506.2 220.0 507.0 220.4 507.6 220.7 508.4 221.0 507.8 221.4 508.3 221.7 507.5 222.1 509.2 222.4 509.5 222.8 509.7 223.1 510.4 223.5 509.2 223.8 510.1 224.2 510.6 224.5 510.8 224.9 509.7 225.2 510.2 225.5 511.8 225.9 511.4 226.2 511.5 226.6 512.9 226.9 512.4 227.3 512.9 227.6 513.3 228.0 514.3 228.4 514.6 228.7 514.8 229.1 515.0 229.5 515.2 229.9 516.0 230.2 514.7 230.6 514.7 231.0 515.2 231.3 515.1 231.7 514.9 232.1 515.5 232.4 515.8 232.7 516.1 233.0 517.0 233.2 518.0 233.5 518.0" stroke="#000" stroke-width="0.8" fill="none" stroke-linejoin="round" opacity="1"/>
<path d="M29.8 512.4 29.8 512.5 29.9 512.6 29.9 512.7 29.9 512.9 29.9 513.0 30.0 513.1 30.0 513.2 30.0 512.6 30.1 511.9 30.1 511.2 30.1 510.5 30.1 509.9 30.2 509.2 30.2 508.5 30.2 507.8 30.3 507.2 30.3 506.5 30.3 506.4 30.3 506.3 30.4 506.2 30.4 506.1 30.4 506.0 30.5 505.9 30.5 505.8 30.5 505.7 30.5 505.7 30.6 505.6 30.6 505.9 30.6 506.3 30.7 506.7 30.7 507.1 30.7 507.5 30.7 507.9 30.8 508.2 30.8 508.6 30.8 509.0 30.9 509.4 30.9 509.2 30.9 508.8 30.9 508.4 31.0 508.1 31.0 507.7 31.0 507.4 31.2 506.6 31.3 503.6 31.5 500.6 31.6 497.5 31.8 495.3 31.9 494.1 32.1 494.6 32.2 496.1 32.4 497.2 32.6 498.1 32.7 497.1 32.9 495.8 33.0 495.6 33.2 495.7 33.4 496.3 33.7 488.2 33.9 496.7 34.1 501.2 34.3 493.8 34.5 492.5 34.8 493.4 35.0 487.0 35.2 480.9 35.4 487.1 35.7 479.3 35.9 484.3 36.1 490.1 36.3 491.7 36.5 494.0 36.8 483.2 37.0 483.1 37.2 490.2 37.4 495.0 37.7 486.5 37.9 481.0 38.1 484.6 38.3 493.8 38.5 481.8 38.8 478.5 39.0 477.0 39.2 482.7 39.4 491.2 39.7 493.3 39.9 488.3 40.1 483.5 40.3 482.0 40.6 479.6 40.8 482.2 41.0 485.5 41.3 483.2 41.5 479.3 41.8 479.6 42.0 471.6 42.3 466.7 42.5 475.4 42.8 458.9 43.1 478.2 43.3 467.3 43.6 467.7 43.8 474.5 44.1 470.2 44.3 469.5 44.6 477.1 44.8 462.5 45.1 473.7 45.3 472.2 45.6 469.7 45.8 471.5 46.1 474.4 46.4 472.2 46.6 463.5 46.9 471.5 47.1 474.0 47.4 476.4 47.6 477.0 47.9 470.1 48.1 464.1 48.4 462.8 48.7 463.4 49.1 471.3 49.5 461.1 49.9 455.8 50.3 461.4 50.7 466.4 51.2 474.3 51.6 469.7 52.0 460.6 52.4 457.3 52.8 462.7 53.2 464.5 53.6 462.0 54.0 468.0 54.4 471.6 54.8 467.4 55.2 453.4 55.7 451.6 56.1 462.8 56.5 467.2 57.0 464.7 57.4 468.7 57.9 461.6 58.3 463.3 58.8 465.9 59.2 465.6 59.7 468.8 60.1 467.0 60.6 457.4 61.1 462.7 61.4 458.2 61.6 458.2 61.9 463.0 62.1 469.2 62.4 469.3 62.6 462.1 62.9 473.8 63.1 472.0 63.4 469.6 63.6 468.1 63.9 466.4 64.1 468.9 64.4 469.9 64.7 467.6 64.9 468.8 65.2 461.5 65.4 477.7 65.7 468.3 65.9 471.8 66.2 474.0 66.4 471.9 66.7 471.1 66.9 474.2 67.2 479.9 67.4 477.8 67.7 478.5 68.0 474.9 68.2 475.0 68.5 473.3 68.7 473.9 69.0 475.0 69.3 474.5 69.6 474.8 69.9 481.1 70.2 478.7 70.5 480.7 70.8 483.0 71.1 476.7 71.4 480.8 71.8 482.8 72.1 478.4 72.4 478.5 72.7 480.2 73.0 479.6 73.3 481.7 73.6 479.9 73.9 482.7 74.2 477.7 74.5 485.2 74.8 483.5 75.1 481.4 75.4 476.6 75.8 482.7 76.1 491.6 76.4 483.1 76.7 480.4 77.0 488.1 77.3 490.1 77.6 485.5 77.9 486.2 78.2 492.2 78.5 490.2 78.8 478.7 79.2 495.4 79.5 485.8 79.9 489.3 80.3 484.5 80.7 484.7 81.1 487.7 81.5 487.5 81.8 487.3 82.2 486.7 82.6 488.0 83.0 485.3 83.4 485.3 83.8 481.7 84.2 488.0 84.5 485.8 84.9 492.9 85.3 492.9 85.7 489.3 86.1 489.1 86.5 494.1 86.8 489.3 87.2 491.5 87.6 470.2 88.0 496.2 88.4 495.7 88.8 491.5 89.2 497.3 89.5 488.4 89.9 497.3 90.3 490.4 90.7 492.4 91.1 494.4 91.5 497.2 91.9 495.3 92.3 492.1 92.8 493.7 93.2 497.0 93.6 497.5 94.1 493.0 94.5 492.5 95.0 494.3 95.4 502.2 95.9 497.1 96.3 497.8 96.7 494.8 97.2 493.1 97.6 491.6 98.1 503.6 98.5 497.5 99.0 497.1 99.4 495.4 99.8 498.0 100.3 495.0 100.7 498.3 101.2 504.5 101.6 497.8 102.0 498.7 102.5 493.2 102.9 503.7 103.4 500.9 103.8 494.7 104.3 502.7 104.7 496.6 105.2 497.8 105.6 495.6 106.0 494.2 106.5 498.7 106.9 495.5 107.4 499.2 107.8 499.5 108.3 496.0 108.7 501.3 109.2 494.8 109.6 495.5 110.0 490.4 110.5 495.7 110.9 499.9 111.4 495.9 111.8 498.6 112.3 495.2 112.7 495.6 113.2 499.2 113.6 497.5 114.0 495.2 114.5 499.7 114.9 500.7 115.4 505.2 115.8 497.5 116.3 497.6 116.7 496.9 117.2 501.4 117.6 502.2 118.0 504.7 118.5 502.1 118.9 500.6 119.4 502.0 119.8 505.7 120.3 505.8 120.7 500.3 121.1 507.6 121.5 498.4 121.9 502.0 122.4 504.7 122.8 504.9 123.2 504.3 123.6 498.7 124.0 502.9 124.5 504.1 124.9 505.0 125.3 501.7 125.7 498.4 126.1 503.0 126.6 497.2 127.0 502.2 127.4 504.2 127.8 505.7 128.2 503.0 128.7 504.1 129.1 512.0 129.5 505.4 129.9 504.2 130.3 505.9 130.8 504.1 131.2 504.3 131.6 507.1 132.0 505.3 132.4 502.6 132.9 497.7 133.3 506.8 133.7 506.5 134.1 504.5 134.5 507.7 135.0 503.9 135.4 511.0 135.8 507.8 136.2 500.6 136.6 505.9 137.0 506.4 137.5 505.3 137.9 507.1 138.3 505.6 138.7 501.7 139.1 495.5 139.6 508.8 140.0 500.5 140.4 502.3 140.8 499.3 141.2 503.4 141.7 502.4 142.1 499.0 142.5 499.0 142.9 500.7 143.3 498.9 143.8 500.9 144.2 500.1 144.6 498.8 145.0 496.3 145.4 495.8 145.8 499.2 146.2 497.0 146.6 496.4 147.0 498.8 147.4 494.4 147.8 502.3 148.1 494.2 148.5 491.6 148.9 495.8 149.3 497.7 149.7 495.2 150.1 496.4 150.4 495.2 150.8 475.2 151.2 487.3 151.6 483.0 152.0 495.4 152.4 493.1 152.8 491.9 153.1 498.4 153.5 497.5 153.9 482.7 154.3 492.7 154.7 497.7 155.1 493.1 155.4 495.1 155.8 491.8 156.2 499.4 156.6 489.2 157.0 487.7 157.4 494.4 157.8 489.6 158.1 487.6 158.6 494.1 159.0 493.6 159.4 491.1 159.8 490.6 160.2 491.2 160.7 494.5 161.1 490.7 161.5 492.8 161.9 488.2 162.4 489.7 162.8 488.4 163.2 493.1 163.6 490.6 164.0 487.2 164.5 489.9 164.9 491.6 165.3 489.2 165.7 483.7 166.1 493.0 166.6 496.8 167.0 494.5 167.4 486.9 167.8 491.0 168.3 492.3 168.7 488.6 169.1 487.6 169.5 482.1 169.9 483.5 170.4 489.5 170.8 487.8 171.2 485.3 171.6 488.6 172.1 489.6 172.5 484.1 173.0 487.5 173.4 486.7 173.9 484.5 174.3 487.9 174.7 486.6 175.2 487.1 175.6 486.5 176.1 486.2 176.5 486.2 177.0 485.7 177.4 488.3 177.8 485.7 178.3 487.0 178.7 484.3 179.2 484.9 179.6 486.4 180.1 487.9 180.5 483.8 180.9 485.6 181.4 486.1 181.8 487.4 182.3 483.9 182.7 485.0 183.2 482.9 183.6 485.8 184.0 485.3 184.5 482.8 184.9 484.8 185.4 482.2 185.8 488.1 186.3 480.8 186.7 483.4 187.2 483.0 187.6 485.6 188.1 483.6 188.5 486.2 189.0 484.9 189.4 484.7 189.9 480.9 190.3 487.0 190.8 483.6 191.2 486.1 191.7 480.7 192.1 484.4 192.3 487.8 192.5 484.5 192.8 486.2 193.0 487.7 193.2 487.4 193.5 485.6 193.7 484.4 193.9 487.1 194.2 489.5 194.4 490.0 194.6 488.8 194.9 488.0 195.1 489.4 195.4 489.6 195.6 490.2 195.8 492.2 196.1 492.9 196.3 487.7 196.5 491.4 196.8 494.0 197.1 493.2 197.3 492.7 197.6 492.7 197.9 492.6 198.2 493.3 198.5 491.3 198.8 494.4 199.1 498.1 199.4 495.2 199.7 496.9 200.0 492.9 200.3 493.9 200.6 493.1 200.8 500.9 201.1 490.9 201.4 493.7 201.7 496.6 202.0 499.7 202.3 496.5 202.6 501.6 202.9 503.1 203.2 500.5 203.5 500.3 203.8 501.0 204.1 499.3 204.4 504.3 204.8 500.4 205.2 504.2 205.6 500.4 206.0 502.5 206.3 502.9 206.7 501.8 207.1 502.6 207.5 504.8 207.9 504.2 208.3 503.5 208.7 504.0 209.0 504.3 209.4 507.5 209.8 505.2 210.2 505.8 210.6 506.7 211.0 506.5 211.4 504.4 211.7 510.8 212.1 507.2 212.5 506.1 212.9 507.4 213.3 507.5 213.7 510.1 214.1 508.1 214.5 507.7 214.9 508.7 215.3 507.0 215.7 508.1 216.1 509.0 216.5 506.8 216.9 508.9 217.3 509.0 217.7 509.7 218.1 509.8 218.5 510.0 218.9 508.5 219.3 511.3 219.7 509.8 220.1 510.8 220.5 511.1 220.9 511.9 221.3 510.0 221.7 510.8 222.1 511.8 222.5 511.7 222.9 510.6 223.3 511.7 223.7 512.9 224.1 512.1 224.5 512.4 224.9 514.2 225.3 513.2 225.7 513.9 226.1 513.9 226.4 513.0 226.8 514.6 227.2 514.6 227.7 513.9 228.1 514.9 228.5 515.0 228.9 515.1 229.3 514.8 229.7 515.3 230.1 516.2 230.5 515.8 230.9 516.6 231.3 517.5 231.7 516.8 232.2 516.6 232.5 517.1 232.8 516.7 233.2 517.0 233.5 517.7" stroke="#000" stroke-width="0.8" fill="none" stroke-linejoin="round" opacity="1"/>
<path d="M29.8 514.6 29.8 514.8 29.9 515.0 29.9 515.2 29.9 515.5 29.9 515.7 30.0 515.9 30.0 516.1 30.0 516.2 30.0 515.6 30.1 515.0 30.1 514.4 30.1 513.9 30.1 513.3 30.2 512.7 30.2 512.1 30.2 511.5 30.2 510.9 30.3 510.3 30.3 509.7 30.3 509.3 30.3 508.8 30.4 508.3 30.4 507.9 30.4 507.4 30.4 507.0 30.5 506.5 30.5 506.1 30.5 505.6 30.5 505.2 30.6 504.7 30.6 504.5 30.6 504.5 30.6 504.4 30.7 504.3 30.7 504.2 30.7 504.2 30.7 504.1 30.8 504.0 30.8 504.0 30.8 503.9 30.8 503.8 30.9 503.3 30.9 502.2 30.9 501.2 30.9 500.2 31.0 499.2 31.0 498.2 31.0 497.1 31.2 494.6 31.3 496.6 31.5 497.4 31.6 496.1 31.8 495.7 31.9 496.4 32.1 494.8 32.2 491.5 32.4 492.3 32.5 494.6 32.7 492.8 32.9 490.2 33.0 490.9 33.2 491.6 33.4 491.4 33.6 491.0 33.9 488.8 34.1 486.8 34.3 486.0 34.5 484.1 34.8 484.7 35.0 484.4 35.2 485.1 35.4 491.5 35.6 483.7 35.9 485.0 36.1 488.0 36.3 488.6 36.5 492.6 36.8 489.1 37.0 488.3 37.2 488.2 37.4 482.3 37.7 489.8 37.9 497.5 38.1 484.7 38.3 481.7 38.5 483.0 38.8 487.8 39.0 486.7 39.2 480.5 39.4 473.2 39.7 477.4 39.9 482.8 40.1 482.4 40.3 475.5 40.5 474.8 40.8 482.4 41.0 481.0 41.3 475.9 41.5 476.2 41.8 477.2 42.0 469.7 42.3 475.3 42.5 475.2 42.8 475.9 43.0 473.4 43.3 476.6 43.6 479.1 43.8 477.3 44.1 474.1 44.3 467.1 44.6 472.5 44.8 466.5 45.1 466.6 45.3 472.8 45.6 471.4 45.8 467.7 46.1 468.8 46.3 470.4 46.6 466.7 46.9 460.1 47.1 460.3 47.4 456.9 47.6 463.6 47.9 465.8 48.1 465.4 48.4 463.7 48.7 457.4 49.1 460.8 49.5 475.4 49.9 467.2 50.3 465.6 50.7 473.0 51.1 459.3 51.6 464.8 52.0 469.8 52.4 464.9 52.8 468.9 53.2 469.8 53.6 457.1 54.0 458.7 54.4 459.3 54.8 460.8 55.2 460.0 55.6 458.9 56.1 464.8 56.5 449.8 57.0 458.7 57.4 464.0 57.9 459.7 58.3 465.8 58.8 461.8 59.2 458.9 59.7 461.9 60.1 464.1 60.6 461.3 61.0 456.2 61.3 463.0 61.6 463.9 61.9 460.0 62.1 460.4 62.4 465.4 62.6 458.0 62.9 468.4 63.1 470.6 63.4 463.0 63.6 471.1 63.9 468.9 64.1 461.5 64.4 463.7 64.6 470.7 64.9 465.3 65.2 467.2 65.4 456.1 65.7 468.3 65.9 470.4 66.2 467.9 66.4 470.5 66.7 474.8 66.9 474.6 67.2 473.1 67.4 465.1 67.7 462.4 67.9 469.3 68.2 467.2 68.5 465.5 68.7 472.6 69.0 476.3 69.3 469.3 69.6 470.3 69.9 470.2 70.2 471.1 70.5 474.5 70.8 472.1 71.1 476.3 71.4 472.0 71.7 469.5 72.1 472.6 72.4 472.1 72.7 475.3 73.0 480.5 73.3 484.8 73.6 481.1 73.9 472.0 74.2 475.6 74.5 480.5 74.8 477.4 75.1 476.4 75.4 483.7 75.7 485.6 76.1 481.7 76.4 484.0 76.7 486.2 77.0 485.7 77.3 481.5 77.6 486.8 77.9 484.7 78.2 483.8 78.5 482.0 78.8 479.1 79.1 486.8 79.5 487.8 79.9 487.1 80.3 481.6 80.7 485.0 81.1 484.2 81.4 478.9 81.8 485.7 82.2 489.9 82.6 487.9 83.0 493.7 83.4 488.5 83.8 487.4 84.1 488.5 84.5 487.4 84.9 483.5 85.3 488.5 85.7 482.8 86.1 488.9 86.4 484.2 86.8 490.8 87.2 491.8 87.6 489.3 88.0 488.4 88.4 486.7 88.8 491.2 89.1 497.0 89.5 488.3 89.9 488.1 90.3 486.9 90.7 489.1 91.1 491.3 91.5 489.5 91.9 492.2 92.3 486.5 92.7 490.3 93.2 493.6 93.6 489.1 94.1 492.1 94.5 491.2 94.9 485.2 95.4 494.1 95.8 496.8 96.3 493.9 96.7 496.6 97.2 497.7 97.6 489.1 98.0 499.0 98.5 493.1 98.9 491.9 99.4 488.6 99.8 495.7 100.3 489.3 100.7 494.4 101.1 495.3 101.6 487.5 102.0 495.8 102.5 491.9 102.9 492.1 103.4 495.1 103.8 495.8 104.2 500.4 104.7 494.0 105.1 486.2 105.6 502.5 106.0 499.9 106.5 498.8 106.9 495.1 107.4 494.7 107.8 496.0 108.2 494.3 108.7 496.4 109.1 493.5 109.6 497.7 110.0 498.4 110.5 499.6 110.9 496.3 111.4 496.1 111.8 490.4 112.2 491.6 112.7 499.2 113.1 492.2 113.6 499.3 114.0 501.0 114.5 499.4 114.9 496.4 115.4 501.8 115.8 493.8 116.3 497.0 116.7 497.5 117.1 498.5 117.6 493.5 118.0 502.4 118.5 497.8 118.9 496.2 119.4 496.2 119.8 497.4 120.3 494.3 120.7 500.5 121.1 498.4 121.5 497.2 121.9 496.9 122.3 495.3 122.8 501.4 123.2 506.9 123.6 496.7 124.0 501.6 124.4 501.3 124.9 492.6 125.3 496.7 125.7 504.3 126.1 499.1 126.5 511.1 127.0 503.4 127.4 505.0 127.8 500.1 128.2 499.8 128.6 502.1 129.1 494.9 129.5 494.5 129.9 502.7 130.3 498.5 130.7 501.1 131.2 505.1 131.6 497.3 132.0 501.9 132.4 501.2 132.8 503.6 133.3 506.1 133.7 499.4 134.1 508.3 134.5 504.7 134.9 501.5 135.4 499.9 135.8 498.8 136.2 498.2 136.6 497.9 137.0 497.2 137.5 496.9 137.9 502.8 138.3 500.9 138.7 500.5 139.1 498.0 139.5 496.8 140.0 503.3 140.4 499.0 140.8 503.7 141.2 490.9 141.6 497.5 142.1 503.2 142.5 502.4 142.9 499.3 143.3 502.6 143.7 497.8 144.2 497.5 144.6 497.4 145.0 499.1 145.4 493.7 145.8 502.0 146.2 504.2 146.6 503.1 147.0 496.3 147.4 496.5 147.7 497.3 148.1 492.8 148.5 494.7 148.9 490.3 149.3 498.1 149.7 494.3 150.0 491.8 150.4 491.3 150.8 496.2 151.2 494.1 151.6 491.9 152.0 492.0 152.4 494.5 152.7 493.0 153.1 490.2 153.5 494.6 153.9 492.8 154.3 488.9 154.7 490.9 155.0 494.3 155.4 496.0 155.8 488.7 156.2 492.3 156.6 494.0 157.0 489.8 157.4 490.3 157.7 492.1 158.1 492.6 158.5 488.5 159.0 487.2 159.4 493.2 159.8 490.0 160.2 488.5 160.7 487.7 161.1 467.6 161.5 494.6 161.9 484.2 162.3 483.5 162.8 487.4 163.2 487.3 163.6 485.8 164.0 482.6 164.4 489.4 164.9 481.1 165.3 484.4 165.7 485.7 166.1 485.5 166.5 488.7 167.0 484.4 167.4 486.2 167.8 486.2 168.2 486.9 168.7 483.1 169.1 490.4 169.5 489.2 169.9 484.1 170.3 489.7 170.8 485.6 171.2 486.7 171.6 486.9 172.1 487.5 172.5 484.4 173.0 485.4 173.4 485.0 173.9 484.0 174.3 482.9 174.7 486.2 175.2 481.1 175.6 483.9 176.1 481.6 176.5 485.4 177.0 483.1 177.4 483.5 177.9 484.9 178.3 485.7 178.8 482.2 179.2 481.6 179.6 486.6 180.1 483.4 180.5 488.1 181.0 484.6 181.4 482.7 181.9 483.7 182.3 484.1 182.8 482.6 183.2 481.0 183.7 483.9 184.1 482.6 184.5 480.6 185.0 483.6 185.4 478.4 185.9 479.5 186.3 481.4 186.8 483.7 187.2 481.3 187.7 485.4 188.1 484.0 188.6 484.5 189.0 480.5 189.5 482.0 189.9 483.4 190.4 481.6 190.8 482.2 191.3 479.4 191.7 484.7 192.2 480.8 192.6 481.9 193.1 480.3 193.5 479.4 194.0 480.3 194.4 484.7 194.9 482.7 195.3 481.3 195.8 479.8 196.2 485.5 196.7 483.8 197.1 482.6 197.6 482.1 198.0 479.1 198.3 479.9 198.6 481.3 198.9 480.1 199.2 483.8 199.5 484.1 199.8 484.3 200.1 485.8 200.3 483.3 200.6 484.7 200.9 484.9 201.2 485.6 201.5 482.6 201.8 485.1 202.1 489.0 202.4 488.8 202.7 488.9 203.0 485.9 203.2 487.2 203.5 487.1 203.8 487.6 204.1 490.2 204.4 489.5 204.7 488.9 204.9 491.0 205.2 489.9 205.5 490.1 205.8 494.8 206.0 492.2 206.3 491.4 206.6 491.4 206.8 491.9 207.1 494.4 207.4 493.3 207.7 492.4 207.9 493.9 208.2 493.2 208.5 493.0 208.8 495.5 209.0 496.7 209.3 496.3 209.6 496.5 209.9 496.7 210.1 496.8 210.4 496.7 210.7 496.3 210.9 497.0 211.2 497.5 211.5 497.7 211.9 497.8 212.2 500.1 212.5 501.2 212.8 500.1 213.1 498.1 213.4 497.7 213.7 501.5 214.0 497.9 214.3 499.5 214.6 501.9 214.9 500.4 215.3 502.8 215.6 504.3 215.9 502.5 216.2 504.6 216.5 504.9 216.8 505.1 217.1 506.2 217.4 503.7 217.7 504.5 218.0 505.0 218.3 504.3 218.7 506.7 219.0 507.0 219.3 504.7 219.6 505.5 219.9 506.6 220.3 507.4 220.6 508.2 220.9 507.2 221.3 508.4 221.6 508.0 221.9 508.7 222.3 508.6 222.6 508.2 223.0 509.7 223.3 510.5 223.6 510.3 224.0 510.8 224.3 511.3 224.7 510.7 225.0 511.3 225.3 511.9 225.7 511.1 226.0 512.2 226.3 512.9 226.7 513.2 227.0 513.5 227.4 514.1 227.7 513.7 228.1 513.6 228.5 515.1 228.8 514.2 229.2 514.5 229.6 515.6 229.9 515.3 230.3 516.4 230.7 516.1 231.1 516.0 231.4 517.4 231.8 517.4 232.2 517.2 232.5 517.4 232.8 516.6 233.2 517.8 233.5 517.9" stroke="#000" stroke-width="0.8" fill="none" stroke-linejoin="round" opacity="1"/>
<path d="M29.8 495.25h3M29.8 472.5h3M29.8 449.75h3M29.8 427h3M29.8 404.25h3M70.54 518v-3M111.28 518v-3M152.02 518v-3M192.76 518v-3" stroke="#666666" stroke-width="1.1" fill="none"/>
<rect x="29.8" y="381.5" width="203.7" height="136.5" stroke="#666666" stroke-width="1.0" fill="none"/>
<text x="26.3" y="520.9" font-size="10" fill="#222" text-anchor="end" font-weight="normal" >0</text>
<text x="26.3" y="498.15" font-size="10" fill="#222" text-anchor="end" font-weight="normal" >1</text>
<text x="26.3" y="475.4" font-size="10" fill="#222" text-anchor="end" font-weight="normal" >2</text>
<text x="26.3" y="452.65" font-size="10" fill="#222" text-anchor="end" font-weight="normal" >3</text>
<text x="26.3" y="429.9" font-size="10" fill="#222" text-anchor="end" font-weight="normal" >4</text>
<text x="26.3" y="407.15" font-size="10" fill="#222" text-anchor="end" font-weight="normal" >5</text>
<text x="26.3" y="384.4" font-size="10" fill="#222" text-anchor="end" font-weight="normal" >6</text>
<text x="29.8" y="529.6" font-size="10" fill="#222" text-anchor="middle" font-weight="normal" >0</text>
<text x="70.54" y="529.6" font-size="10" fill="#222" text-anchor="middle" font-weight="normal" >10</text>
<text x="111.28" y="529.6" font-size="10" fill="#222" text-anchor="middle" font-weight="normal" >20</text>
<text x="152.02" y="529.6" font-size="10" fill="#222" text-anchor="middle" font-weight="normal" >30</text>
<text x="192.76" y="529.6" font-size="10" fill="#222" text-anchor="middle" font-weight="normal" >40</text>
<text x="233.5" y="529.6" font-size="10" fill="#222" text-anchor="middle" font-weight="normal" >50</text>
<text x="12.2" y="445.9" font-size="9.6" fill="#222" text-anchor="middle" font-weight="normal" transform="rotate(-90 12.2 445.9)">Impact force (kN)</text>
<text x="138.5" y="543.2" font-size="9.6" fill="#222" text-anchor="middle" font-weight="normal" >Displacement (mm)</text>
<text x="5.5" y="378" font-size="10" fill="#222" text-anchor="start" font-weight="normal" >(e)</text>
<g transform="translate(30.3 363.3) scale(1.0)"><path d="M0 2.7L3.4 0H9.5L11.4 2.7L10.8 15L3.4 17.2L0 15Z" fill="#2a8c6b"/><path d="M0 2.7L3.4 0H4.3L3.6 4.6H0.2Z" fill="#0b2118"/><path d="M7.4 3.2L11.4 2.7L10.8 15L7.4 16.3Z" fill="#0c271d"/></g>
<text x="45.5" y="377.8" font-size="9" fill="#222" text-anchor="start" font-weight="normal" >SPOH R = 10mm</text>
<text x="229" y="394" font-size="9.5" fill="#222" text-anchor="end" font-weight="normal" >Direct Penetration Mode</text>
<circle cx="42.45" cy="409.3" r="2.95" fill="none" stroke="#c4364c" stroke-width="0.6"/>
<text x="42.45" y="411.15" font-size="5.2" fill="#c4364c" text-anchor="middle">1</text>
<text x="50" y="412" font-size="7.3" fill="#c4364c" stroke="#c4364c" stroke-width="0.12" font-weight="bold" textLength="47" lengthAdjust="spacingAndGlyphs">indentation stage</text>
<path d="M30.5 415.6H58.5" stroke="#c4364c" stroke-width="1.0"/>
<path d="M30.5 415.6l3 -1.35v2.7z" fill="#c4364c"/>
<path d="M58.5 415.6l-3 -1.35v2.7z" fill="#c4364c"/>
<path d="M60.6 411.8V456.3" stroke="#c4364c" stroke-width="1.0" stroke-dasharray="2.1 1.4"/>
<circle cx="75.45" cy="426.6" r="2.95" fill="none" stroke="#3b8a5a" stroke-width="0.6"/>
<text x="75.45" y="428.45" font-size="5.2" fill="#3b8a5a" text-anchor="middle">3</text>
<text x="83" y="429.3" font-size="7.3" fill="#3b8a5a" stroke="#3b8a5a" stroke-width="0.12" font-weight="bold" textLength="42" lengthAdjust="spacingAndGlyphs">softening stage</text>
<path d="M62.4 434.2H131.5" stroke="#3b8a5a" stroke-width="1.0"/>
<path d="M62.4 434.2l3 -1.35v2.7z" fill="#3b8a5a"/>
<path d="M131.5 434.2l-3 -1.35v2.7z" fill="#3b8a5a"/>
<path d="M132.2 411.8V507.4" stroke="#3b8a5a" stroke-width="1.0" stroke-dasharray="2.1 1.4"/>
<circle cx="158.15" cy="450.9" r="2.95" fill="none" stroke="#a0743a" stroke-width="0.6"/>
<text x="158.15" y="452.75" font-size="5.2" fill="#a0743a" text-anchor="middle">4</text>
<text x="165.7" y="453.6" font-size="7.3" fill="#a0743a" stroke="#a0743a" stroke-width="0.12" font-weight="bold" textLength="47" lengthAdjust="spacingAndGlyphs">penetration stage</text>
<path d="M134 459H228.3" stroke="#a0743a" stroke-width="1.0"/>
<path d="M134 459l3 -1.35v2.7z" fill="#a0743a"/>
<path d="M228.3 459l-3 -1.35v2.7z" fill="#a0743a"/>
<path d="M230.8 442.4V517.6" stroke="#a0743a" stroke-width="1.0" stroke-dasharray="2.1 1.4"/>
<path d="M317.7 381.5V518M358.4 381.5V518M399.1 381.5V518M439.8 381.5V518M277 495.25H480.5M277 472.5H480.5M277 449.75H480.5M277 427H480.5M277 404.25H480.5" stroke="#e2e2e2" stroke-width="0.8" fill="none"/>
<path d="M277.0 511.0 277.1 510.2 277.2 510.3 277.3 511.4 277.4 512.4 277.5 511.5 277.6 508.5 277.7 505.5 277.8 504.4 277.9 505.5 277.9 506.6 278.0 507.6 278.1 508.6 278.3 510.0 278.6 507.5 278.9 513.3 279.2 508.0 279.5 505.4 279.8 504.5 280.2 508.1 280.5 506.3 280.8 505.2 281.1 502.8 281.4 503.0 281.7 497.9 282.1 501.3 282.4 506.7 282.7 506.0 283.0 501.6 283.3 498.0 283.6 501.5 284.0 502.2 284.3 500.3 284.6 503.1 284.9 504.8 285.2 498.3 285.6 500.1 285.9 503.9 286.2 501.1 286.5 497.6 286.8 499.1 287.2 498.1 287.5 501.3 287.8 499.4 288.1 496.5 288.4 489.7 288.7 500.4 289.1 503.7 289.4 493.6 289.7 490.0 290.0 494.7 290.3 499.6 290.7 495.2 291.0 497.6 291.3 495.7 291.6 491.5 291.9 497.1 292.3 494.3 292.6 493.8 292.9 493.3 293.2 493.5 293.5 490.2 293.8 490.0 294.2 492.1 294.5 491.6 294.8 487.3 295.1 487.8 295.4 494.6 295.8 493.1 296.1 492.7 296.4 491.7 296.7 492.5 297.0 489.9 297.3 483.5 297.7 488.4 298.0 490.1 298.3 489.8 298.6 485.1 298.9 486.6 299.3 484.9 299.6 483.9 299.9 488.6 300.2 479.8 300.5 485.8 300.8 481.8 301.1 485.9 301.4 482.3 301.7 483.3 301.9 479.6 302.2 483.5 302.5 483.3 302.8 483.5 303.1 483.8 303.3 482.8 303.6 483.6 303.9 480.0 304.2 483.9 304.5 483.7 304.8 481.4 305.0 480.6 305.3 475.5 305.6 477.2 305.9 479.2 306.2 479.8 306.4 478.1 306.7 469.2 307.0 473.1 307.3 474.0 307.6 473.7 307.9 474.9 308.1 475.0 308.4 475.6 308.7 476.3 309.0 480.8 309.3 479.5 309.5 478.5 309.8 472.9 310.1 471.1 310.4 471.7 310.7 467.0 311.0 471.9 311.4 475.4 311.7 473.7 312.1 470.8 312.5 470.5 312.8 473.3 313.2 472.1 313.5 467.8 313.9 465.3 314.3 471.4 314.6 466.5 315.0 469.5 315.4 468.4 315.7 469.8 316.1 468.3 316.5 466.4 316.8 462.2 317.2 466.8 317.5 463.2 317.9 469.4 318.3 464.4 318.6 466.7 319.0 467.2 319.4 465.4 319.7 459.2 320.1 466.3 320.4 464.2 320.8 465.8 321.2 459.6 321.6 461.2 322.1 468.7 322.5 465.7 323.0 462.5 323.4 465.2 323.8 461.8 324.3 458.0 324.7 465.3 325.1 461.3 325.6 463.5 326.0 459.0 326.4 461.1 326.9 464.6 327.3 466.2 327.8 467.2 328.2 464.3 328.6 458.4 329.1 459.0 329.5 461.7 329.9 463.7 330.4 464.2 330.8 465.3 331.2 461.9 331.5 467.0 331.7 461.7 332.0 464.1 332.2 461.3 332.5 466.6 332.7 466.5 333.0 467.6 333.3 470.5 333.5 470.3 333.8 467.1 334.0 462.7 334.3 464.8 334.6 470.3 334.8 465.6 334.8 465.3 334.9 465.1 334.9 466.0 334.9 466.9 335.0 467.8 335.0 468.7 335.0 469.6 335.0 470.5 335.1 471.4 335.1 472.3 335.1 473.2 335.2 473.9 335.2 474.5 335.2 475.2 335.3 475.8 335.3 476.4 335.3 477.1 335.4 477.7 335.4 478.3 335.4 479.0 335.4 479.3 335.5 479.5 335.5 479.8 335.5 480.0 335.6 480.2 335.6 480.4 335.6 480.6 335.7 480.8 335.7 481.1 335.7 481.4 335.8 482.0 335.8 482.6 335.8 483.2 335.9 483.8 335.9 484.4 335.9 485.0 335.9 485.6 336.0 486.1 336.0 486.7 336.3 485.0 336.7 483.5 337.2 487.8 337.6 482.6 338.0 488.4 338.5 488.4 338.9 483.6 339.3 484.2 339.7 486.0 340.2 483.6 340.6 486.6 341.0 490.2 341.5 485.2 341.9 486.8 342.3 486.1 342.7 490.8 343.2 492.1 343.6 488.7 344.0 491.0 344.4 488.6 344.8 487.5 345.2 488.3 345.6 493.6 346.0 485.0 346.4 490.7 346.8 489.9 347.2 493.8 347.6 486.7 348.0 494.9 348.4 492.1 348.8 492.9 349.2 497.6 349.6 491.1 350.0 493.8 350.4 491.5 350.8 493.8 351.2 491.0 351.6 489.0 352.0 491.9 352.4 494.0 352.8 496.6 353.2 492.8 353.6 494.9 354.0 488.8 354.3 493.1 354.7 483.3 355.0 494.1 355.3 492.7 355.6 494.8 355.9 498.3 356.3 491.0 356.6 489.0 356.9 499.1 357.2 494.9 357.5 493.3 357.9 497.5 358.2 500.5 358.5 501.7 358.8 498.4 359.1 496.6 359.4 500.3 359.8 499.7 360.1 499.8 360.4 502.7 360.7 503.5 361.0 503.6 361.4 500.1 361.7 501.4 362.1 497.7 362.6 500.1 363.0 502.7 363.4 495.9 363.9 499.4 364.3 495.4 364.7 502.4 365.2 501.3 365.6 493.5 366.0 501.6 366.5 500.3 366.9 488.2 367.4 498.6 367.8 501.9 368.2 498.2 368.7 501.9 369.1 495.2 369.5 497.4 370.0 496.4 370.4 502.4 370.8 498.2 371.3 493.8 371.7 496.6 372.2 500.2 372.6 495.8 373.0 501.0 373.5 503.1 373.9 498.8 374.3 493.4 374.8 496.9 375.2 501.3 375.7 495.2 376.1 499.6 376.5 498.1 377.0 492.1 377.4 499.2 377.8 497.4 378.3 502.3 378.7 494.6 379.2 496.5 379.6 494.3 380.0 493.6 380.5 497.3 380.9 492.8 381.4 494.2 381.8 494.6 382.2 491.5 382.7 495.9 383.1 491.5 383.6 495.9 384.0 495.9 384.5 493.9 384.9 495.7 385.4 494.5 385.8 495.5 386.3 493.5 386.7 495.9 387.2 495.1 387.6 489.4 388.0 489.3 388.5 497.9 388.9 497.3 389.4 495.2 389.8 499.3 390.3 499.0 390.7 493.2 391.2 497.2 391.6 497.2 392.1 491.5 392.5 503.2 393.0 491.5 393.4 487.1 393.9 494.7 394.3 493.6 394.7 495.5 395.2 492.3 395.6 491.9 396.1 489.3 396.5 478.9 396.9 492.2 397.4 498.1 397.8 491.9 398.3 490.2 398.7 494.4 399.1 490.6 399.6 492.3 400.0 490.0 400.5 495.3 400.9 494.5 401.3 494.4 401.8 491.7 402.2 495.8 402.6 493.8 403.1 491.6 403.5 492.4 404.0 490.4 404.4 488.9 404.8 492.5 405.3 492.9 405.7 489.6 406.2 491.8 406.6 491.3 407.0 490.4 407.5 488.4 407.9 490.3 408.3 491.5 408.8 492.4 409.2 487.6 409.6 489.9 410.1 490.2 410.5 490.8 411.0 484.8 411.4 490.5 411.8 490.1 412.3 488.6 412.7 487.8 413.1 485.4 413.6 484.9 414.0 483.0 414.4 485.5 414.9 488.3 415.3 486.7 415.8 485.9 416.2 490.3 416.6 486.8 417.1 484.6 417.5 488.6 417.9 488.3 418.4 491.5 418.8 484.9 419.2 487.3 419.6 488.3 419.9 486.2 420.3 486.8 420.7 487.8 421.1 491.1 421.5 492.2 421.9 491.0 422.3 493.9 422.7 492.5 423.1 483.6 423.5 492.0 423.9 492.8 424.3 492.8 424.7 489.4 425.1 494.5 425.5 492.3 425.9 489.2 426.3 491.8 426.6 493.2 426.9 494.7 427.3 496.6 427.6 493.5 427.9 493.7 428.2 496.0 428.6 499.6 428.9 495.1 429.2 499.7 429.6 496.5 429.9 492.4 430.2 499.0 430.6 494.8 430.9 493.4 431.2 496.0 431.5 500.6 431.9 499.3 432.2 496.4 432.5 499.3 432.9 494.8 433.2 495.6 433.6 496.9 434.0 500.2 434.4 499.3 434.8 499.3 435.2 495.6 435.6 499.5 436.0 494.2 436.4 497.4 436.8 502.3 437.2 502.9 437.6 504.3 438.0 504.7 438.4 501.5 438.8 504.8 439.2 498.3 439.6 502.0 440.0 500.2 440.4 505.0 440.8 505.9 441.2 502.1 441.6 503.0 442.0 496.4 442.4 504.8 442.8 503.9 443.2 510.9 443.6 503.0 444.0 503.2 444.4 509.9 444.8 509.1 445.2 507.2 445.6 509.2 446.0 507.7 446.4 501.9 446.8 503.2 447.3 503.1 447.7 507.8 448.1 503.3 448.6 503.9 449.0 504.8 449.4 501.1 449.9 509.5 450.3 499.8 450.7 503.6 451.2 504.7 451.6 501.6 452.1 507.5 452.5 505.2 452.9 506.7 453.4 504.2 453.8 512.2 454.2 503.9 454.7 510.4 455.1 510.0 455.5 508.1 456.0 505.1 456.4 509.8 456.9 510.8 457.3 510.6 457.7 510.9 458.2 509.1 458.6 509.0 459.0 509.8 459.5 508.7 459.9 509.1 460.3 510.2 460.8 508.1 461.2 509.2 461.6 508.8 462.1 509.4 462.5 510.3 463.0 510.5 463.4 509.4 463.8 510.7 464.3 510.0 464.7 510.4 465.1 512.9 465.6 512.7 466.0 512.1 466.4 511.2 466.9 508.6 467.3 511.8 467.7 510.9 468.2 510.8 468.6 510.8 469.0 510.9 469.5 511.0 469.9 512.3 470.3 512.5 470.8 512.7 471.2 512.0 471.6 512.3 472.0 512.1 472.5 513.1 472.9 514.7 473.3 512.8 473.7 512.0 474.1 513.7 474.5 505.1 474.9 513.9 475.3 513.3 475.7 514.5 476.1 515.1 476.5 513.9 476.9 514.3 477.4 515.0 477.8 515.7 478.2 514.2 478.6 515.6 479.0 516.2 479.3 516.0 479.6 516.1 479.8 516.8 480.0 517.2 480.3 516.6 480.5 517.9" stroke="#000" stroke-width="0.85" fill="none" stroke-linejoin="round" opacity="1"/>
<path d="M277.0 512.8 277.1 512.3 277.1 511.8 277.2 511.6 277.3 511.6 277.3 511.5 277.4 511.4 277.4 511.2 277.5 510.6 277.6 509.9 277.6 509.3 277.7 508.7 277.8 507.7 277.8 506.5 277.9 506.1 277.9 504.1 278.0 503.1 278.1 503.6 278.1 504.0 278.2 504.4 278.4 504.8 278.7 505.9 279.1 501.8 279.4 499.8 279.7 501.0 280.0 505.5 280.3 503.6 280.6 496.2 281.0 502.8 281.3 497.6 281.6 505.5 281.9 508.5 282.2 505.8 282.5 500.6 282.9 496.5 283.2 496.3 283.5 492.6 283.8 499.0 284.1 497.5 284.4 496.7 284.8 501.3 285.1 495.3 285.4 499.7 285.7 500.2 286.0 498.3 286.4 494.6 286.7 500.4 287.0 498.7 287.3 495.6 287.6 495.8 288.0 495.4 288.3 486.2 288.6 490.1 288.9 497.8 289.2 495.7 289.5 494.9 289.9 492.9 290.2 489.8 290.5 492.5 290.8 486.0 291.1 492.3 291.5 491.3 291.8 490.8 292.1 491.1 292.4 486.8 292.7 487.6 293.0 488.0 293.4 483.5 293.7 490.4 294.0 496.5 294.3 489.6 294.6 488.3 295.0 488.3 295.3 491.4 295.6 491.7 295.9 488.7 296.2 480.2 296.5 481.9 296.9 493.0 297.2 488.2 297.5 481.4 297.8 484.5 298.1 487.1 298.4 491.4 298.8 486.8 299.1 480.7 299.4 482.9 299.7 486.2 300.0 485.6 300.4 482.7 300.7 482.6 300.9 483.9 301.2 482.4 301.5 477.0 301.8 467.9 302.1 480.1 302.4 477.7 302.6 482.5 302.9 483.0 303.2 476.2 303.5 477.0 303.8 470.8 304.0 482.1 304.3 472.4 304.6 476.6 304.9 478.2 305.2 478.0 305.4 471.8 305.7 472.0 306.0 475.9 306.3 473.0 306.6 471.2 306.9 478.0 307.1 474.7 307.4 479.7 307.7 477.4 308.0 467.9 308.3 473.5 308.5 473.0 308.8 475.6 309.1 464.2 309.4 470.3 309.7 465.8 310.0 470.5 310.2 472.5 310.5 470.3 310.8 472.1 311.2 462.0 311.5 467.1 311.9 467.8 312.2 468.9 312.6 465.6 313.0 471.0 313.3 470.2 313.7 467.8 314.1 469.7 314.4 464.9 314.8 469.6 315.2 467.0 315.5 469.3 315.9 466.5 316.2 470.1 316.6 464.1 317.0 466.1 317.3 464.0 317.7 466.4 318.1 461.5 318.4 466.7 318.8 463.6 319.1 466.0 319.5 456.3 319.9 457.7 320.2 461.2 320.6 464.8 321.0 460.6 321.4 462.1 321.8 459.9 322.3 460.6 322.7 460.0 323.1 459.6 323.6 462.7 324.0 455.5 324.4 465.1 324.9 464.8 325.3 460.7 325.7 455.0 326.2 459.5 326.6 462.4 327.1 466.2 327.5 456.9 327.9 461.0 328.4 462.8 328.8 451.4 329.2 464.0 329.7 464.1 330.1 462.9 330.5 462.0 331.0 458.3 331.3 458.1 331.6 456.8 331.8 457.4 332.1 458.2 332.3 448.0 332.6 461.2 332.8 458.2 333.1 461.5 333.4 450.6 333.6 462.8 333.9 462.8 334.1 462.3 334.4 462.7 334.7 464.9 334.8 467.0 334.8 467.8 334.9 468.4 334.9 468.7 334.9 469.0 335.0 469.3 335.0 469.6 335.0 469.9 335.1 470.2 335.1 470.5 335.1 470.8 335.1 471.1 335.2 471.5 335.2 471.8 335.2 472.1 335.3 472.4 335.3 472.8 335.3 473.1 335.4 473.4 335.4 473.7 335.4 474.1 335.5 474.5 335.5 475.0 335.5 475.4 335.6 475.9 335.6 476.4 335.6 476.8 335.6 477.3 335.7 477.7 335.7 478.2 335.7 478.8 335.8 479.4 335.8 480.0 335.8 480.6 335.9 481.2 335.9 481.8 335.9 482.4 336.0 483.0 336.0 483.6 336.0 484.1 336.5 485.2 336.9 479.7 337.3 478.7 337.7 483.1 338.2 482.8 338.6 481.2 339.0 482.4 339.5 486.4 339.9 481.6 340.3 480.9 340.7 484.9 341.2 482.0 341.6 487.8 342.0 485.3 342.5 483.8 342.9 486.5 343.3 480.1 343.7 486.5 344.1 486.2 344.5 489.5 344.9 485.4 345.4 488.8 345.8 487.9 346.2 484.7 346.6 490.4 347.0 485.2 347.4 488.9 347.8 486.6 348.2 492.2 348.6 487.6 349.0 489.8 349.4 490.3 349.8 487.9 350.2 485.8 350.6 482.0 351.0 489.6 351.4 486.4 351.8 489.8 352.2 486.4 352.6 492.5 353.0 490.9 353.4 492.5 353.8 486.4 354.1 483.6 354.4 491.1 354.8 487.5 355.1 487.3 355.4 494.6 355.7 493.1 356.0 493.6 356.4 491.2 356.7 491.9 357.0 496.0 357.3 495.4 357.6 497.1 357.9 497.8 358.3 493.0 358.6 492.4 358.9 493.6 359.2 490.3 359.5 492.3 359.9 493.9 360.2 495.7 360.5 501.5 360.8 496.1 361.1 498.6 361.5 499.1 361.8 497.8 362.3 494.1 362.7 494.6 363.1 496.2 363.6 498.0 364.0 496.3 364.4 496.8 364.9 503.9 365.3 496.5 365.7 490.6 366.2 500.7 366.6 496.9 367.0 492.6 367.5 498.1 367.9 498.5 368.3 499.3 368.8 495.2 369.2 492.9 369.7 494.3 370.1 494.6 370.5 497.4 371.0 495.0 371.4 494.9 371.8 499.9 372.3 502.7 372.7 490.5 373.1 499.1 373.6 489.7 374.0 491.9 374.5 496.5 374.9 493.5 375.3 487.8 375.8 497.2 376.2 494.6 376.6 495.5 377.1 494.7 377.5 492.7 378.0 492.1 378.4 491.9 378.8 494.1 379.3 488.8 379.7 495.1 380.1 491.1 380.6 491.3 381.0 494.7 381.5 497.3 381.9 491.2 382.3 490.1 382.8 495.9 383.2 496.4 383.7 490.8 384.1 496.2 384.6 499.9 385.0 490.3 385.5 494.6 385.9 497.4 386.4 494.7 386.8 489.0 387.3 493.1 387.7 491.6 388.2 491.7 388.6 497.0 389.0 492.6 389.5 492.4 389.9 491.9 390.4 495.3 390.8 495.3 391.3 492.5 391.7 491.5 392.2 492.1 392.6 489.7 393.1 490.3 393.5 493.8 394.0 493.0 394.4 493.5 394.8 493.2 395.3 491.2 395.7 497.2 396.2 492.4 396.6 494.1 397.0 494.8 397.5 491.5 397.9 491.0 398.4 490.9 398.8 484.9 399.2 488.7 399.7 486.0 400.1 486.8 400.5 486.1 401.0 484.7 401.4 488.9 401.9 485.3 402.3 490.8 402.7 486.8 403.2 485.0 403.6 489.1 404.0 492.2 404.5 487.7 404.9 489.1 405.4 491.8 405.8 486.6 406.2 485.6 406.7 489.0 407.1 489.3 407.6 489.2 408.0 487.7 408.4 487.9 408.9 490.7 409.3 486.4 409.7 485.7 410.2 492.0 410.6 479.6 411.0 485.9 411.5 486.0 411.9 484.8 412.3 484.2 412.8 488.9 413.2 489.6 413.7 488.0 414.1 482.6 414.5 486.5 415.0 484.1 415.4 483.0 415.8 486.1 416.3 488.0 416.7 484.0 417.1 485.4 417.6 487.4 418.0 481.7 418.4 488.2 418.8 487.1 419.2 484.2 419.6 483.5 420.0 476.4 420.4 481.6 420.8 488.3 421.2 481.9 421.6 481.8 422.0 487.4 422.4 487.8 422.8 485.4 423.2 486.0 423.6 485.7 424.0 484.6 424.4 491.1 424.8 487.3 425.2 491.9 425.6 489.1 426.0 490.8 426.3 487.1 426.7 490.1 427.0 489.8 427.3 490.9 427.6 480.4 428.0 488.8 428.3 491.7 428.6 493.0 429.0 492.9 429.3 490.9 429.6 477.6 429.9 492.2 430.3 494.4 430.6 493.8 430.9 490.4 431.3 494.4 431.6 495.9 431.9 500.2 432.3 491.3 432.6 498.0 432.9 495.8 433.2 492.7 433.6 496.5 434.0 491.4 434.4 491.3 434.8 496.7 435.2 496.1 435.6 499.3 436.0 497.4 436.4 496.2 436.8 496.8 437.2 497.6 437.6 500.9 438.0 495.6 438.4 499.9 438.8 499.6 439.2 499.1 439.6 500.9 440.0 500.6 440.4 500.9 440.8 494.0 441.2 489.3 441.6 504.5 442.0 495.6 442.4 499.7 442.8 500.2 443.2 501.4 443.6 502.8 444.0 498.9 444.4 501.2 444.8 503.8 445.2 506.4 445.6 505.5 446.0 497.9 446.4 500.6 446.8 503.8 447.3 506.3 447.7 497.0 448.1 504.1 448.5 508.2 449.0 512.0 449.4 508.8 449.8 505.1 450.2 502.1 450.6 504.4 451.1 505.8 451.5 504.3 451.9 501.1 452.3 504.0 452.8 510.3 453.2 508.7 453.6 508.2 454.0 506.9 454.4 508.1 454.9 504.0 455.3 506.7 455.7 504.1 456.1 506.9 456.5 504.7 457.0 505.7 457.4 506.4 457.8 507.2 458.2 505.1 458.7 505.6 459.1 504.3 459.5 506.8 459.9 507.3 460.3 508.4 460.8 508.7 461.2 507.1 461.6 506.9 462.0 509.9 462.4 509.3 462.8 508.0 463.3 509.3 463.7 507.8 464.1 509.2 464.5 509.1 464.9 509.5 465.4 511.7 465.8 510.0 466.2 509.6 466.6 511.5 467.0 509.9 467.5 510.2 467.9 507.3 468.3 509.7 468.7 511.4 469.1 510.1 469.6 512.3 470.0 510.9 470.4 513.5 470.8 513.0 471.2 512.1 471.6 512.4 472.1 511.3 472.5 512.4 472.9 513.6 473.3 512.9 473.7 514.2 474.1 514.9 474.5 513.0 474.9 514.7 475.3 513.7 475.7 515.0 476.1 512.7 476.5 515.7 476.9 515.9 477.4 514.7 477.8 514.6 478.2 516.6 478.6 516.6 479.0 516.9 479.3 518.0 479.6 515.9 479.8 516.9 480.0 518.0 480.3 516.6 480.5 518.0" stroke="#000" stroke-width="0.85" fill="none" stroke-linejoin="round" opacity="1"/>
<path d="M277.0 513.6 277.0 512.4 277.1 512.2 277.1 512.1 277.2 511.7 277.2 511.3 277.3 510.9 277.3 510.5 277.4 510.2 277.4 509.8 277.5 509.2 277.5 508.5 277.6 507.9 277.6 507.3 277.7 506.7 277.7 506.1 277.8 505.6 277.8 505.2 277.9 504.7 277.9 504.2 278.0 503.8 278.0 503.3 278.1 503.1 278.1 502.9 278.2 502.6 278.2 502.4 278.4 500.0 278.7 499.2 279.1 504.1 279.4 504.0 279.7 503.9 280.0 502.9 280.3 495.5 280.6 492.0 281.0 492.0 281.3 496.6 281.6 496.4 281.9 497.3 282.2 497.1 282.5 495.5 282.9 494.3 283.2 492.6 283.5 492.1 283.8 495.7 284.1 495.9 284.5 497.3 284.8 496.2 285.1 496.6 285.4 500.5 285.7 488.2 286.0 493.0 286.4 493.5 286.7 495.1 287.0 494.2 287.3 490.5 287.6 494.4 288.0 489.3 288.3 485.2 288.6 486.6 288.9 485.2 289.2 486.9 289.6 487.6 289.9 489.3 290.2 490.8 290.5 489.7 290.8 486.6 291.2 490.0 291.5 479.5 291.8 484.1 292.1 474.2 292.4 488.7 292.7 487.4 293.1 488.6 293.4 485.8 293.7 486.7 294.0 490.0 294.3 480.8 294.6 483.6 295.0 487.9 295.3 485.4 295.6 484.2 295.9 487.7 296.2 477.9 296.6 479.3 296.9 483.1 297.2 481.7 297.5 483.9 297.8 478.4 298.1 480.1 298.5 484.0 298.8 479.2 299.1 478.7 299.4 487.8 299.7 483.4 300.1 481.1 300.4 478.8 300.7 478.1 301.0 480.3 301.2 474.9 301.5 476.2 301.8 479.3 302.1 479.7 302.4 476.8 302.7 476.3 302.9 480.0 303.2 480.5 303.5 474.4 303.8 473.7 304.1 476.1 304.3 474.9 304.6 473.0 304.9 472.8 305.2 475.0 305.5 470.2 305.8 471.8 306.0 476.9 306.3 469.5 306.6 479.3 306.9 470.7 307.2 476.3 307.4 469.8 307.7 475.6 308.0 469.6 308.3 469.7 308.6 465.7 308.8 471.8 309.1 472.0 309.4 473.2 309.7 463.0 310.0 472.9 310.3 467.3 310.5 471.5 310.8 468.5 311.2 462.8 311.6 465.9 311.9 463.2 312.3 463.1 312.6 464.1 313.0 466.5 313.4 466.3 313.7 465.6 314.1 465.1 314.5 465.7 314.8 464.8 315.2 465.5 315.6 461.6 315.9 463.7 316.3 463.7 316.6 460.1 317.0 451.0 317.4 459.3 317.7 467.8 318.1 460.8 318.5 460.8 318.8 459.3 319.2 462.9 319.5 459.8 319.9 460.9 320.3 457.0 320.6 463.7 321.0 459.6 321.4 461.0 321.9 458.3 322.3 457.9 322.7 461.1 323.2 463.3 323.6 459.0 324.1 463.6 324.5 467.2 324.9 458.1 325.4 456.8 325.8 459.9 326.2 460.9 326.7 460.8 327.1 462.0 327.5 454.9 328.0 458.3 328.4 454.3 328.9 458.8 329.3 451.6 329.7 454.8 330.2 457.8 330.6 456.9 331.0 457.0 331.3 457.2 331.6 454.5 331.8 455.2 332.1 457.5 332.4 455.7 332.6 456.4 332.9 457.3 333.1 467.2 333.4 461.5 333.7 461.9 333.9 462.3 334.2 462.7 334.4 463.5 334.7 461.5 334.8 459.3 334.8 459.0 334.9 459.5 334.9 460.5 334.9 461.5 335.0 462.4 335.0 463.4 335.0 464.4 335.1 465.4 335.1 466.4 335.1 467.3 335.2 468.2 335.2 468.8 335.2 469.4 335.2 470.0 335.3 470.6 335.3 471.2 335.3 471.8 335.4 472.5 335.4 473.1 335.4 473.6 335.5 473.3 335.5 473.0 335.5 472.8 335.6 472.5 335.6 472.2 335.6 472.0 335.6 471.7 335.7 471.4 335.7 471.2 335.7 472.0 335.8 473.0 335.8 473.9 335.8 474.9 335.9 475.9 335.9 476.8 335.9 477.8 336.0 478.8 336.0 479.7 336.1 479.2 336.5 480.8 337.0 484.9 337.4 483.5 337.8 479.4 338.2 480.8 338.7 482.4 339.1 471.7 339.5 481.6 340.0 478.4 340.4 479.1 340.8 482.3 341.3 483.5 341.7 481.9 342.1 480.9 342.5 481.1 343.0 483.5 343.4 483.7 343.8 480.0 344.2 479.4 344.6 491.3 345.0 478.5 345.4 485.3 345.8 483.8 346.2 481.4 346.6 478.7 347.0 482.2 347.4 477.9 347.8 480.7 348.2 483.6 348.6 482.6 349.0 486.2 349.4 491.2 349.8 481.9 350.2 489.9 350.6 487.0 351.0 487.4 351.4 479.2 351.8 485.7 352.2 484.0 352.6 485.1 353.1 486.6 353.5 480.2 353.9 484.3 354.2 487.8 354.5 485.6 354.8 483.8 355.1 488.2 355.5 490.2 355.8 490.7 356.1 491.7 356.4 491.7 356.7 489.1 357.1 493.3 357.4 488.1 357.7 489.7 358.0 493.3 358.3 487.6 358.7 489.3 359.0 495.1 359.3 491.4 359.6 495.2 359.9 495.5 360.2 494.4 360.6 492.7 360.9 494.6 361.2 492.6 361.5 497.0 361.9 495.9 362.3 494.7 362.8 495.1 363.2 493.4 363.7 495.5 364.1 494.3 364.5 495.8 365.0 497.7 365.4 501.1 365.8 494.4 366.3 493.6 366.7 492.4 367.1 495.0 367.6 494.0 368.0 496.2 368.4 495.0 368.9 492.9 369.3 493.2 369.8 493.0 370.2 494.4 370.6 493.6 371.1 491.0 371.5 491.6 371.9 495.9 372.4 491.1 372.8 488.2 373.3 491.9 373.7 496.3 374.1 488.4 374.6 492.7 375.0 489.8 375.4 488.5 375.9 491.4 376.3 495.4 376.8 490.6 377.2 491.8 377.6 491.9 378.1 489.6 378.5 490.3 378.9 491.1 379.4 493.4 379.8 491.5 380.3 494.3 380.7 490.4 381.1 491.9 381.6 487.0 382.0 487.4 382.5 490.4 382.9 486.1 383.4 486.6 383.8 494.3 384.2 491.5 384.7 489.4 385.1 490.5 385.6 486.3 386.0 488.0 386.5 485.4 386.9 491.2 387.4 486.6 387.8 491.2 388.3 491.5 388.7 495.4 389.2 484.6 389.6 475.8 390.1 489.0 390.5 489.5 391.0 486.6 391.4 482.9 391.8 479.9 392.3 485.4 392.7 485.7 393.2 485.4 393.6 487.4 394.1 488.1 394.5 485.1 395.0 487.7 395.4 485.6 395.9 485.2 396.3 485.6 396.7 484.8 397.2 488.2 397.6 486.2 398.0 483.1 398.5 486.6 398.9 485.1 399.4 484.2 399.8 487.1 400.2 490.3 400.7 483.2 401.1 487.3 401.5 484.1 402.0 487.6 402.4 489.2 402.9 487.3 403.3 485.2 403.7 481.4 404.2 482.8 404.6 475.0 405.1 484.8 405.5 489.7 405.9 486.9 406.4 486.2 406.8 483.8 407.2 485.5 407.7 489.9 408.1 485.6 408.6 481.1 409.0 483.9 409.4 488.4 409.9 485.5 410.3 484.3 410.7 482.7 411.2 487.7 411.6 482.5 412.0 481.8 412.5 481.5 412.9 483.0 413.4 482.6 413.8 481.4 414.2 480.1 414.7 483.8 415.1 486.3 415.5 483.1 416.0 481.4 416.4 481.4 416.8 482.2 417.3 483.7 417.7 483.6 418.1 479.8 418.6 482.8 419.0 484.0 419.4 478.6 419.7 482.4 420.1 480.4 420.5 485.0 420.9 476.2 421.3 483.3 421.7 481.4 422.1 482.0 422.5 483.7 422.9 482.6 423.3 480.8 423.7 478.4 424.1 479.8 424.5 486.5 424.9 487.3 425.3 485.4 425.7 488.5 426.1 489.5 426.4 489.3 426.8 483.3 427.1 481.9 427.4 491.6 427.8 485.7 428.1 486.2 428.4 490.3 428.7 488.3 429.1 484.6 429.4 485.1 429.7 488.5 430.1 491.2 430.4 491.9 430.7 490.7 431.1 490.6 431.4 490.1 431.7 499.8 432.0 488.9 432.4 495.5 432.7 495.8 433.0 489.4 433.4 488.7 433.8 485.0 434.2 492.6 434.6 492.8 435.0 493.9 435.4 495.0 435.8 499.6 436.2 492.9 436.6 490.1 437.0 496.1 437.4 493.8 437.8 494.4 438.2 496.9 438.6 496.7 439.0 494.9 439.4 500.9 439.8 498.2 440.2 500.5 440.6 500.7 441.0 497.0 441.4 495.7 441.8 497.6 442.2 497.0 442.6 495.0 443.0 500.3 443.4 496.0 443.8 497.8 444.2 501.1 444.6 501.5 445.0 495.2 445.4 499.1 445.8 503.5 446.2 501.2 446.6 501.6 447.0 502.8 447.4 501.1 447.8 502.2 448.2 504.0 448.6 500.8 449.0 502.4 449.4 501.1 449.8 497.4 450.2 500.8 450.6 501.3 451.0 498.0 451.4 505.3 451.8 503.4 452.3 506.3 452.7 500.1 453.1 504.9 453.5 501.1 453.9 500.1 454.3 499.9 454.7 506.4 455.1 503.1 455.5 500.0 455.9 505.5 456.3 506.3 456.7 505.1 457.1 507.5 457.5 502.5 457.9 505.5 458.3 506.3 458.7 503.0 459.1 505.8 459.6 505.4 460.0 507.1 460.4 507.7 460.8 505.5 461.2 509.8 461.6 507.1 462.0 505.8 462.4 509.4 462.8 508.3 463.2 509.4 463.6 507.1 464.0 506.6 464.4 507.9 464.8 507.8 465.2 509.9 465.6 511.5 466.0 511.0 466.4 510.0 466.8 510.3 467.2 510.9 467.6 511.2 468.0 512.7 468.4 510.4 468.8 510.4 469.2 512.9 469.6 511.9 470.0 511.8 470.4 511.9 470.8 512.2 471.2 512.1 471.6 512.3 472.0 512.5 472.5 514.1 472.9 514.1 473.3 513.1 473.7 512.6 474.1 514.1 474.5 513.1 474.9 514.7 475.3 514.3 475.7 513.9 476.1 514.1 476.5 514.6 476.9 514.8 477.4 515.3 477.8 515.6 478.2 514.7 478.6 513.2 479.0 516.0 479.3 516.2 479.6 516.6 479.8 516.7 480.0 516.9 480.3 517.9 480.5 517.1" stroke="#000" stroke-width="0.85" fill="none" stroke-linejoin="round" opacity="1"/>
<path d="M277.0 517.2 277.0 517.1 277.1 517.0 277.1 516.9 277.2 516.3 277.2 514.5 277.2 512.7 277.3 510.9 277.3 509.1 277.4 507.3 277.4 505.5 277.4 503.7 277.5 503.3 277.5 502.9 277.5 502.6 277.6 502.3 277.6 501.9 277.7 501.6 277.7 501.2 277.7 501.3 277.8 501.6 277.8 501.9 277.9 502.2 277.9 502.5 277.9 502.8 278.0 503.1 278.0 503.2 278.1 502.9 278.1 502.6 278.1 502.3 278.2 502.0 278.2 501.7 278.4 501.5 278.7 500.4 279.1 500.1 279.4 487.5 279.7 492.9 280.0 498.2 280.3 496.1 280.6 495.4 280.9 501.9 281.3 495.1 281.6 493.1 281.9 496.6 282.2 494.0 282.5 492.0 282.8 492.0 283.2 492.7 283.5 493.4 283.8 492.2 284.1 488.8 284.4 491.6 284.8 492.7 285.1 492.1 285.4 485.9 285.7 493.7 286.0 491.8 286.4 490.1 286.7 492.7 287.0 493.3 287.3 493.0 287.6 491.4 288.0 473.9 288.3 487.4 288.6 488.9 288.9 488.6 289.2 491.7 289.5 486.1 289.9 487.0 290.2 487.7 290.5 492.4 290.8 483.6 291.1 490.2 291.5 482.9 291.8 483.0 292.1 483.1 292.4 483.7 292.7 487.1 293.0 481.9 293.4 482.7 293.7 479.1 294.0 479.4 294.3 481.2 294.6 483.1 295.0 481.2 295.3 475.6 295.6 480.3 295.9 482.9 296.2 482.0 296.5 478.0 296.9 480.9 297.2 483.1 297.5 472.2 297.8 480.3 298.1 479.1 298.5 479.2 298.8 475.2 299.1 481.6 299.4 479.4 299.7 483.1 300.0 475.1 300.4 475.5 300.7 477.5 301.0 475.3 301.2 473.5 301.5 474.1 301.8 478.5 302.1 477.9 302.4 473.1 302.6 472.8 302.9 476.9 303.2 473.4 303.5 472.0 303.8 472.2 304.1 472.3 304.3 473.4 304.6 475.9 304.9 472.7 305.2 470.4 305.5 470.9 305.7 471.3 306.0 466.6 306.3 470.1 306.6 472.7 306.9 465.1 307.1 473.9 307.4 468.6 307.7 471.0 308.0 465.3 308.3 465.7 308.6 468.9 308.8 470.8 309.1 471.0 309.4 463.9 309.7 465.8 310.0 464.2 310.2 464.0 310.5 465.2 310.8 460.9 311.2 466.0 311.5 462.4 311.9 462.0 312.3 460.8 312.6 462.7 313.0 464.3 313.4 461.3 313.7 453.5 314.1 461.1 314.4 461.2 314.8 457.4 315.2 460.1 315.5 454.0 315.9 460.7 316.3 459.0 316.6 463.0 317.0 459.8 317.4 462.2 317.7 458.4 318.1 461.5 318.4 459.0 318.8 464.1 319.2 457.8 319.5 459.3 319.9 457.4 320.3 457.8 320.6 462.3 321.0 457.0 321.4 446.9 321.9 452.9 322.3 451.6 322.7 454.8 323.2 455.1 323.6 461.0 324.0 453.6 324.5 461.3 324.9 453.5 325.3 455.9 325.8 454.6 326.2 452.0 326.7 458.1 327.1 453.1 327.5 451.2 328.0 457.4 328.4 456.4 328.8 462.4 329.3 454.6 329.7 459.2 330.1 454.6 330.6 459.2 331.0 456.1 331.3 458.0 331.6 457.0 331.8 455.7 332.1 455.6 332.4 458.6 332.6 450.3 332.9 455.0 333.1 459.6 333.4 455.3 333.6 458.3 333.9 457.9 334.2 461.1 334.4 459.4 334.7 456.0 334.8 458.0 334.8 458.8 334.9 459.6 334.9 460.3 334.9 460.9 335.0 461.6 335.0 462.3 335.0 463.0 335.1 463.7 335.1 464.4 335.1 465.1 335.2 465.5 335.2 465.2 335.2 464.9 335.2 464.6 335.3 464.3 335.3 464.0 335.3 463.7 335.4 463.4 335.4 463.1 335.4 462.9 335.5 464.5 335.5 466.2 335.5 467.8 335.6 469.4 335.6 471.0 335.6 472.6 335.6 474.3 335.7 475.9 335.7 477.5 335.7 477.8 335.8 477.9 335.8 478.1 335.8 478.2 335.9 478.3 335.9 478.4 335.9 478.5 336.0 478.6 336.0 478.7 336.1 478.2 336.5 474.7 336.9 479.8 337.4 481.5 337.8 473.9 338.2 476.6 338.7 479.1 339.1 477.1 339.5 473.9 339.9 472.0 340.4 474.4 340.8 480.8 341.2 477.4 341.7 476.1 342.1 475.9 342.5 481.1 342.9 478.9 343.4 478.4 343.8 480.7 344.2 479.6 344.6 482.8 345.0 481.8 345.4 478.4 345.8 481.6 346.2 484.2 346.6 478.7 347.0 483.4 347.4 484.8 347.8 479.2 348.2 478.1 348.6 480.1 349.0 481.3 349.4 482.5 349.8 483.9 350.2 485.8 350.6 482.3 351.0 484.9 351.4 479.2 351.8 482.8 352.2 484.7 352.6 485.4 353.0 479.6 353.4 482.7 353.8 479.2 354.2 485.2 354.5 486.9 354.8 488.1 355.1 490.4 355.4 492.1 355.8 483.0 356.1 483.4 356.4 489.1 356.7 484.7 357.0 486.2 357.4 493.9 357.7 487.4 358.0 495.7 358.3 490.5 358.6 492.8 359.0 492.5 359.3 494.1 359.6 490.9 359.9 492.0 360.2 492.8 360.5 491.0 360.9 495.7 361.2 494.1 361.5 497.8 361.9 500.6 362.3 495.0 362.8 493.8 363.2 492.3 363.6 488.4 364.1 491.9 364.5 485.7 364.9 490.7 365.4 487.2 365.8 487.2 366.2 493.2 366.7 493.2 367.1 490.1 367.6 490.6 368.0 490.2 368.4 489.2 368.9 496.2 369.3 486.9 369.7 486.7 370.2 485.1 370.6 493.3 371.0 493.3 371.5 487.5 371.9 491.7 372.3 487.8 372.8 490.2 373.2 489.6 373.7 489.3 374.1 491.1 374.5 492.4 375.0 491.9 375.4 496.1 375.9 484.9 376.3 490.9 376.7 488.3 377.2 488.1 377.6 490.1 378.0 485.1 378.5 488.4 378.9 485.0 379.4 485.4 379.8 487.6 380.2 488.4 380.7 487.9 381.1 487.3 381.5 485.0 382.0 481.7 382.4 486.2 382.9 487.9 383.3 488.4 383.8 486.2 384.2 483.4 384.7 486.2 385.1 490.6 385.6 480.2 386.0 482.5 386.5 488.4 386.9 488.2 387.3 486.1 387.8 486.9 388.2 488.1 388.7 488.5 389.1 485.4 389.6 488.8 390.0 489.4 390.5 487.6 390.9 486.4 391.4 484.8 391.8 485.1 392.3 477.5 392.7 484.7 393.2 484.1 393.6 486.1 394.1 488.0 394.5 481.6 394.9 486.0 395.4 484.9 395.8 487.8 396.3 489.9 396.7 489.0 397.1 485.8 397.6 485.9 398.0 478.3 398.5 482.1 398.9 485.4 399.3 481.0 399.8 483.9 400.2 485.3 400.6 483.5 401.1 484.5 401.5 484.9 402.0 481.1 402.4 482.7 402.8 483.9 403.3 484.3 403.7 484.3 404.2 485.7 404.6 483.0 405.0 480.6 405.5 485.5 405.9 482.3 406.3 483.3 406.8 482.9 407.2 484.4 407.7 482.3 408.1 476.4 408.5 483.5 409.0 482.2 409.4 480.3 409.8 483.7 410.3 480.1 410.7 482.7 411.1 479.4 411.6 482.3 412.0 477.4 412.5 481.8 412.9 478.8 413.3 479.7 413.8 480.7 414.2 473.7 414.6 476.6 415.1 481.3 415.5 478.8 415.9 481.4 416.4 480.5 416.8 479.9 417.2 483.7 417.7 483.1 418.1 479.3 418.5 479.4 418.9 483.6 419.3 479.4 419.7 488.7 420.1 479.5 420.5 470.3 420.9 482.5 421.3 482.1 421.7 481.1 422.1 482.0 422.5 482.9 422.9 480.0 423.3 484.1 423.7 487.3 424.1 482.0 424.5 483.3 424.9 484.7 425.3 482.8 425.7 482.1 426.1 482.3 426.4 486.0 426.7 485.4 427.1 485.4 427.4 483.5 427.7 486.9 428.1 489.5 428.4 488.2 428.7 486.9 429.0 484.1 429.4 488.3 429.7 486.1 430.0 485.9 430.4 485.2 430.7 486.3 431.0 488.0 431.4 488.7 431.7 484.9 432.0 485.5 432.3 484.1 432.7 485.9 433.0 489.5 433.4 492.2 433.8 491.5 434.2 493.3 434.6 490.0 434.9 488.0 435.3 491.4 435.7 489.3 436.1 494.3 436.5 490.0 436.9 493.6 437.3 493.2 437.7 492.2 438.1 492.8 438.5 493.4 438.9 493.4 439.3 493.4 439.7 493.5 440.1 497.2 440.5 494.5 440.9 491.7 441.3 493.0 441.7 494.4 442.1 497.1 442.5 495.3 442.9 489.1 443.3 492.1 443.7 491.2 444.1 494.9 444.5 496.3 444.9 497.5 445.3 497.6 445.7 500.1 446.1 500.5 446.5 502.9 446.9 494.5 447.3 499.6 447.7 504.7 448.1 497.8 448.5 496.3 448.9 501.4 449.2 496.1 449.6 500.4 450.0 497.5 450.4 502.0 450.8 501.7 451.2 501.4 451.6 499.4 452.0 502.0 452.3 500.8 452.7 497.5 453.1 499.5 453.5 506.1 453.9 499.5 454.3 508.9 454.7 498.5 455.1 497.9 455.5 504.8 455.8 502.3 456.2 504.4 456.6 503.1 457.0 502.8 457.4 505.3 457.8 505.4 458.2 502.3 458.6 505.1 458.9 503.8 459.3 508.7 459.7 504.3 460.1 503.0 460.5 505.6 460.9 504.8 461.2 507.3 461.6 506.3 462.0 507.6 462.4 506.5 462.8 508.1 463.2 507.2 463.6 505.6 463.9 507.3 464.3 506.5 464.7 506.8 465.1 508.3 465.5 508.5 465.9 508.4 466.2 508.7 466.6 509.5 467.0 508.9 467.4 507.0 467.8 510.1 468.2 508.8 468.6 509.3 468.9 510.1 469.3 509.4 469.7 511.6 470.1 510.0 470.5 511.9 470.9 512.3 471.2 511.5 471.6 511.9 472.0 512.3 472.5 512.0 472.9 512.8 473.3 513.6 473.7 513.6 474.1 506.2 474.5 513.5 474.9 514.9 475.3 514.3 475.7 513.9 476.1 515.6 476.5 514.0 476.9 514.9 477.4 516.0 477.8 514.0 478.2 516.0 478.6 515.7 479.0 515.9 479.3 517.0 479.6 516.6 479.8 516.8 480.0 518.0 480.3 517.6 480.5 518.0" stroke="#000" stroke-width="0.85" fill="none" stroke-linejoin="round" opacity="1"/>
<path d="M277 495.25h3M277 472.5h3M277 449.75h3M277 427h3M277 404.25h3M317.7 518v-3M358.4 518v-3M399.1 518v-3M439.8 518v-3" stroke="#666666" stroke-width="1.1" fill="none"/>
<rect x="277" y="381.5" width="203.5" height="136.5" stroke="#666666" stroke-width="1.0" fill="none"/>
<text x="273.5" y="520.9" font-size="10" fill="#222" text-anchor="end" font-weight="normal" >0</text>
<text x="273.5" y="498.15" font-size="10" fill="#222" text-anchor="end" font-weight="normal" >1</text>
<text x="273.5" y="475.4" font-size="10" fill="#222" text-anchor="end" font-weight="normal" >2</text>
<text x="273.5" y="452.65" font-size="10" fill="#222" text-anchor="end" font-weight="normal" >3</text>
<text x="273.5" y="429.9" font-size="10" fill="#222" text-anchor="end" font-weight="normal" >4</text>
<text x="273.5" y="407.15" font-size="10" fill="#222" text-anchor="end" font-weight="normal" >5</text>
<text x="273.5" y="384.4" font-size="10" fill="#222" text-anchor="end" font-weight="normal" >6</text>
<text x="277" y="529.6" font-size="10" fill="#222" text-anchor="middle" font-weight="normal" >0</text>
<text x="317.7" y="529.6" font-size="10" fill="#222" text-anchor="middle" font-weight="normal" >10</text>
<text x="358.4" y="529.6" font-size="10" fill="#222" text-anchor="middle" font-weight="normal" >20</text>
<text x="399.1" y="529.6" font-size="10" fill="#222" text-anchor="middle" font-weight="normal" >30</text>
<text x="439.8" y="529.6" font-size="10" fill="#222" text-anchor="middle" font-weight="normal" >40</text>
<text x="480.5" y="529.6" font-size="10" fill="#222" text-anchor="middle" font-weight="normal" >50</text>
<text x="263" y="445.8" font-size="9.6" fill="#222" text-anchor="middle" font-weight="normal" transform="rotate(-90 263 445.8)">Impact force (kN)</text>
<text x="386.7" y="543.2" font-size="9.6" fill="#222" text-anchor="middle" font-weight="normal" >Displacement (mm)</text>
<text x="254.5" y="378" font-size="10" fill="#222" text-anchor="start" font-weight="normal" >(f)</text>
<path d="M280.27 371.84 L304.27 362.24 L306.73 368.36 L282.73 377.96Z" fill="#0a0f0d"/>
<path d="M280.27 371.84 L304.27 362.24 L305.07 364.23 L281.07 373.83Z" fill="#1f8566"/>
<path d="M282.24 376.74 L306.24 367.14 L306.73 368.36 L282.73 377.96Z" fill="#1f8566"/>
<ellipse cx="305.5" cy="365.3" rx="1.81" ry="3.3" transform="rotate(-21.8 305.5 365.3)" fill="#0a0f0d"/>
<ellipse cx="281.5" cy="374.9" rx="2.31" ry="3.3" transform="rotate(-21.8 281.5 374.9)" fill="#111" stroke="#1d7c60" stroke-width="0.9"/>
<ellipse cx="281.8" cy="374.9" rx="1.15" ry="1.98" transform="rotate(-21.8 281.5 374.9)" fill="#000"/>
<text x="310" y="378.5" font-size="9" fill="#222" text-anchor="start" font-weight="normal" >SPIH R = 10mm</text>
<text x="474.2" y="394" font-size="9.5" fill="#222" text-anchor="end" font-weight="normal" >Direct Penetration Mode</text>
<circle cx="285.55" cy="410.9" r="2.95" fill="none" stroke="#c4364c" stroke-width="0.6"/>
<text x="285.55" y="412.75" font-size="5.2" fill="#c4364c" text-anchor="middle">1</text>
<text x="293.1" y="413.6" font-size="7.3" fill="#c4364c" stroke="#c4364c" stroke-width="0.12" font-weight="bold" textLength="48" lengthAdjust="spacingAndGlyphs">indentation stage</text>
<path d="M277.5 416.9H332.3" stroke="#c4364c" stroke-width="1.0"/>
<path d="M277.5 416.9l3 -1.35v2.7z" fill="#c4364c"/>
<path d="M332.3 416.9l-3 -1.35v2.7z" fill="#c4364c"/>
<path d="M332.3 413.1V459" stroke="#c4364c" stroke-width="1.0" stroke-dasharray="2.1 1.4"/>
<circle cx="340.35" cy="431.9" r="2.95" fill="none" stroke="#3b8a5a" stroke-width="0.6"/>
<text x="340.35" y="433.75" font-size="5.2" fill="#3b8a5a" text-anchor="middle">3</text>
<text x="347.9" y="434.6" font-size="7.3" fill="#3b8a5a" stroke="#3b8a5a" stroke-width="0.12" font-weight="bold" textLength="42" lengthAdjust="spacingAndGlyphs">softening stage</text>
<path d="M334.8 438.6H376.9" stroke="#3b8a5a" stroke-width="1.0"/>
<path d="M334.8 438.6l3 -1.35v2.7z" fill="#3b8a5a"/>
<path d="M376.9 438.6l-3 -1.35v2.7z" fill="#3b8a5a"/>
<path d="M378.1 434.7V489.5" stroke="#3b8a5a" stroke-width="1.0" stroke-dasharray="2.1 1.4"/>
<circle cx="405.95" cy="453.8" r="2.95" fill="none" stroke="#a0743a" stroke-width="0.6"/>
<text x="405.95" y="455.65" font-size="5.2" fill="#a0743a" text-anchor="middle">4</text>
<text x="413.5" y="456.5" font-size="7.3" fill="#a0743a" stroke="#a0743a" stroke-width="0.12" font-weight="bold" textLength="49" lengthAdjust="spacingAndGlyphs">penetration stage</text>
<path d="M381.4 460.9H479.3" stroke="#a0743a" stroke-width="1.0"/>
<path d="M381.4 460.9l3 -1.35v2.7z" fill="#a0743a"/>
<path d="M479.3 460.9l-3 -1.35v2.7z" fill="#a0743a"/>
<path d="M479.8 450V518" stroke="#a0743a" stroke-width="1.0" stroke-dasharray="2.1 1.4"/>
</svg></body></html>
